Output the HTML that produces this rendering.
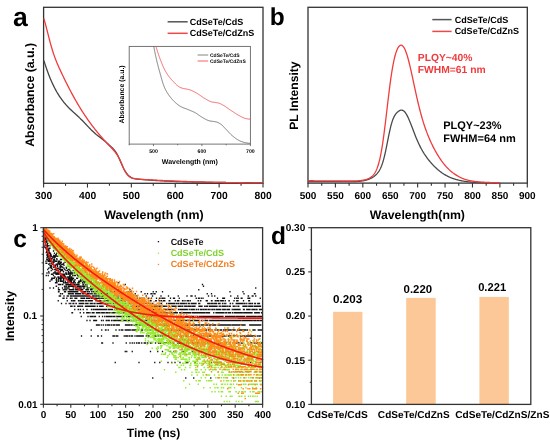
<!DOCTYPE html>
<html><head><meta charset="utf-8"><title>Figure</title>
<style>
html,body{margin:0;padding:0;background:#fff;}
svg{display:block;font-family:"Liberation Sans", sans-serif;text-rendering:geometricPrecision;filter:blur(0.35px);}
</style></head>
<body>
<svg width="550" height="443" viewBox="0 0 550 443">
<rect width="550" height="443" fill="#fff"/>
<rect x="43.6" y="7.3" width="219.4" height="176" stroke="#333" stroke-width="1.3" fill="none"/>
<line x1="43.6" y1="183.3" x2="43.6" y2="187.6" stroke="#333" stroke-width="1.1"/>
<line x1="65.54" y1="183.3" x2="65.54" y2="185.8" stroke="#333" stroke-width="1.1"/>
<line x1="87.48" y1="183.3" x2="87.48" y2="187.6" stroke="#333" stroke-width="1.1"/>
<line x1="109.42" y1="183.3" x2="109.42" y2="185.8" stroke="#333" stroke-width="1.1"/>
<line x1="131.36" y1="183.3" x2="131.36" y2="187.6" stroke="#333" stroke-width="1.1"/>
<line x1="153.3" y1="183.3" x2="153.3" y2="185.8" stroke="#333" stroke-width="1.1"/>
<line x1="175.24" y1="183.3" x2="175.24" y2="187.6" stroke="#333" stroke-width="1.1"/>
<line x1="197.18" y1="183.3" x2="197.18" y2="185.8" stroke="#333" stroke-width="1.1"/>
<line x1="219.12" y1="183.3" x2="219.12" y2="187.6" stroke="#333" stroke-width="1.1"/>
<line x1="241.06" y1="183.3" x2="241.06" y2="185.8" stroke="#333" stroke-width="1.1"/>
<line x1="263" y1="183.3" x2="263" y2="187.6" stroke="#333" stroke-width="1.1"/>
<text x="35.1" y="199.2" font-size="10.3" fill="#000" font-weight="bold">300</text>
<text x="79.02" y="199.2" font-size="10.3" fill="#000" font-weight="bold">400</text>
<text x="122.82" y="199.2" font-size="10.3" fill="#000" font-weight="bold">500</text>
<text x="166.67" y="199.2" font-size="10.3" fill="#000" font-weight="bold">600</text>
<text x="210.52" y="199.2" font-size="10.3" fill="#000" font-weight="bold">700</text>
<text x="254.46" y="199.2" font-size="10.3" fill="#000" font-weight="bold">800</text>
<text x="104.19" y="219" font-size="12.4" fill="#000" font-weight="bold">Wavelength (nm)</text>
<text transform="translate(33.6,146.81) rotate(-90)" x="0" y="0" font-size="12.3" fill="#000" font-weight="bold">Absorbance (a.u.)</text>
<text x="13.12" y="26.3" font-size="26.5" fill="#000" font-weight="bold">a</text>
<path d="M44,60.93 L44.55,62.67 L45.09,64.38 L45.64,66.04 L46.19,67.66 L46.74,69.24 L47.28,70.78 L47.83,72.28 L48.38,73.74 L48.92,75.17 L49.47,76.56 L50.02,77.91 L50.57,79.22 L51.11,80.5 L51.66,81.75 L52.21,82.96 L52.75,84.14 L53.3,85.29 L53.85,86.41 L54.4,87.49 L54.94,88.55 L55.49,89.58 L56.04,90.58 L56.58,91.56 L57.13,92.5 L57.68,93.42 L58.23,94.32 L58.77,95.19 L59.32,96.04 L59.87,96.87 L60.41,97.67 L60.96,98.45 L61.51,99.22 L62.05,99.96 L62.6,100.68 L63.15,101.39 L63.7,102.08 L64.24,102.75 L64.79,103.4 L65.34,104.04 L65.88,104.67 L66.43,105.28 L66.98,105.88 L67.53,106.47 L68.07,107.04 L68.62,107.61 L69.17,108.17 L69.71,108.71 L70.26,109.25 L70.81,109.78 L71.36,110.31 L71.9,110.82 L72.45,111.34 L73,111.84 L73.54,112.35 L74.09,112.85 L74.64,113.35 L75.19,113.85 L75.73,114.34 L76.28,114.84 L76.83,115.34 L77.37,115.84 L77.92,116.34 L78.47,116.84 L79.02,117.35 L79.56,117.86 L80.11,118.38 L80.66,118.91 L81.2,119.44 L81.75,119.98 L82.3,120.52 L82.85,121.08 L83.39,121.64 L83.94,122.21 L84.49,122.78 L85.03,123.35 L85.58,123.93 L86.13,124.52 L86.68,125.1 L87.22,125.68 L87.77,126.26 L88.32,126.84 L88.86,127.42 L89.41,127.99 L89.96,128.56 L90.51,129.12 L91.05,129.68 L91.6,130.22 L92.15,130.76 L92.69,131.29 L93.24,131.81 L93.79,132.32 L94.33,132.81 L94.88,133.29 L95.43,133.76 L95.98,134.22 L96.52,134.67 L97.07,135.1 L97.62,135.53 L98.16,135.96 L98.71,136.38 L99.26,136.79 L99.81,137.21 L100.35,137.62 L100.9,138.04 L101.45,138.46 L101.99,138.88 L102.54,139.3 L103.09,139.74 L103.64,140.18 L104.18,140.63 L104.73,141.09 L105.28,141.56 L105.82,142.04 L106.37,142.53 L106.92,143.02 L107.47,143.52 L108.01,144.02 L108.56,144.51 L109.11,145.01 L109.65,145.49 L110.2,145.97 L110.75,146.46 L111.3,146.95 L111.84,147.45 L112.39,147.97 L112.94,148.52 L113.48,149.09 L114.03,149.71 L114.58,150.37 L115.13,151.08 L115.67,151.85 L116.22,152.68 L116.77,153.57 L117.31,154.55 L117.86,155.6 L118.41,156.72 L118.96,157.9 L119.5,159.12 L120.05,160.38 L120.6,161.65 L121.14,162.92 L121.69,164.18 L122.24,165.42 L122.78,166.62 L123.33,167.77 L123.88,168.85 L124.43,169.86 L124.97,170.8 L125.52,171.67 L126.07,172.48 L126.61,173.22 L127.16,173.91 L127.71,174.54 L128.26,175.11 L128.8,175.63 L129.35,176.1 L129.9,176.53 L130.44,176.91 L130.99,177.25 L131.54,177.55 L132.09,177.82 L132.63,178.05 L133.18,178.26 L133.73,178.43 L134.27,178.59 L134.82,178.71 L135.37,178.82 L135.92,178.92 L136.46,178.99 L137.01,179.06 L137.56,179.12 L138.1,179.17 L138.65,179.22 L139.2,179.27 L139.75,179.31 L140.29,179.36 L140.84,179.41 L141.39,179.45 L141.93,179.5 L142.48,179.54 L143.03,179.59 L143.58,179.63 L144.12,179.67 L144.67,179.72 L145.22,179.76 L145.76,179.8 L146.31,179.84 L146.86,179.88 L147.41,179.92 L147.95,179.96 L148.5,180 L149.05,180.04 L149.59,180.08 L150.14,180.12 L150.69,180.16 L151.24,180.2 L151.78,180.23 L152.33,180.27 L152.88,180.31 L153.42,180.34 L153.97,180.38 L154.52,180.41 L155.06,180.45 L155.61,180.48 L156.16,180.51 L156.71,180.55 L157.25,180.58 L157.8,180.61 L158.35,180.65 L158.89,180.68 L159.44,180.71 L159.99,180.74 L160.54,180.77 L161.08,180.8 L161.63,180.83 L162.18,180.86 L162.72,180.89 L163.27,180.92 L163.82,180.95 L164.37,180.98 L164.91,181 L165.46,181.03 L166.01,181.06 L166.55,181.08 L167.1,181.11 L167.65,181.14 L168.2,181.16 L168.74,181.19 L169.29,181.21 L169.84,181.24 L170.38,181.26 L170.93,181.29 L171.48,181.31 L172.03,181.33 L172.57,181.36 L173.12,181.38 L173.67,181.4 L174.21,181.42 L174.76,181.45 L175.31,181.47 L175.86,181.49 L176.4,181.51 L176.95,181.53 L177.5,181.55 L178.04,181.57 L178.59,181.59 L179.14,181.61 L179.69,181.63 L180.23,181.65 L180.78,181.67 L181.33,181.69 L181.87,181.7 L182.42,181.72 L182.97,181.74 L183.52,181.76 L184.06,181.77 L184.61,181.79 L185.16,181.81 L185.7,181.82 L186.25,181.84 L186.8,181.86 L187.34,181.87 L187.89,181.89 L188.44,181.9 L188.99,181.92 L189.53,181.93 L190.08,181.95 L190.63,181.96 L191.17,181.97 L191.72,181.99 L192.27,182 L192.82,182.02 L193.36,182.03 L193.91,182.04 L194.46,182.05 L195,182.07 L195.55,182.08 L196.1,182.09 L196.65,182.1 L197.19,182.11 L197.74,182.13 L198.29,182.14 L198.83,182.15 L199.38,182.16 L199.93,182.17 L200.48,182.18 L201.02,182.19 L201.57,182.2 L202.12,182.21 L202.66,182.22 L203.21,182.23 L203.76,182.24 L204.31,182.25 L204.85,182.26 L205.4,182.27 L205.95,182.28 L206.49,182.29 L207.04,182.29 L207.59,182.3 L208.14,182.31 L208.68,182.32 L209.23,182.33 L209.78,182.34 L210.32,182.34 L210.87,182.35 L211.42,182.36 L211.97,182.37 L212.51,182.37 L213.06,182.38 L213.61,182.39 L214.15,182.4 L214.7,182.4 L215.25,182.41 L215.79,182.42 L216.34,182.42 L216.89,182.43 L217.44,182.44 L217.98,182.44 L218.53,182.45 L219.08,182.45 L219.62,182.46 L220.17,182.47 L220.72,182.47 L221.27,182.48 L221.81,182.48 L222.36,182.49 L222.91,182.5 L223.45,182.5 L224,182.51 L224.55,182.51 L225.1,182.52 L225.64,182.52 L226.19,182.53 L226.74,182.53 L227.28,182.54 L227.83,182.54 L228.38,182.55 L228.93,182.55 L229.47,182.56 L230.02,182.56 L230.57,182.57 L231.11,182.57 L231.66,182.58 L232.21,182.58 L232.76,182.59 L233.3,182.59 L233.85,182.6 L234.4,182.6 L234.94,182.61 L235.49,182.61 L236.04,182.62 L236.59,182.62 L237.13,182.63 L237.68,182.63 L238.23,182.64 L238.77,182.64 L239.32,182.65 L239.87,182.65 L240.42,182.66 L240.96,182.66 L241.51,182.67 L242.06,182.67 L242.6,182.68 L243.15,182.68 L243.7,182.69 L244.25,182.7 L244.79,182.7 L245.34,182.71 L245.89,182.71 L246.43,182.72 L246.98,182.72 L247.53,182.73 L248.07,182.73 L248.62,182.74 L249.17,182.74 L249.72,182.75 L250.26,182.76 L250.81,182.76 L251.36,182.77 L251.9,182.77 L252.45,182.78 L253,182.79 L253.55,182.79 L254.09,182.8 L254.64,182.81 L255.19,182.81 L255.73,182.82 L256.28,182.83 L256.83,182.83 L257.38,182.84 L257.92,182.85 L258.47,182.86 L259.02,182.86 L259.56,182.87 L260.11,182.88 L260.66,182.89 L261.21,182.89 L261.75,182.9 L262.3,182.9" stroke="#454545" stroke-width="1.3" fill="none" stroke-linejoin="round" stroke-linecap="round"/>
<path d="M44,18.92 L44.55,20.85 L45.09,22.84 L45.64,24.89 L46.19,26.98 L46.74,29.1 L47.28,31.24 L47.83,33.38 L48.38,35.52 L48.92,37.64 L49.47,39.74 L50.02,41.8 L50.57,43.82 L51.11,45.79 L51.66,47.69 L52.21,49.52 L52.75,51.28 L53.3,52.97 L53.85,54.59 L54.4,56.15 L54.94,57.66 L55.49,59.11 L56.04,60.51 L56.58,61.87 L57.13,63.19 L57.68,64.48 L58.23,65.74 L58.77,66.97 L59.32,68.18 L59.87,69.37 L60.41,70.55 L60.96,71.72 L61.51,72.89 L62.05,74.04 L62.6,75.2 L63.15,76.34 L63.7,77.47 L64.24,78.6 L64.79,79.73 L65.34,80.84 L65.88,81.95 L66.43,83.05 L66.98,84.14 L67.53,85.22 L68.07,86.3 L68.62,87.37 L69.17,88.43 L69.71,89.49 L70.26,90.53 L70.81,91.57 L71.36,92.6 L71.9,93.62 L72.45,94.63 L73,95.64 L73.54,96.63 L74.09,97.62 L74.64,98.6 L75.19,99.57 L75.73,100.54 L76.28,101.49 L76.83,102.44 L77.37,103.37 L77.92,104.3 L78.47,105.22 L79.02,106.13 L79.56,107.03 L80.11,107.92 L80.66,108.81 L81.2,109.68 L81.75,110.55 L82.3,111.41 L82.85,112.26 L83.39,113.1 L83.94,113.93 L84.49,114.76 L85.03,115.58 L85.58,116.39 L86.13,117.19 L86.68,117.99 L87.22,118.78 L87.77,119.56 L88.32,120.34 L88.86,121.1 L89.41,121.86 L89.96,122.62 L90.51,123.36 L91.05,124.1 L91.6,124.84 L92.15,125.57 L92.69,126.29 L93.24,127 L93.79,127.71 L94.33,128.41 L94.88,129.11 L95.43,129.8 L95.98,130.48 L96.52,131.16 L97.07,131.84 L97.62,132.5 L98.16,133.17 L98.71,133.82 L99.26,134.48 L99.81,135.12 L100.35,135.77 L100.9,136.4 L101.45,137.04 L101.99,137.67 L102.54,138.29 L103.09,138.91 L103.64,139.52 L104.18,140.13 L104.73,140.74 L105.28,141.34 L105.82,141.94 L106.37,142.53 L106.92,143.13 L107.47,143.71 L108.01,144.3 L108.56,144.88 L109.11,145.45 L109.65,146.03 L110.2,146.6 L110.75,147.16 L111.3,147.73 L111.84,148.3 L112.39,148.88 L112.94,149.48 L113.48,150.09 L114.03,150.71 L114.58,151.37 L115.13,152.05 L115.67,152.76 L116.22,153.51 L116.77,154.3 L117.31,155.13 L117.86,156.02 L118.41,156.95 L118.96,157.94 L119.5,158.99 L120.05,160.1 L120.6,161.28 L121.14,162.53 L121.69,163.82 L122.24,165.13 L122.78,166.44 L123.33,167.72 L123.88,168.95 L124.43,170.11 L124.97,171.18 L125.52,172.15 L126.07,173.03 L126.61,173.82 L127.16,174.54 L127.71,175.18 L128.26,175.74 L128.8,176.25 L129.35,176.68 L129.9,177.07 L130.44,177.39 L130.99,177.68 L131.54,177.91 L132.09,178.12 L132.63,178.28 L133.18,178.42 L133.73,178.54 L134.27,178.63 L134.82,178.71 L135.37,178.78 L135.92,178.85 L136.46,178.91 L137.01,178.97 L137.56,179.03 L138.1,179.08 L138.65,179.13 L139.2,179.18 L139.75,179.22 L140.29,179.26 L140.84,179.3 L141.39,179.34 L141.93,179.38 L142.48,179.42 L143.03,179.45 L143.58,179.49 L144.12,179.52 L144.67,179.55 L145.22,179.58 L145.76,179.62 L146.31,179.65 L146.86,179.68 L147.41,179.71 L147.95,179.74 L148.5,179.77 L149.05,179.8 L149.59,179.84 L150.14,179.87 L150.69,179.9 L151.24,179.93 L151.78,179.96 L152.33,179.99 L152.88,180.02 L153.42,180.05 L153.97,180.08 L154.52,180.1 L155.06,180.13 L155.61,180.16 L156.16,180.19 L156.71,180.22 L157.25,180.25 L157.8,180.28 L158.35,180.3 L158.89,180.33 L159.44,180.36 L159.99,180.39 L160.54,180.41 L161.08,180.44 L161.63,180.47 L162.18,180.49 L162.72,180.52 L163.27,180.55 L163.82,180.57 L164.37,180.6 L164.91,180.62 L165.46,180.65 L166.01,180.67 L166.55,180.7 L167.1,180.72 L167.65,180.75 L168.2,180.77 L168.74,180.8 L169.29,180.82 L169.84,180.85 L170.38,180.87 L170.93,180.89 L171.48,180.92 L172.03,180.94 L172.57,180.97 L173.12,180.99 L173.67,181.01 L174.21,181.03 L174.76,181.06 L175.31,181.08 L175.86,181.1 L176.4,181.12 L176.95,181.15 L177.5,181.17 L178.04,181.19 L178.59,181.21 L179.14,181.23 L179.69,181.25 L180.23,181.27 L180.78,181.3 L181.33,181.32 L181.87,181.34 L182.42,181.36 L182.97,181.38 L183.52,181.4 L184.06,181.42 L184.61,181.44 L185.16,181.46 L185.7,181.48 L186.25,181.5 L186.8,181.52 L187.34,181.53 L187.89,181.55 L188.44,181.57 L188.99,181.59 L189.53,181.61 L190.08,181.63 L190.63,181.65 L191.17,181.66 L191.72,181.68 L192.27,181.7 L192.82,181.72 L193.36,181.73 L193.91,181.75 L194.46,181.77 L195,181.78 L195.55,181.8 L196.1,181.82 L196.65,181.84 L197.19,181.85 L197.74,181.87 L198.29,181.88 L198.83,181.9 L199.38,181.92 L199.93,181.93 L200.48,181.95 L201.02,181.96 L201.57,181.98 L202.12,181.99 L202.66,182.01 L203.21,182.02 L203.76,182.04 L204.31,182.05 L204.85,182.07 L205.4,182.08 L205.95,182.09 L206.49,182.11 L207.04,182.12 L207.59,182.14 L208.14,182.15 L208.68,182.16 L209.23,182.18 L209.78,182.19 L210.32,182.2 L210.87,182.22 L211.42,182.23 L211.97,182.24 L212.51,182.25 L213.06,182.27 L213.61,182.28 L214.15,182.29 L214.7,182.3 L215.25,182.32 L215.79,182.33 L216.34,182.34 L216.89,182.35 L217.44,182.36 L217.98,182.37 L218.53,182.38 L219.08,182.4 L219.62,182.41 L220.17,182.42 L220.72,182.43 L221.27,182.44 L221.81,182.45 L222.36,182.46 L222.91,182.47 L223.45,182.48 L224,182.49 L224.55,182.5 L225.1,182.51 L225.64,182.52 L226.19,182.53 L226.74,182.54 L227.28,182.55 L227.83,182.56 L228.38,182.57 L228.93,182.58 L229.47,182.58 L230.02,182.59 L230.57,182.6 L231.11,182.61 L231.66,182.62 L232.21,182.63 L232.76,182.64 L233.3,182.64 L233.85,182.65 L234.4,182.66 L234.94,182.67 L235.49,182.68 L236.04,182.68 L236.59,182.69 L237.13,182.7 L237.68,182.71 L238.23,182.71 L238.77,182.72 L239.32,182.73 L239.87,182.73 L240.42,182.74 L240.96,182.75 L241.51,182.75 L242.06,182.76 L242.6,182.77 L243.15,182.77 L243.7,182.78 L244.25,182.79 L244.79,182.79 L245.34,182.8 L245.89,182.8 L246.43,182.81 L246.98,182.81 L247.53,182.82 L248.07,182.83 L248.62,182.83 L249.17,182.84 L249.72,182.84 L250.26,182.85 L250.81,182.85 L251.36,182.86 L251.9,182.86 L252.45,182.87 L253,182.87 L253.55,182.88 L254.09,182.88 L254.64,182.88 L255.19,182.89 L255.73,182.89 L256.28,182.9 L256.83,182.9 L257.38,182.9 L257.92,182.9 L258.47,182.9 L259.02,182.9 L259.56,182.9 L260.11,182.9 L260.66,182.9 L261.21,182.9 L261.75,182.9 L262.3,182.9" stroke="#f03c3c" stroke-width="1.3" fill="none" stroke-linejoin="round" stroke-linecap="round"/>
<line x1="167.6" y1="21.8" x2="187.7" y2="21.8" stroke="#555" stroke-width="1.5"/>
<line x1="167.6" y1="33.3" x2="187.7" y2="33.3" stroke="#f04848" stroke-width="1.5"/>
<text x="189.83" y="25" font-size="9" fill="#000" font-weight="bold">CdSeTe/CdS</text>
<text x="189.83" y="36.2" font-size="9" fill="#000" font-weight="bold">CdSeTe/CdZnS</text>
<rect x="129.2" y="46.4" width="121.20" height="97.70" fill="#fff" stroke="#666" stroke-width="0.9"/>
<line x1="129.2" y1="144.1" x2="129.2" y2="145.3" stroke="#555" stroke-width="0.8"/>
<line x1="153.44" y1="144.1" x2="153.44" y2="146.1" stroke="#555" stroke-width="0.8"/>
<line x1="177.68" y1="144.1" x2="177.68" y2="145.3" stroke="#555" stroke-width="0.8"/>
<line x1="201.92" y1="144.1" x2="201.92" y2="146.1" stroke="#555" stroke-width="0.8"/>
<line x1="226.16" y1="144.1" x2="226.16" y2="145.3" stroke="#555" stroke-width="0.8"/>
<line x1="250.4" y1="144.1" x2="250.4" y2="146.1" stroke="#555" stroke-width="0.8"/>
<text x="149.13" y="152.8" font-size="5.2" fill="#000" font-weight="bold">500</text>
<text x="197.59" y="152.8" font-size="5.2" fill="#000" font-weight="bold">600</text>
<text x="246.06" y="152.8" font-size="5.2" fill="#000" font-weight="bold">700</text>
<text x="161.79" y="163.9" font-size="7" fill="#000" font-weight="bold">Wavelength (nm)</text>
<text transform="translate(123.6,123.57) rotate(-90)" x="0" y="0" font-size="6.9" fill="#000" font-weight="bold">Absorbance (a.u.)</text>
<path d="M153.8,46.4 L153.89,46.89 L153.97,47.38 L154.06,47.86 L154.15,48.35 L154.24,48.84 L154.34,49.32 L154.43,49.81 L154.52,50.3 L154.62,50.78 L154.71,51.27 L154.81,51.76 L154.9,52.24 L155,52.73 L155.1,53.21 L155.2,53.7 L155.3,54.18 L155.4,54.67 L155.51,55.15 L155.61,55.64 L155.72,56.12 L155.82,56.6 L155.93,57.09 L156.03,57.57 L156.14,58.05 L156.25,58.54 L156.36,59.02 L156.47,59.5 L156.58,59.98 L156.69,60.46 L156.81,60.95 L156.92,61.43 L157.04,61.91 L157.15,62.39 L157.27,62.87 L157.39,63.35 L157.51,63.83 L157.63,64.31 L157.76,64.79 L157.88,65.27 L158,65.75 L158.13,66.23 L158.26,66.71 L158.38,67.19 L158.51,67.67 L158.64,68.15 L158.77,68.62 L158.9,69.1 L159.03,69.58 L159.16,70.06 L159.29,70.53 L159.43,71.01 L159.56,71.49 L159.69,71.97 L159.83,72.44 L159.96,72.92 L160.1,73.39 L160.23,73.87 L160.37,74.35 L160.5,74.83 L160.63,75.31 L160.77,75.79 L160.9,76.27 L161.03,76.75 L161.16,77.23 L161.3,77.71 L161.43,78.2 L161.57,78.68 L161.7,79.16 L161.84,79.64 L161.98,80.12 L162.12,80.6 L162.26,81.08 L162.4,81.56 L162.55,82.03 L162.7,82.51 L162.85,82.98 L163,83.45 L163.16,83.92 L163.32,84.38 L163.48,84.85 L163.65,85.31 L163.82,85.77 L163.99,86.22 L164.17,86.68 L164.36,87.13 L164.54,87.57 L164.74,88.01 L164.94,88.46 L165.15,88.9 L165.36,89.34 L165.59,89.79 L165.82,90.23 L166.05,90.67 L166.3,91.1 L166.54,91.54 L166.8,91.97 L167.06,92.41 L167.32,92.84 L167.59,93.26 L167.86,93.69 L168.14,94.11 L168.43,94.52 L168.71,94.94 L169,95.35 L169.3,95.75 L169.59,96.15 L169.89,96.55 L170.19,96.94 L170.5,97.32 L170.8,97.7 L171.11,98.07 L171.42,98.44 L171.73,98.81 L172.06,99.18 L172.38,99.54 L172.72,99.91 L173.06,100.27 L173.4,100.64 L173.75,101 L174.11,101.36 L174.47,101.71 L174.84,102.06 L175.21,102.41 L175.58,102.76 L175.96,103.09 L176.34,103.43 L176.73,103.75 L177.12,104.07 L177.51,104.39 L177.91,104.69 L178.31,104.99 L178.71,105.28 L179.12,105.56 L179.53,105.83 L179.94,106.09 L180.35,106.34 L180.76,106.58 L181.18,106.81 L181.61,107.02 L182.05,107.23 L182.5,107.43 L182.95,107.62 L183.41,107.8 L183.88,107.98 L184.35,108.16 L184.82,108.33 L185.29,108.5 L185.76,108.67 L186.24,108.85 L186.71,109.02 L187.17,109.2 L187.63,109.39 L188.09,109.58 L188.55,109.77 L189.01,109.96 L189.47,110.15 L189.93,110.34 L190.39,110.52 L190.85,110.71 L191.31,110.9 L191.77,111.09 L192.23,111.29 L192.68,111.49 L193.13,111.69 L193.58,111.89 L194.02,112.11 L194.47,112.32 L194.9,112.55 L195.33,112.78 L195.76,113.03 L196.18,113.28 L196.59,113.55 L197.01,113.83 L197.41,114.11 L197.82,114.39 L198.23,114.68 L198.63,114.98 L199.03,115.27 L199.44,115.56 L199.84,115.85 L200.25,116.13 L200.66,116.41 L201.08,116.68 L201.5,116.94 L201.92,117.2 L202.35,117.44 L202.78,117.69 L203.21,117.94 L203.64,118.19 L204.08,118.44 L204.52,118.69 L204.96,118.94 L205.4,119.18 L205.84,119.41 L206.29,119.64 L206.74,119.86 L207.19,120.06 L207.65,120.25 L208.1,120.43 L208.56,120.59 L209.03,120.73 L209.49,120.85 L209.97,120.95 L210.45,121.05 L210.94,121.13 L211.43,121.2 L211.93,121.27 L212.43,121.34 L212.93,121.4 L213.43,121.46 L213.92,121.53 L214.42,121.6 L214.91,121.68 L215.39,121.77 L215.87,121.87 L216.34,121.98 L216.8,122.12 L217.26,122.28 L217.72,122.46 L218.18,122.67 L218.64,122.89 L219.08,123.13 L219.52,123.38 L219.96,123.65 L220.38,123.91 L220.79,124.18 L221.18,124.46 L221.57,124.75 L221.94,125.05 L222.3,125.38 L222.66,125.72 L223.01,126.07 L223.35,126.43 L223.69,126.8 L224.03,127.18 L224.36,127.55 L224.7,127.93 L225.04,128.3 L225.38,128.67 L225.73,129.02 L226.07,129.38 L226.42,129.73 L226.77,130.09 L227.11,130.45 L227.45,130.81 L227.79,131.18 L228.13,131.54 L228.47,131.91 L228.81,132.27 L229.15,132.63 L229.5,133 L229.84,133.35 L230.19,133.71 L230.54,134.06 L230.89,134.41 L231.24,134.75 L231.6,135.09 L231.97,135.42 L232.33,135.74 L232.71,136.06 L233.08,136.37 L233.47,136.68 L233.85,136.98 L234.25,137.29 L234.64,137.6 L235.04,137.91 L235.44,138.21 L235.85,138.51 L236.26,138.8 L236.67,139.09 L237.09,139.36 L237.51,139.63 L237.94,139.89 L238.37,140.14 L238.8,140.38 L239.23,140.6 L239.67,140.81 L240.11,141 L240.56,141.19 L241.01,141.37 L241.47,141.54 L241.94,141.7 L242.41,141.86 L242.89,142.02 L243.37,142.16 L243.85,142.3 L244.34,142.43 L244.82,142.55 L245.31,142.66 L245.79,142.76 L246.27,142.85 L246.76,142.94 L247.25,143.02 L247.73,143.1 L248.22,143.18 L248.72,143.24 L249.21,143.3 L249.7,143.36 L250.2,143.4" stroke="#6a6a6a" stroke-width="0.9" fill="none" stroke-linejoin="round" stroke-linecap="round"/>
<path d="M156,46.4 L156.11,46.81 L156.23,47.22 L156.34,47.62 L156.46,48.03 L156.58,48.44 L156.7,48.85 L156.82,49.25 L156.94,49.66 L157.07,50.06 L157.19,50.47 L157.32,50.87 L157.45,51.27 L157.57,51.68 L157.7,52.08 L157.83,52.48 L157.97,52.88 L158.1,53.29 L158.23,53.69 L158.37,54.09 L158.51,54.49 L158.64,54.89 L158.78,55.29 L158.92,55.68 L159.06,56.08 L159.2,56.48 L159.35,56.88 L159.49,57.27 L159.63,57.67 L159.78,58.07 L159.92,58.46 L160.07,58.86 L160.22,59.25 L160.37,59.65 L160.52,60.04 L160.67,60.44 L160.82,60.83 L160.97,61.23 L161.12,61.63 L161.28,62.02 L161.43,62.42 L161.59,62.82 L161.74,63.21 L161.9,63.61 L162.06,64 L162.22,64.4 L162.39,64.79 L162.55,65.18 L162.72,65.58 L162.89,65.97 L163.06,66.36 L163.23,66.74 L163.41,67.13 L163.58,67.52 L163.76,67.9 L163.94,68.28 L164.13,68.66 L164.31,69.04 L164.5,69.41 L164.69,69.78 L164.88,70.15 L165.08,70.52 L165.28,70.89 L165.48,71.25 L165.69,71.61 L165.9,71.97 L166.12,72.33 L166.34,72.69 L166.56,73.05 L166.79,73.41 L167.02,73.76 L167.26,74.12 L167.49,74.47 L167.74,74.82 L167.98,75.17 L168.23,75.52 L168.48,75.87 L168.74,76.21 L168.99,76.56 L169.25,76.9 L169.52,77.23 L169.78,77.57 L170.05,77.9 L170.32,78.23 L170.59,78.56 L170.86,78.88 L171.14,79.2 L171.42,79.52 L171.7,79.83 L171.98,80.14 L172.26,80.45 L172.54,80.75 L172.83,81.06 L173.12,81.37 L173.41,81.68 L173.7,82 L174,82.32 L174.3,82.64 L174.61,82.96 L174.91,83.27 L175.22,83.59 L175.54,83.9 L175.86,84.21 L176.18,84.51 L176.5,84.81 L176.82,85.1 L177.15,85.38 L177.49,85.66 L177.82,85.92 L178.16,86.18 L178.5,86.43 L178.84,86.66 L179.19,86.88 L179.54,87.09 L179.9,87.28 L180.25,87.46 L180.61,87.62 L180.97,87.77 L181.35,87.9 L181.73,88.03 L182.12,88.14 L182.51,88.25 L182.91,88.36 L183.32,88.45 L183.74,88.54 L184.15,88.63 L184.58,88.72 L185,88.8 L185.43,88.88 L185.85,88.96 L186.28,89.04 L186.71,89.12 L187.14,89.2 L187.57,89.29 L187.99,89.38 L188.41,89.47 L188.83,89.57 L189.24,89.68 L189.64,89.79 L190.04,89.92 L190.44,90.05 L190.83,90.19 L191.22,90.34 L191.61,90.5 L191.99,90.67 L192.38,90.84 L192.76,91.02 L193.14,91.21 L193.52,91.41 L193.89,91.6 L194.27,91.81 L194.64,92.01 L195.02,92.22 L195.39,92.43 L195.76,92.65 L196.13,92.86 L196.49,93.07 L196.86,93.29 L197.23,93.5 L197.59,93.71 L197.95,93.93 L198.31,94.15 L198.66,94.38 L199.02,94.61 L199.37,94.85 L199.72,95.09 L200.07,95.33 L200.41,95.57 L200.76,95.82 L201.11,96.06 L201.45,96.31 L201.8,96.55 L202.15,96.79 L202.5,97.03 L202.85,97.27 L203.2,97.5 L203.56,97.73 L203.91,97.95 L204.27,98.17 L204.64,98.38 L205,98.59 L205.37,98.81 L205.74,99.03 L206.1,99.26 L206.47,99.48 L206.84,99.7 L207.21,99.92 L207.59,100.13 L207.96,100.35 L208.34,100.55 L208.72,100.75 L209.1,100.94 L209.48,101.12 L209.86,101.3 L210.25,101.45 L210.64,101.6 L211.03,101.73 L211.42,101.85 L211.82,101.95 L212.22,102.05 L212.63,102.13 L213.04,102.2 L213.46,102.27 L213.88,102.33 L214.31,102.39 L214.73,102.44 L215.16,102.5 L215.59,102.55 L216.01,102.61 L216.44,102.67 L216.86,102.73 L217.28,102.8 L217.69,102.87 L218.1,102.96 L218.51,103.05 L218.9,103.16 L219.3,103.28 L219.69,103.42 L220.08,103.58 L220.47,103.76 L220.85,103.94 L221.23,104.14 L221.61,104.34 L221.99,104.55 L222.36,104.76 L222.73,104.97 L223.1,105.18 L223.47,105.38 L223.84,105.59 L224.2,105.81 L224.56,106.02 L224.91,106.25 L225.27,106.48 L225.62,106.71 L225.97,106.95 L226.31,107.19 L226.66,107.44 L227.01,107.68 L227.35,107.93 L227.7,108.18 L228.04,108.42 L228.39,108.67 L228.73,108.92 L229.08,109.16 L229.42,109.41 L229.77,109.65 L230.12,109.89 L230.48,110.12 L230.83,110.35 L231.18,110.58 L231.54,110.81 L231.89,111.05 L232.24,111.28 L232.6,111.52 L232.95,111.75 L233.3,111.99 L233.66,112.22 L234.01,112.46 L234.37,112.69 L234.72,112.93 L235.08,113.16 L235.43,113.39 L235.79,113.62 L236.15,113.84 L236.51,114.07 L236.87,114.29 L237.23,114.51 L237.59,114.73 L237.95,114.94 L238.32,115.15 L238.69,115.35 L239.06,115.56 L239.43,115.75 L239.8,115.95 L240.17,116.14 L240.55,116.33 L240.93,116.52 L241.31,116.71 L241.69,116.91 L242.07,117.1 L242.46,117.29 L242.84,117.47 L243.23,117.65 L243.63,117.82 L244.02,117.98 L244.41,118.14 L244.81,118.27 L245.21,118.4 L245.61,118.51 L246.01,118.6 L246.42,118.69 L246.83,118.77 L247.24,118.85 L247.66,118.92 L248.08,118.99 L248.5,119.05 L248.92,119.1 L249.34,119.14 L249.77,119.18 L250.2,119.2" stroke="#f05050" stroke-width="0.9" fill="none" stroke-linejoin="round" stroke-linecap="round"/>
<line x1="197.6" y1="55" x2="208.2" y2="55" stroke="#777" stroke-width="0.9"/>
<line x1="197.6" y1="61" x2="208.2" y2="61" stroke="#f05050" stroke-width="0.9"/>
<text x="209.99" y="56.6" font-size="5" fill="#000" font-weight="bold">CdSeTe/CdS</text>
<text x="209.99" y="62.6" font-size="5" fill="#000" font-weight="bold">CdSeTe/CdZnS</text>
<rect x="308" y="7.3" width="219.3" height="175.8" stroke="#333" stroke-width="1.3" fill="none"/>
<line x1="308" y1="183.1" x2="308" y2="187.5" stroke="#333" stroke-width="1.1"/>
<line x1="321.71" y1="183.1" x2="321.71" y2="185.7" stroke="#333" stroke-width="1.1"/>
<line x1="335.41" y1="183.1" x2="335.41" y2="187.5" stroke="#333" stroke-width="1.1"/>
<line x1="349.12" y1="183.1" x2="349.12" y2="185.7" stroke="#333" stroke-width="1.1"/>
<line x1="362.82" y1="183.1" x2="362.82" y2="187.5" stroke="#333" stroke-width="1.1"/>
<line x1="376.53" y1="183.1" x2="376.53" y2="185.7" stroke="#333" stroke-width="1.1"/>
<line x1="390.24" y1="183.1" x2="390.24" y2="187.5" stroke="#333" stroke-width="1.1"/>
<line x1="403.94" y1="183.1" x2="403.94" y2="185.7" stroke="#333" stroke-width="1.1"/>
<line x1="417.65" y1="183.1" x2="417.65" y2="187.5" stroke="#333" stroke-width="1.1"/>
<line x1="431.36" y1="183.1" x2="431.36" y2="185.7" stroke="#333" stroke-width="1.1"/>
<line x1="445.06" y1="183.1" x2="445.06" y2="187.5" stroke="#333" stroke-width="1.1"/>
<line x1="458.77" y1="183.1" x2="458.77" y2="185.7" stroke="#333" stroke-width="1.1"/>
<line x1="472.47" y1="183.1" x2="472.47" y2="187.5" stroke="#333" stroke-width="1.1"/>
<line x1="486.18" y1="183.1" x2="486.18" y2="185.7" stroke="#333" stroke-width="1.1"/>
<line x1="499.89" y1="183.1" x2="499.89" y2="187.5" stroke="#333" stroke-width="1.1"/>
<line x1="513.59" y1="183.1" x2="513.59" y2="185.7" stroke="#333" stroke-width="1.1"/>
<line x1="527.3" y1="183.1" x2="527.3" y2="187.5" stroke="#333" stroke-width="1.1"/>
<text x="299.71" y="199" font-size="10" fill="#000" font-weight="bold">500</text>
<text x="327.12" y="199" font-size="10" fill="#000" font-weight="bold">550</text>
<text x="354.5" y="199" font-size="10" fill="#000" font-weight="bold">600</text>
<text x="381.92" y="199" font-size="10" fill="#000" font-weight="bold">650</text>
<text x="409.3" y="199" font-size="10" fill="#000" font-weight="bold">700</text>
<text x="436.71" y="199" font-size="10" fill="#000" font-weight="bold">750</text>
<text x="464.18" y="199" font-size="10" fill="#000" font-weight="bold">800</text>
<text x="491.59" y="199" font-size="10" fill="#000" font-weight="bold">850</text>
<text x="518.99" y="199" font-size="10" fill="#000" font-weight="bold">900</text>
<text x="369.79" y="219.2" font-size="12.3" fill="#000" font-weight="bold">Wavelength(nm)</text>
<text transform="translate(298,129.81) rotate(-90)" x="0" y="0" font-size="12.1" fill="#000" font-weight="bold">PL Intensity</text>
<text x="269.69" y="24.9" font-size="24.5" fill="#000" font-weight="bold">b</text>
<path d="M308.6,181.52 L308.98,181.52 L309.37,181.52 L309.75,181.53 L310.13,181.53 L310.51,181.53 L310.9,181.53 L311.28,181.53 L311.66,181.54 L312.04,181.54 L312.43,181.54 L312.81,181.54 L313.19,181.54 L313.57,181.55 L313.96,181.55 L314.34,181.55 L314.72,181.55 L315.1,181.55 L315.49,181.56 L315.87,181.56 L316.25,181.56 L316.63,181.56 L317.02,181.57 L317.4,181.57 L317.78,181.57 L318.16,181.57 L318.55,181.57 L318.93,181.58 L319.31,181.58 L319.69,181.58 L320.08,181.58 L320.46,181.58 L320.84,181.59 L321.22,181.59 L321.61,181.59 L321.99,181.59 L322.37,181.59 L322.75,181.6 L323.14,181.6 L323.52,181.6 L323.9,181.6 L324.29,181.6 L324.67,181.61 L325.05,181.61 L325.43,181.61 L325.82,181.61 L326.2,181.61 L326.58,181.62 L326.96,181.62 L327.35,181.62 L327.73,181.62 L328.11,181.62 L328.49,181.63 L328.88,181.63 L329.26,181.63 L329.64,181.63 L330.02,181.63 L330.41,181.64 L330.79,181.64 L331.17,181.64 L331.55,181.64 L331.94,181.64 L332.32,181.65 L332.7,181.65 L333.08,181.65 L333.47,181.65 L333.85,181.66 L334.23,181.66 L334.61,181.66 L335,181.66 L335.38,181.66 L335.76,181.67 L336.14,181.67 L336.53,181.67 L336.91,181.67 L337.29,181.67 L337.67,181.67 L338.06,181.68 L338.44,181.68 L338.82,181.68 L339.21,181.68 L339.59,181.68 L339.97,181.69 L340.35,181.69 L340.74,181.69 L341.12,181.69 L341.5,181.69 L341.88,181.69 L342.27,181.7 L342.65,181.7 L343.03,181.7 L343.41,181.7 L343.8,181.7 L344.18,181.7 L344.56,181.7 L344.94,181.7 L345.33,181.7 L345.71,181.7 L346.09,181.7 L346.47,181.7 L346.86,181.7 L347.24,181.7 L347.62,181.7 L348,181.7 L348.39,181.7 L348.77,181.7 L349.15,181.7 L349.53,181.69 L349.92,181.69 L350.3,181.69 L350.68,181.68 L351.06,181.68 L351.45,181.67 L351.83,181.67 L352.21,181.66 L352.59,181.66 L352.98,181.65 L353.36,181.64 L353.74,181.63 L354.13,181.62 L354.51,181.61 L354.89,181.59 L355.27,181.58 L355.66,181.56 L356.04,181.54 L356.42,181.53 L356.8,181.51 L357.19,181.48 L357.57,181.46 L357.95,181.43 L358.33,181.41 L358.72,181.38 L359.1,181.34 L359.48,181.31 L359.86,181.27 L360.25,181.23 L360.63,181.19 L361.01,181.14 L361.39,181.09 L361.78,181.04 L362.16,180.98 L362.54,180.92 L362.92,180.86 L363.31,180.79 L363.69,180.72 L364.07,180.65 L364.45,180.56 L364.84,180.48 L365.22,180.39 L365.6,180.29 L365.98,180.19 L366.37,180.09 L366.75,179.97 L367.13,179.86 L367.52,179.73 L367.9,179.6 L368.28,179.46 L368.66,179.32 L369.05,179.17 L369.43,179.01 L369.81,178.84 L370.19,178.67 L370.58,178.49 L370.96,178.29 L371.34,178.09 L371.72,177.88 L372.11,177.66 L372.49,177.43 L372.87,177.19 L373.25,176.94 L373.64,176.68 L374.02,176.4 L374.4,176.11 L374.78,175.81 L375.17,175.49 L375.55,175.15 L375.93,174.8 L376.31,174.42 L376.7,174.03 L377.08,173.61 L377.46,173.16 L377.84,172.69 L378.23,172.18 L378.61,171.64 L378.99,171.06 L379.37,170.44 L379.76,169.77 L380.14,169.05 L380.52,168.27 L380.9,167.43 L381.29,166.53 L381.67,165.56 L382.05,164.52 L382.44,163.4 L382.82,162.2 L383.2,160.92 L383.58,159.56 L383.97,158.12 L384.35,156.6 L384.73,155 L385.11,153.33 L385.5,151.6 L385.88,149.8 L386.26,147.96 L386.64,146.07 L387.03,144.16 L387.41,142.23 L387.79,140.29 L388.17,138.37 L388.56,136.46 L388.94,134.6 L389.32,132.77 L389.7,131.01 L390.09,129.31 L390.47,127.69 L390.85,126.15 L391.23,124.7 L391.62,123.34 L392,122.08 L392.38,120.9 L392.76,119.82 L393.15,118.83 L393.53,117.92 L393.91,117.09 L394.29,116.34 L394.68,115.65 L395.06,115.02 L395.44,114.45 L395.82,113.93 L396.21,113.45 L396.59,113.01 L396.97,112.61 L397.36,112.23 L397.74,111.89 L398.12,111.58 L398.5,111.29 L398.89,111.03 L399.27,110.8 L399.65,110.6 L400.03,110.44 L400.42,110.3 L400.8,110.21 L401.18,110.15 L401.56,110.14 L401.95,110.17 L402.33,110.25 L402.71,110.37 L403.09,110.55 L403.48,110.78 L403.86,111.06 L404.24,111.39 L404.62,111.78 L405.01,112.22 L405.39,112.71 L405.77,113.26 L406.15,113.85 L406.54,114.49 L406.92,115.17 L407.3,115.89 L407.68,116.66 L408.07,117.46 L408.45,118.3 L408.83,119.16 L409.21,120.06 L409.6,120.98 L409.98,121.92 L410.36,122.87 L410.74,123.85 L411.13,124.83 L411.51,125.83 L411.89,126.83 L412.28,127.83 L412.66,128.84 L413.04,129.85 L413.42,130.85 L413.81,131.85 L414.19,132.84 L414.57,133.82 L414.95,134.79 L415.34,135.76 L415.72,136.7 L416.1,137.64 L416.48,138.56 L416.87,139.47 L417.25,140.36 L417.63,141.23 L418.01,142.09 L418.4,142.93 L418.78,143.75 L419.16,144.56 L419.54,145.35 L419.93,146.12 L420.31,146.87 L420.69,147.61 L421.07,148.34 L421.46,149.04 L421.84,149.74 L422.22,150.41 L422.6,151.08 L422.99,151.72 L423.37,152.36 L423.75,152.98 L424.13,153.59 L424.52,154.18 L424.9,154.77 L425.28,155.34 L425.66,155.9 L426.05,156.45 L426.43,156.99 L426.81,157.52 L427.2,158.04 L427.58,158.55 L427.96,159.06 L428.34,159.55 L428.73,160.04 L429.11,160.51 L429.49,160.98 L429.87,161.45 L430.26,161.9 L430.64,162.35 L431.02,162.79 L431.4,163.23 L431.79,163.65 L432.17,164.07 L432.55,164.49 L432.93,164.9 L433.32,165.3 L433.7,165.69 L434.08,166.08 L434.46,166.47 L434.85,166.85 L435.23,167.22 L435.61,167.58 L435.99,167.94 L436.38,168.3 L436.76,168.65 L437.14,168.99 L437.52,169.33 L437.91,169.66 L438.29,169.98 L438.67,170.3 L439.05,170.62 L439.44,170.92 L439.82,171.23 L440.2,171.52 L440.58,171.82 L440.97,172.1 L441.35,172.38 L441.73,172.66 L442.12,172.93 L442.5,173.19 L442.88,173.45 L443.26,173.7 L443.65,173.95 L444.03,174.19 L444.41,174.43 L444.79,174.66 L445.18,174.89 L445.56,175.11 L445.94,175.33 L446.32,175.54 L446.71,175.75 L447.09,175.95 L447.47,176.15 L447.85,176.34 L448.24,176.53 L448.62,176.71 L449,176.89 L449.38,177.06 L449.77,177.23 L450.15,177.4 L450.53,177.56 L450.91,177.72 L451.3,177.87 L451.68,178.02 L452.06,178.16 L452.44,178.3 L452.83,178.44 L453.21,178.57 L453.59,178.7 L453.97,178.83 L454.36,178.95 L454.74,179.07 L455.12,179.18 L455.51,179.3 L455.89,179.41 L456.27,179.52 L456.65,179.63 L457.04,179.74 L457.42,179.85 L457.8,179.95 L458.18,180.05 L458.57,180.14 L458.95,180.24 L459.33,180.33 L459.71,180.42 L460.1,180.5 L460.48,180.58 L460.86,180.66 L461.24,180.74 L461.63,180.82 L462.01,180.89 L462.39,180.96 L462.77,181.03 L463.16,181.1 L463.54,181.16 L463.92,181.22 L464.3,181.28 L464.69,181.34 L465.07,181.4 L465.45,181.45 L465.83,181.51 L466.22,181.56 L466.6,181.61 L466.98,181.65 L467.36,181.7 L467.75,181.74 L468.13,181.79 L468.51,181.83 L468.89,181.87 L469.28,181.91 L469.66,181.94 L470.04,181.98 L470.43,182.01 L470.81,182.05 L471.19,182.08 L471.57,182.11 L471.96,182.14 L472.34,182.17 L472.72,182.2 L473.1,182.22 L473.49,182.25 L473.87,182.28 L474.25,182.3 L474.63,182.32 L475.02,182.35 L475.4,182.37 L475.78,182.39 L476.16,182.41 L476.55,182.43 L476.93,182.45 L477.31,182.47 L477.69,182.49 L478.08,182.51 L478.46,182.53 L478.84,182.54 L479.22,182.56 L479.61,182.58 L479.99,182.59 L480.37,182.61 L480.75,182.62 L481.14,182.64 L481.52,182.65 L481.9,182.66 L482.28,182.68 L482.67,182.69 L483.05,182.7 L483.43,182.72 L483.81,182.73 L484.2,182.74 L484.58,182.75 L484.96,182.76 L485.35,182.77 L485.73,182.79 L486.11,182.8 L486.49,182.81 L486.88,182.82 L487.26,182.83 L487.64,182.84 L488.02,182.85 L488.41,182.86 L488.79,182.87 L489.17,182.88 L489.55,182.89 L489.94,182.9 L490.32,182.91 L490.7,182.91 L491.08,182.92 L491.47,182.93 L491.85,182.94 L492.23,182.95 L492.61,182.96 L493,182.97 L493.38,182.97 L493.76,182.98 L494.14,182.99 L494.53,183 L494.91,183.01 L495.29,183.02 L495.67,183.02 L496.06,183.03 L496.44,183.04 L496.82,183.05 L497.2,183.05 L497.59,183.06 L497.97,183.07 L498.35,183.08 L498.73,183.09 L499.12,183.09 L499.5,183.1" stroke="#4a4a4a" stroke-width="1.3" fill="none" stroke-linejoin="round" stroke-linecap="round"/>
<path d="M308.6,180.74 L308.98,180.74 L309.37,180.74 L309.75,180.75 L310.13,180.75 L310.51,180.75 L310.9,180.75 L311.28,180.76 L311.66,180.76 L312.04,180.76 L312.43,180.77 L312.81,180.77 L313.19,180.77 L313.57,180.77 L313.96,180.78 L314.34,180.78 L314.72,180.78 L315.1,180.79 L315.49,180.79 L315.87,180.79 L316.25,180.79 L316.63,180.8 L317.02,180.8 L317.4,180.8 L317.78,180.81 L318.16,180.81 L318.55,180.81 L318.93,180.81 L319.31,180.82 L319.69,180.82 L320.08,180.82 L320.46,180.83 L320.84,180.83 L321.22,180.83 L321.61,180.83 L321.99,180.84 L322.37,180.84 L322.75,180.84 L323.14,180.85 L323.52,180.85 L323.9,180.85 L324.29,180.85 L324.67,180.86 L325.05,180.86 L325.43,180.86 L325.82,180.86 L326.2,180.87 L326.58,180.87 L326.96,180.87 L327.35,180.88 L327.73,180.88 L328.11,180.88 L328.49,180.88 L328.88,180.89 L329.26,180.89 L329.64,180.89 L330.02,180.9 L330.41,180.9 L330.79,180.9 L331.17,180.9 L331.55,180.91 L331.94,180.91 L332.32,180.91 L332.7,180.92 L333.08,180.92 L333.47,180.92 L333.85,180.92 L334.23,180.93 L334.61,180.93 L335,180.93 L335.38,180.94 L335.76,180.94 L336.14,180.94 L336.53,180.94 L336.91,180.95 L337.29,180.95 L337.67,180.95 L338.06,180.95 L338.44,180.96 L338.82,180.96 L339.21,180.96 L339.59,180.97 L339.97,180.97 L340.35,180.97 L340.74,180.97 L341.12,180.98 L341.5,180.98 L341.88,180.98 L342.27,180.98 L342.65,180.98 L343.03,180.99 L343.41,180.99 L343.8,180.99 L344.18,180.99 L344.56,181 L344.94,181 L345.33,181 L345.71,181 L346.09,181 L346.47,181 L346.86,181 L347.24,181 L347.62,181.01 L348,181.01 L348.39,181.01 L348.77,181.01 L349.15,181.01 L349.53,181 L349.92,181 L350.3,181 L350.68,181 L351.06,181 L351.45,180.99 L351.83,180.99 L352.21,180.98 L352.59,180.98 L352.98,180.97 L353.36,180.97 L353.74,180.96 L354.13,180.95 L354.51,180.94 L354.89,180.93 L355.27,180.92 L355.66,180.9 L356.04,180.89 L356.42,180.87 L356.8,180.85 L357.19,180.83 L357.57,180.81 L357.95,180.79 L358.33,180.76 L358.72,180.74 L359.1,180.7 L359.48,180.67 L359.86,180.64 L360.25,180.6 L360.63,180.56 L361.01,180.51 L361.39,180.46 L361.78,180.41 L362.16,180.35 L362.54,180.29 L362.92,180.23 L363.31,180.16 L363.69,180.08 L364.07,180 L364.45,179.92 L364.84,179.83 L365.22,179.73 L365.6,179.63 L365.98,179.51 L366.37,179.4 L366.75,179.27 L367.13,179.13 L367.52,178.99 L367.9,178.83 L368.28,178.67 L368.66,178.49 L369.05,178.31 L369.43,178.1 L369.81,177.89 L370.19,177.66 L370.58,177.41 L370.96,177.15 L371.34,176.86 L371.72,176.55 L372.11,176.22 L372.49,175.87 L372.87,175.48 L373.25,175.07 L373.64,174.62 L374.02,174.13 L374.4,173.6 L374.78,173.03 L375.17,172.4 L375.55,171.72 L375.93,170.99 L376.31,170.19 L376.7,169.32 L377.08,168.38 L377.46,167.36 L377.84,166.26 L378.23,165.06 L378.61,163.78 L378.99,162.39 L379.37,160.9 L379.76,159.3 L380.14,157.59 L380.52,155.76 L380.9,153.81 L381.29,151.75 L381.67,149.57 L382.05,147.27 L382.44,144.86 L382.82,142.33 L383.2,139.7 L383.58,136.95 L383.97,134.12 L384.35,131.19 L384.73,128.18 L385.11,125.1 L385.5,121.96 L385.88,118.77 L386.26,115.54 L386.64,112.28 L387.03,109.02 L387.41,105.75 L387.79,102.5 L388.17,99.28 L388.56,96.09 L388.94,92.96 L389.32,89.88 L389.7,86.88 L390.09,83.96 L390.47,81.13 L390.85,78.4 L391.23,75.77 L391.62,73.25 L392,70.84 L392.38,68.55 L392.76,66.38 L393.15,64.32 L393.53,62.38 L393.91,60.56 L394.29,58.85 L394.68,57.26 L395.06,55.78 L395.44,54.41 L395.82,53.15 L396.21,51.98 L396.59,50.92 L396.97,49.96 L397.36,49.09 L397.74,48.31 L398.12,47.62 L398.5,47.02 L398.89,46.51 L399.27,46.08 L399.65,45.74 L400.03,45.48 L400.42,45.3 L400.8,45.2 L401.18,45.19 L401.56,45.25 L401.95,45.4 L402.33,45.64 L402.71,45.95 L403.09,46.35 L403.48,46.83 L403.86,47.39 L404.24,48.03 L404.62,48.75 L405.01,49.55 L405.39,50.43 L405.77,51.39 L406.15,52.41 L406.54,53.52 L406.92,54.69 L407.3,55.92 L407.68,57.22 L408.07,58.58 L408.45,60 L408.83,61.47 L409.21,62.99 L409.6,64.55 L409.98,66.15 L410.36,67.79 L410.74,69.47 L411.13,71.17 L411.51,72.9 L411.89,74.64 L412.28,76.41 L412.66,78.18 L413.04,79.96 L413.42,81.75 L413.81,83.54 L414.19,85.33 L414.57,87.11 L414.95,88.88 L415.34,90.65 L415.72,92.4 L416.1,94.13 L416.48,95.85 L416.87,97.54 L417.25,99.22 L417.63,100.87 L418.01,102.49 L418.4,104.1 L418.78,105.67 L419.16,107.22 L419.54,108.74 L419.93,110.23 L420.31,111.69 L420.69,113.12 L421.07,114.53 L421.46,115.91 L421.84,117.25 L422.22,118.57 L422.6,119.86 L422.99,121.13 L423.37,122.37 L423.75,123.58 L424.13,124.76 L424.52,125.92 L424.9,127.05 L425.28,128.17 L425.66,129.25 L426.05,130.32 L426.43,131.36 L426.81,132.38 L427.2,133.38 L427.58,134.37 L427.96,135.33 L428.34,136.27 L428.73,137.2 L429.11,138.11 L429.49,139 L429.87,139.88 L430.26,140.74 L430.64,141.59 L431.02,142.42 L431.4,143.24 L431.79,144.04 L432.17,144.83 L432.55,145.61 L432.93,146.38 L433.32,147.13 L433.7,147.87 L434.08,148.6 L434.46,149.32 L434.85,150.03 L435.23,150.73 L435.61,151.42 L435.99,152.09 L436.38,152.76 L436.76,153.42 L437.14,154.06 L437.52,154.7 L437.91,155.33 L438.29,155.94 L438.67,156.55 L439.05,157.15 L439.44,157.74 L439.82,158.32 L440.2,158.89 L440.58,159.45 L440.97,160 L441.35,160.54 L441.73,161.08 L442.12,161.6 L442.5,162.11 L442.88,162.62 L443.26,163.12 L443.65,163.6 L444.03,164.08 L444.41,164.55 L444.79,165.02 L445.18,165.47 L445.56,165.91 L445.94,166.35 L446.32,166.77 L446.71,167.19 L447.09,167.6 L447.47,168 L447.85,168.39 L448.24,168.78 L448.62,169.15 L449,169.52 L449.38,169.88 L449.77,170.23 L450.15,170.58 L450.53,170.91 L450.91,171.24 L451.3,171.56 L451.68,171.88 L452.06,172.18 L452.44,172.48 L452.83,172.77 L453.21,173.06 L453.59,173.33 L453.97,173.6 L454.36,173.87 L454.74,174.12 L455.12,174.37 L455.51,174.63 L455.89,174.88 L456.27,175.12 L456.65,175.36 L457.04,175.6 L457.42,175.83 L457.8,176.05 L458.18,176.27 L458.57,176.49 L458.95,176.7 L459.33,176.9 L459.71,177.1 L460.1,177.29 L460.48,177.48 L460.86,177.66 L461.24,177.83 L461.63,178 L462.01,178.17 L462.39,178.33 L462.77,178.49 L463.16,178.64 L463.54,178.79 L463.92,178.93 L464.3,179.06 L464.69,179.2 L465.07,179.32 L465.45,179.45 L465.83,179.57 L466.22,179.68 L466.6,179.8 L466.98,179.9 L467.36,180.01 L467.75,180.11 L468.13,180.21 L468.51,180.3 L468.89,180.39 L469.28,180.48 L469.66,180.56 L470.04,180.64 L470.43,180.72 L470.81,180.8 L471.19,180.87 L471.57,180.94 L471.96,181.01 L472.34,181.08 L472.72,181.14 L473.1,181.2 L473.49,181.26 L473.87,181.31 L474.25,181.37 L474.63,181.42 L475.02,181.47 L475.4,181.52 L475.78,181.57 L476.16,181.61 L476.55,181.65 L476.93,181.7 L477.31,181.74 L477.69,181.77 L478.08,181.81 L478.46,181.85 L478.84,181.88 L479.22,181.92 L479.61,181.95 L479.99,181.98 L480.37,182.01 L480.75,182.04 L481.14,182.07 L481.52,182.1 L481.9,182.12 L482.28,182.15 L482.67,182.17 L483.05,182.2 L483.43,182.22 L483.81,182.24 L484.2,182.26 L484.58,182.28 L484.96,182.3 L485.35,182.32 L485.73,182.34 L486.11,182.36 L486.49,182.38 L486.88,182.4 L487.26,182.41 L487.64,182.43 L488.02,182.45 L488.41,182.46 L488.79,182.48 L489.17,182.49 L489.55,182.51 L489.94,182.52 L490.32,182.53 L490.7,182.55 L491.08,182.56 L491.47,182.57 L491.85,182.59 L492.23,182.6 L492.61,182.61 L493,182.62 L493.38,182.64 L493.76,182.65 L494.14,182.66 L494.53,182.67 L494.91,182.68 L495.29,182.69 L495.67,182.7 L496.06,182.71 L496.44,182.72 L496.82,182.73 L497.2,182.74 L497.59,182.75 L497.97,182.76 L498.35,182.77 L498.73,182.78 L499.12,182.79 L499.5,182.8" stroke="#f03c3c" stroke-width="1.3" fill="none" stroke-linejoin="round" stroke-linecap="round"/>
<line x1="432.3" y1="19.6" x2="451.6" y2="19.6" stroke="#555" stroke-width="1.5"/>
<line x1="432.3" y1="31.4" x2="451.6" y2="31.4" stroke="#f04848" stroke-width="1.5"/>
<text x="454.63" y="22.6" font-size="9.05" fill="#000" font-weight="bold">CdSeTe/CdS</text>
<text x="454.63" y="33.9" font-size="9" fill="#000" font-weight="bold">CdSeTe/CdZnS</text>
<text x="417.81" y="61.4" font-size="10.3" fill="#f03c3c" font-weight="bold">PLQY~40%</text>
<text x="417.81" y="73.2" font-size="10.3" fill="#f03c3c" font-weight="bold">FWHM=61 nm</text>
<text x="443.26" y="129.3" font-size="11" fill="#000" font-weight="bold">PLQY~23%</text>
<text x="443.26" y="141.9" font-size="11" fill="#000" font-weight="bold">FWHM=64 nm</text>
<text x="13.24" y="246.6" font-size="24.5" fill="#000" font-weight="bold">c</text>
<path transform="scale(0.25)" stroke="#111" stroke-width="5.2" stroke-linecap="square" fill="none" d="M176 932h0m1 27h0m1 29h0m1-36h0m0-35h0m1 37h0m0 27h0m0-53h0m1 31h0m0 12h0m0-36h0m0 8h0m1 16h0m0 8h0m0 11h0m0-53h0m0 66h0m1-41h0m1 95h0m0-95h0m0 6h0m0 97h0m1-86h0m0 43h0m0 92h0m0-106h0m1-13h0m0 10h0m1 14h0m0-42h0m0 73h0m0 15h0m0-65h0m0-19h0m0-10h0m1 63h0m0-29h0m0 26h0m0 12h0m0-48h0m0 109h0m0-109h0m0 18h0m1-20h0m0 20h0m0 6h0m0-31h0m1 40h0m0-33h0m0 16h0m0 29h0m0-42h0m0-51h0m0 103h0m1-13h0m0 0h0m0-51h0m0 36h0m0-80h0m0 71h0m0 77h0m1-36h0m0-20h0m0-72h0m1-7h0m0 102h0m0-82h0m0 53h0m0 86h0m0-101h0m0-18h0m2 45h0m0 45h0m0 14h0m0-91h0m0 61h0m0-56h0m0 34h0m1-28h0m0-14h0m0 8h0m0 91h0m0-47h0m1-3h0m0-32h0m1 35h0m0-32h0m0 9h0m0 20h0m0 0h0m1 3h0m0-7h0m1 23h0m0-8h0m0 8h0m0 0h0m0-30h0m0 121h0m0-27h0m0-90h0m0-52h0m0 10h0m0-41h0m0 17h0m1 73h0m0-4h0m0 31h0m0-113h0m1 57h0m0 22h0m0-16h0m0 16h0m1-4h0m0 4h0m0-61h0m0 91h0m0 4h0m0-44h0m0 20h0m0 16h0m0-36h0m1 13h0m0-19h0m1 50h0m0-8h0m0 58h0m0-37h0m0-9h0m1-48h0m0-60h0m0 132h0m1-32h0m0-12h0m0 60h0m0-40h0m1 46h0m0-84h0m0 14h0m2 8h0m1-26h0m0 47h0m0 19h0m0-48h0m0-21h0m1 25h0m0 4h0m0 56h0m1-68h0m0 0h0m0-3h0m1 7h0m0 53h0m0-111h0m0 161h0m0-60h0m0 10h0m0-121h0m0 23h0m1 18h0m0 6h0m0 41h0m0-31h0m0-13h0m1 24h0m0 0h0m0 43h0m0-23h0m1-47h0m0 91h0m0-48h0m1-69h0m0 29h0m0 6h0m0-6h0m0 13h0m0-25h0m0 12h0m1 53h0m0-36h0m0 66h0m0-115h0m0 85h0m1 30h0m0-47h0m0 26h0m0 5h0m0-27h0m1 0h0m0 13h0m0-33h0m0-17h0m1 41h0m0 23h0m0 39h0m0-70h0m0 4h0m1-4h0m0-36h0m0-6h0m1 78h0m1-78h0m0 100h0m0-27h0m0 53h0m0-67h0m0-21h0m0 25h0m1-37h0m0 80h0m0 20h0m0-32h0m1-100h0m0 22h0m0 96h0m0-118h0m1 118h0m0-39h0m0-54h0m0 35h0m1-48h0m0 48h0m0 9h0m0-25h0m0 40h0m1-32h0m0-4h0m2-8h0m0 39h0m0-67h0m0 67h0m0 16h0m0-109h0m1 50h0m0 4h0m0 72h0m0-6h0m0 84h0m0-130h0m0-28h0m1 37h0m0 31h0m0 54h0m0-85h0m0 56h0m0-30h0m0 51h0m0-7h0m0-60h0m1 5h0m0-5h0m1-35h0m0 40h0m0 0h0m0-52h0m0 122h0m1-114h0m0 131h0m0-168h0m0 0h0m0 62h0m1 60h0m0-25h0m0 46h0m0-114h0m1 33h0m0 0h0m0-21h0m0 21h0m1 60h0m0-73h0m0 4h0m0 4h0m0-4h0m0-20h0m1 70h0m0-11h0m0 0h0m0-21h0m0 38h0m0 0h0m1-12h0m0-75h0m0 15h0m0 85h0m0-77h0m0 114h0m0-50h0m0-60h0m0 119h0m1-106h0m0 4h0m0 93h0m0-73h0m1 11h0m0 12h0m0-6h0m0-50h0m1 44h0m0-64h0m1 53h0m0-5h0m0-32h0m0 149h0m0-176h0m1 44h0m0-25h0m0 51h0m0-30h0m0-13h0m1 43h0m0 17h0m0 0h0m0-68h0m1 81h0m0-81h0m1 95h0m0-74h0m0 4h0m0 93h0m0-37h0m1-41h0m0 28h0m0-56h0m0 69h0m0-56h0m1 31h0m0 80h0m0 0h0m0-91h0m0 6h0m1-51h0m0 45h0m0 23h0m0 34h0m0 0h0m1-28h0m0-12h0m0-22h0m0-10h0m0 0h0m1 21h0m0 11h0m0-66h0m0 49h0m1 91h0m0-96h0m0 11h0m0-35h0m0-12h0m0 123h0m1-71h0m0-75h0m0 70h0m1-11h0m0 70h0m0-22h0m1 0h0m0-43h0m0 57h0m0-7h0m0-74h0m0 74h0m0-44h0m1 23h0m0-82h0m1 103h0m0 7h0m0-34h0m1-76h0m0 118h0m0-125h0m1 66h0m0 23h0m0-39h0m1 122h0m0-132h0m0 49h0m0 7h0m0-25h0m0-21h0m1-23h0m0 23h0m0 21h0m0 18h0m0-34h0m0 48h0m1-76h0m0 83h0m0-55h0m0-24h0m1 86h0m0-21h0m0 55h0m1-96h0m1 87h0m0 19h0m0-65h0m1-56h0m0 70h0m1-44h0m0-55h0m0 78h0m0-12h0m0-94h0m1 100h0m0-12h0m0 12h0m0 6h0m1-6h0m0-47h0m0 89h0m0 17h0m0-92h0m0 60h0m0-14h0m0 7h0m1 30h0m0-62h0m0-26h0m1-22h0m0 27h0m0 0h0m0 27h0m0-22h0m0 11h0m0 30h0m0 29h0m1 8h0m0-23h0m0 23h0m0-97h0m1 67h0m0 69h0m0-76h0m0 29h0m0-29h0m0-30h0m0 51h0m0-40h0m0-6h0m0 12h0m1-47h0m0 89h0m0-22h0m1-7h0m0 7h0m0 14h0m0-57h0m1-20h0m0-29h0m0 55h0m0 30h0m0-46h0m1 5h0m0 78h0m0-8h0m0-42h0m0-23h0m1 91h0m0-80h0m0 32h0m0-53h0m0 27h0m0 65h0m0-92h0m0 75h0m1 58h0m0-11h0m0-83h0m0-18h0m1 46h0m0-34h0m0-38h0m0 38h0m0 20h0m0-14h0m0 36h0m0-8h0m0-21h0m1-25h0m0 112h0m1-106h0m0 65h0m0-76h0m0 23h0m0 14h0m0 58h0m0-65h0m0-13h0m1 6h0m0-23h0m0 51h0m0 16h0m0-44h0m0 36h0m0-75h0m0 21h0m1 112h0m0-128h0m0 96h0m0 58h0m1-106h0m0 30h0m0-8h0m1 84h0m0-92h0m0 8h0m0-22h0m0-53h0m1 21h0m0-11h0m0 17h0m0 19h0m0 37h0m1-8h0m0-85h0m0 93h0m0 39h0m0-11h0m0-19h0m1-53h0m0 44h0m0-23h0m1-7h0m0 39h0m0-71h0m0 18h0m1-6h0m0 78h0m0-65h0m0 46h0m0 30h0m0-55h0m2-34h0m0 100h0m0-80h0m0-43h0m0-10h0m0 53h0m0 39h0m0-39h0m0 22h0m0-42h0m1 42h0m0-42h0m0 0h0m0 42h0m1-80h0m0 151h0m0-100h0m0 65h0m0 22h0m1-106h0m0 12h0m0 36h0m0 26h0m0-74h0m0-50h0m0 69h0m1 14h0m0 0h0m0-21h0m0 21h0m1-7h0m0 39h0m0-39h0m0 30h0m0-8h0m0-65h0m1 65h0m0-8h0m1 34h0m0-9h0m0-32h0m0 62h0m1-39h0m0 39h0m1-76h0m0 21h0m0 0h0m0-21h0m1 55h0m0-80h0m0 62h0m0 0h0m1-8h0m0-70h0m0 87h0m0-71h0m1 62h0m0 9h0m0-25h0m0-14h0m0 39h0m1-46h0m0-25h0m0 46h0m1-57h0m0 123h0m0-50h0m0-23h0m0-14h0m0 29h0m1 58h0m0-94h0m0 28h0m1 25h0m0 54h0m0-54h0m1-9h0m0 63h0m0-100h0m0 65h0m0-95h0m0 37h0m0 14h0m0-21h0m0 0h0m0 0h0m0 7h0m0 39h0m1 19h0m0-78h0m0 50h0m1-37h0m0 37h0m1-23h0m0-21h0m0-6h0m0 20h0m0 30h0m0 50h0m0-80h0m0 39h0m0 30h0m0-39h0m1-44h0m0 21h0m0-50h0m1 43h0m0 39h0m0 0h0m0 30h0m1 0h0m0-55h0m0 55h0m0-30h0m0 0h0m1 19h0m0 48h0m1-76h0m0 39h0m0-89h0m0 113h0m0-119h0m0 56h0m0-30h0m1 39h0m0-32h0m0 73h0m0-22h0m0-28h0m0-50h0m1 0h0m0 100h0m0-100h0m0-17h0m0 85h0m0-41h0m0 62h0m1-47h0m0-15h0m0 7h0m0 107h0m0-82h0m0 30h0m1 0h0m0-11h0m0 141h0m0-151h0m1 0h0m0-9h0m1-25h0m0-14h0m0 69h0m0-101h0m0 6h0m1 65h0m0 0h0m0 0h0m1 19h0m0-36h0m0-22h0m0-14h0m0 28h0m0 66h0m0-11h0m0-11h0m1-44h0m0 16h0m1 0h0m0 18h0m0-26h0m0-36h0m0 7h0m0-65h0m1 65h0m0 100h0m0-54h0m0-32h0m0-27h0m0 0h0m1 59h0m0 9h0m0-55h0m1 113h0m0-37h0m0-11h0m0-58h0m0 39h0m1-9h0m0 0h0m0-23h0m0 32h0m0-71h0m1 80h0m0-26h0m0 17h0m0-32h0m0 32h0m1-59h0m0 68h0m1-62h0m0 53h0m1-97h0m0 58h0m1-20h0m0 42h0m0 0h0m0 17h0m0-17h0m1 58h0m0-87h0m1 29h0m0 47h0m0-106h0m0 0h0m0 117h0m0-22h0m1-44h0m1-34h0m0 59h0m1-53h0m0-29h0m0 23h0m0 68h0m0 10h0m1-44h0m0 92h0m1-126h0m0 13h0m0 76h0m0 24h0m0-93h0m0 39h0m0 98h0m0-157h0m0 100h0m0-73h0m0 62h0m1-39h0m0-16h0m1-34h0m0 50h0m0-8h0m0 47h0m0-62h0m1 15h0m0 26h0m1 21h0m0 52h0m0-141h0m0 126h0m1-120h0m0 28h0m0 66h0m0-41h0m0 19h0m0 48h0m1-67h0m0 0h0m0 67h0m0 0h0m0-67h0m1 9h0m0-18h0m1-23h0m0 51h0m1-36h0m0 58h0m0-41h0m1-17h0m0 26h0m1 32h0m0-41h0m0 9h0m0 10h0m0 0h0m0-10h0m1 89h0m0-31h0m1-99h0m0 0h0m0 23h0m0 39h0m0 11h0m0-22h0m0 63h0m1-114h0m0 7h0m1-14h0m0-14h0m0 94h0m1 41h0m0-135h0m0-6h0m0 27h0m1-21h0m0 189h0m0-106h0m0 130h0m0-141h0m0-72h0m0 21h0m1 0h0m0 86h0m0-79h0m0 34h0m1 10h0m0 22h0m0-58h0m0 8h0m1-37h0m0 21h0m0 0h0m0 107h0m0-99h0m1 36h0m0 11h0m0-39h0m0-30h0m0 106h0m1-26h0m0 26h0m0-67h0m0 9h0m1-48h0m0 39h0m0-46h0m1 128h0m0-114h0m1 73h0m0 13h0m1-54h0m1 0h0m0-32h0m0 15h0m0 26h0m0 0h0m0 89h0m0-98h0m0 67h0m1-76h0m0-23h0m0 86h0m0-24h0m0 37h0m0 0h0m1-37h0m0-30h0m1 82h0m0 16h0m0-107h0m0-23h0m0 73h0m1 57h0m0 0h0m0-144h0m0 0h0m0 37h0m1 50h0m0-32h0m0 21h0m0-62h0m1-50h0m0 65h0m0 8h0m1 107h0m0 0h0m0-44h0m0 28h0m0-73h0m0-18h0m1-23h0m0 32h0m0 0h0m1 9h0m0 10h0m0 0h0m0-28h0m0 0h0m1-23h0m0-44h0m0 67h0m0 28h0m1 97h0m0-49h0m0 31h0m1-44h0m0-86h0m0 86h0m0-71h0m0-36h0m1 62h0m0-9h0m0 30h0m0 86h0m0-107h0m0-26h0m1 58h0m0 26h0m0-58h0m0-48h0m0 106h0m0-99h0m1 86h0m0-100h0m0 55h0m0 32h0m0-66h0m0 55h0m0-30h0m1-17h0m0 26h0m0 10h0m0 0h0m0 141h0m1-177h0m0 71h0m0 0h0m1-24h0m0-21h0m0 107h0m0 44h0m0 0h0m1-185h0m0 16h0m0 76h0m0-13h0m0-63h0m1-16h0m0-21h0m0 113h0m0-67h0m1-82h0m0 112h0m0 0h0m1 86h0m0-34h0m0-15h0m0-37h0m0-21h0m1 45h0m0-35h0m0 35h0m0-63h0m0-16h0m1 8h0m0 36h0m0-10h0m0-41h0m0 51h0m0 0h0m0 35h0m0 0h0m0-13h0m1-50h0m0 76h0m0-48h0m0 22h0m0 13h0m1-93h0m0 69h0m0-47h0m0 17h0m0-32h0m0 73h0m1-11h0m0 0h0m1 24h0m0-24h0m0-11h0m0-51h0m1 32h0m0 0h0m1 0h0m0 116h0m0-75h0m0-32h0m0 45h0m1 106h0m0-169h0m0 39h0m0 68h0m0-115h0m1 8h0m0 50h0m0 95h0m0-69h0m0 121h0m0-205h0m1 71h0m0-24h0m1 24h0m0-54h0m0-25h0m1 107h0m0-15h0m0-99h0m0 220h0m0-234h0m0 65h0m1-10h0m0 58h0m1 0h0m0-37h0m0 24h0m0 13h0m0-26h0m0-50h0m1 107h0m0-98h0m0 67h0m0 0h0m0-48h0m0 97h0m1-97h0m0-19h0m0 9h0m1 21h0m0-47h0m1-29h0m0 65h0m0-19h0m0 67h0m1-48h0m0 35h0m0 13h0m0-48h0m0 11h0m1-21h0m0 0h0m1-9h0m0 82h0m0-141h0m1 113h0m0-24h0m0 0h0m0 0h0m0 24h0m0-45h0m0 10h0m0-28h0m1 9h0m0-25h0m0 55h0m0-21h0m0 21h0m1 86h0m0 20h0m0-20h0m1-62h0m0 62h0m1-86h0m0 37h0m0-58h0m0-80h0m0 207h0m0-161h0m1 123h0m0-79h0m0-28h0m0 76h0m0-58h0m1 0h0m0 10h0m0-51h0m0 114h0m0-15h0m0 15h0m0-52h0m1 24h0m0 13h0m0 0h0m0-67h0m0 98h0m0-79h0m0 63h0m0-107h0m0 66h0m0-22h0m0 63h0m0-73h0m0 73h0m0-41h0m0-50h0m1 107h0m0-79h0m0 22h0m0 57h0m0-79h0m0-10h0m0 73h0m1-82h0m0 19h0m0 22h0m0-58h0m1 133h0m0-49h0m0-120h0m0 169h0m1-34h0m0-73h0m0 32h0m0 41h0m0-91h0m0 91h0m1-52h0m0-55h0m0 25h0m1 30h0m0 106h0m0-145h0m1 107h0m0-57h0m0 57h0m0-44h0m0-35h0m1 22h0m0 57h0m0-57h0m0 75h0m0-34h0m0-73h0m1 58h0m0-67h0m0 9h0m0 73h0m1-28h0m0 44h0m0-89h0m0 73h0m1 0h0m0-63h0m0 11h0m0 37h0m1-13h0m0 28h0m0-52h0m0 86h0m0 0h0m0-49h0m0-48h0m1-10h0m2 10h0m0 48h0m0 0h0m0-37h0m1-21h0m0 45h0m0-45h0m0 10h0m1 63h0m0-15h0m0-106h0m0 22h0m0 47h0m1-11h0m0-51h0m0 41h0m0 21h0m0 24h0m0-45h0m1-9h0m0 0h0m0 54h0m0 44h0m0 18h0m0-116h0m0 116h0m1-107h0m0-9h0m0 82h0m0-41h0m0-32h0m1 45h0m0 44h0m2-89h0m0 21h0m0 24h0m1 13h0m0 0h0m1 121h0m0-158h0m0 130h0m0-119h0m1 75h0m0 44h0m0-119h0m0 41h0m0 0h0m1-15h0m0-26h0m0 119h0m0-130h0m0-21h0m1 107h0m0-75h0m0 57h0m0-68h0m0 0h0m1-11h0m0-19h0m0 0h0m0 30h0m0-30h0m1-25h0m0 8h0m0 47h0m0 37h0m1-48h0m0 22h0m0 41h0m0 34h0m1 0h0m0-18h0m0-44h0m0-13h0m0-41h0m0 160h0m0-106h0m0 0h0m0-86h0m1 86h0m1-63h0m0 63h0m0 212h0m1-199h0m0 0h0m0 31h0m0-57h0m1-11h0m0 24h0m0 13h0m0-37h0m1 24h0m0-13h0m0-50h0m0-23h0m0 168h0m0 0h0m1-117h0m0 63h0m0-73h0m0 32h0m0 57h0m1-115h0m0 0h0m0 17h0m0 116h0m0-75h0m0-11h0m0 11h0m0-41h0m0 160h0m1-78h0m0 0h0m0-52h0m1-11h0m0 63h0m1 0h0m0-28h0m0 28h0m1 34h0m0-107h0m0 10h0m1 79h0m0-16h0m0 78h0m1-130h0m0 52h0m0-82h0m0 30h0m0-21h0m0 58h0m0-13h0m1 28h0m0-73h0m0 21h0m0 0h0m0 11h0m0-11h0m0 24h0m0 62h0m0-18h0m1-123h0m0 141h0m1-34h0m0-107h0m0 34h0m0-62h0m1 135h0m0-52h0m0 24h0m0-13h0m1 57h0m0-31h0m0 49h0m0-34h0m0 54h0m1-117h0m0 48h0m0 15h0m0-41h0m0 13h0m1 13h0m0 31h0m0-16h0m1-28h0m0-63h0m0 76h0m0 31h0m1-98h0m0 30h0m0 37h0m0-37h0m0 68h0m0 0h0m1-16h0m0-28h0m0 13h0m1-37h0m0 11h0m0 0h0m0-80h0m0 80h0m1 26h0m1-13h0m0 82h0m0-82h0m0-35h0m0 22h0m0 26h0m0-58h0m0 89h0m1-79h0m0 11h0m0-21h0m1 89h0m0-57h0m0-11h0m0 52h0m0-52h0m0 68h0m1-68h0m1 0h0m0 52h0m0-28h0m0 0h0m0 82h0m1-145h0m0 50h0m0 0h0m0-11h0m1 106h0m0-127h0m0 73h0m1 16h0m0-16h0m0 0h0m1 16h0m0 0h0m0-57h0m0 13h0m0 13h0m1-13h0m0-63h0m0 9h0m0 54h0m0-24h0m1 11h0m0-41h0m1 67h0m0 0h0m0 15h0m0-73h0m1 0h0m0 73h0m0 78h0m1-119h0m0 26h0m0 31h0m0-79h0m1 0h0m0 35h0m0-45h0m0 89h0m1-57h0m0 57h0m0-31h0m1 31h0m0 0h0m0 0h0m0-57h0m0 95h0m0 86h0m0-268h0m0 113h0m0-37h0m1 24h0m0 44h0m0 18h0m0-97h0m1 48h0m0-37h0m0 24h0m0 13h0m0 93h0m0-141h0m1 22h0m1 75h0m0 72h0m0-52h0m0-106h0m0 68h0m1 62h0m0-44h0m1 0h0m0 106h0m0-106h0m0-34h0m0 16h0m1 0h0m0 62h0m1-62h0m0 0h0m0-98h0m0 41h0m0 0h0m1 57h0m0-107h0m0 145h0m0-95h0m0-50h0m0 63h0m0 0h0m1 0h0m0 82h0m0-82h0m0 106h0m0-62h0m1-16h0m0-73h0m0 45h0m0 13h0m0-26h0m0 13h0m0 62h0m0-34h0m0 34h0m1-34h0m0-63h0m0 79h0m0-115h0m1 17h0m0 67h0m0-58h0m0 107h0m0 20h0m0-38h0m1-16h0m0-15h0m0 0h0m0-13h0m0-35h0m0 117h0m1 0h0m0-153h0m0 133h0m0-18h0m0-16h0m0 34h0m0-62h0m1-24h0m0-11h0m0-19h0m0 9h0m1 151h0m0-141h0m0 0h0m1 35h0m0 44h0m0-16h0m0-73h0m0 58h0m0 0h0m1-67h0m0-25h0m0 0h0m0 141h0m0-18h0m0 90h0m0-197h0m0 63h0m0 44h0m0 0h0m1-89h0m0 0h0m0 58h0m0-58h0m0 45h0m0 82h0m1-54h0m1-73h0m0 58h0m0-37h0m0 37h0m0 31h0m1 0h0m0-57h0m0 13h0m0 0h0m0-71h0m0 84h0m0-13h0m0 0h0m1 0h0m0 13h0m0 93h0m0-78h0m1 34h0m0 0h0m0 0h0m0-18h0m1 18h0m0 44h0m0-169h0m1 91h0m0 34h0m0 20h0m0-69h0m1 69h0m0 52h0m0 34h0m1-192h0m0 37h0m0 93h0m0-93h0m1-37h0m0 11h0m0-11h0m0 0h0m0-11h0m0 35h0m1-13h0m0 13h0m0 0h0m0 82h0m0-54h0m0-41h0m0 0h0m0 41h0m1-41h0m1 57h0m0-44h0m1-45h0m0 0h0m0 21h0m0 106h0m0-95h0m0-32h0m1 107h0m0-18h0m0-68h0m0 0h0m1 158h0m0-179h0m0 58h0m0 15h0m0-15h0m0-13h0m1 0h0m0 0h0m0-35h0m0 35h0m0 44h0m1 38h0m0-106h0m0-21h0m0 21h0m0 52h0m0-52h0m1 68h0m0-44h0m0 13h0m0-37h0m0 52h0m0-28h0m0 106h0m0-130h0m1 86h0m0-125h0m0 76h0m0-13h0m0 44h0m1-16h0m0 34h0m0 0h0m0-34h0m1-63h0m0 117h0m0-69h0m1-26h0m0 95h0m0-95h0m0 13h0m1 0h0m0 28h0m0-41h0m0 13h0m1-54h0m0 188h0m0-90h0m0 0h0m1-31h0m0-26h0m0-11h0m0 130h0m0-44h0m0-75h0m0 119h0m0-62h0m1-89h0m0 21h0m0 52h0m1 34h0m0-116h0m0 9h0m0 10h0m1 35h0m0-35h0m0 141h0m0-78h0m0 78h0m1 0h0m0-119h0m0-22h0m2 169h0m0-28h0m1 0h0m0-141h0m0 48h0m0 15h0m0 54h0m1-95h0m0 41h0m1-15h0m0 0h0m0 199h0m0-212h0m0 13h0m0 49h0m0-97h0m0 79h0m1 0h0m0 0h0m0-44h0m0 13h0m0 0h0m0 49h0m1 72h0m0-147h0m0 75h0m0-86h0m1 130h0m0-106h0m1 28h0m0-63h0m0 48h0m0-58h0m0 21h0m1 0h0m0 68h0m0-16h0m1 16h0m0-68h0m0 130h0m0-130h0m1 24h0m0 0h0m0 44h0m0 62h0m1-119h0m0 75h0m0-49h0m0 31h0m1 0h0m0-44h0m0 62h0m0 44h0m0-177h0m0 177h0m1-93h0m0-26h0m0 75h0m1-62h0m0 62h0m0-34h0m0 54h0m0-54h0m0-41h0m0 0h0m0 41h0m0 78h0m0-130h0m0 158h0m1-52h0m0-54h0m0-73h0m0 58h0m1-13h0m0-13h0m0 57h0m0-31h0m1 69h0m0-69h0m0 69h0m0-38h0m0-31h0m0 0h0m0-13h0m1 0h0m0 28h0m0 16h0m0-79h0m0 63h0m0 78h0m1-62h0m0-44h0m1 106h0m0-106h0m0 44h0m0-57h0m0 13h0m0 106h0m1-44h0m0 0h0m0-97h0m0 79h0m0-68h0m1 52h0m0-28h0m0 0h0m0-13h0m0 57h0m1 0h0m0-89h0m0 73h0m1-15h0m0 121h0m0-134h0m1 13h0m0 121h0m0-134h0m1 44h0m0-16h0m0-15h0m0 0h0m0 0h0m1-13h0m0 28h0m0-15h0m0 15h0m0-91h0m0 50h0m1 95h0m0-20h0m0-75h0m0 147h0m0-72h0m1-34h0m0-28h0m0 28h0m0 0h0m0 54h0m0-95h0m0 147h0m0-121h0m1 0h0m0 15h0m0 0h0m0 0h0m1-41h0m0-11h0m0 68h0m1-16h0m0-28h0m0 82h0m0 24h0m0 0h0m0 0h0m0-160h0m0 98h0m0-16h0m1-52h0m0 130h0m0-119h0m1-11h0m0 37h0m1 49h0m0-86h0m0 37h0m0 69h0m0-95h0m0 41h0m1 54h0m0-20h0m0 20h0m1-82h0m0 82h0m0 52h0m0-121h0m0-76h0m0 39h0m0 106h0m0 0h0m1-82h0m0 28h0m0-15h0m0 121h0m0-147h0m1 13h0m0 13h0m0 93h0m0-93h0m0 31h0m1 0h0m0 18h0m0-49h0m0 0h0m0-26h0m0 0h0m0 75h0m1-97h0m0 63h0m1 16h0m0-89h0m0 107h0m0-62h0m0 28h0m1-52h0m0 11h0m0 119h0m0-62h0m1 0h0m0-44h0m0 28h0m0-41h0m0 57h0m1-44h0m0 82h0m0 0h0m0-69h0m2 15h0m0 16h0m1 18h0m0-18h0m0-44h0m0 62h0m1-62h0m0 0h0m0 134h0m0 34h0m0-203h0m0 35h0m0 44h0m1-68h0m0 24h0m0 82h0m1 0h0m0-117h0m0-28h0m0 125h0m0-49h0m1-26h0m0 41h0m0-15h0m0 31h0m1-89h0m0 179h0m0-106h0m0-41h0m0 41h0m0 34h0m1-49h0m0 31h0m1-107h0m0 125h0m0-75h0m1 0h0m0 95h0m1-136h0m0 82h0m0 0h0m1 16h0m0 230h0m0-298h0m0 52h0m1 54h0m0-54h0m0-28h0m0 28h0m1 0h0m0-41h0m0-58h0m1 133h0m0-62h0m0-13h0m1 75h0m1-62h0m0-63h0m0 107h0m1-44h0m0-63h0m1 169h0m0-93h0m0 15h0m0 34h0m1-75h0m0 75h0m0 150h0m0-225h0m0 57h0m0-31h0m0 49h0m1-125h0m0 169h0m0-119h0m1 95h0m0-82h0m1 134h0m0-28h0m0-93h0m0 0h0m0 31h0m1-79h0m0 48h0m0 49h0m0-75h0m0 57h0m0-31h0m0 15h0m1 16h0m0-16h0m0 34h0m0-75h0m1-22h0m0 117h0m0-54h0m0-99h0m1 99h0m0 34h0m0-107h0m0 58h0m0-13h0m1 44h0m0 62h0m0 0h0m0-44h0m0-75h0m0 26h0m0 69h0m1-38h0m1-57h0m0 13h0m0 28h0m0 16h0m0-31h0m0 15h0m1-15h0m0-13h0m1 62h0m0 106h0m0-106h0m1 0h0m0-18h0m1-16h0m0 78h0m0-24h0m1-82h0m0-13h0m0 41h0m0 0h0m0-41h0m0 147h0m0-147h0m0 57h0m2-31h0m0 0h0m0-26h0m1 0h0m0-22h0m0 79h0m0 18h0m0-62h0m1-24h0m0-21h0m0 58h0m1 69h0m0-95h0m0 41h0m0 184h0m1-130h0m0 52h0m0-179h0m0 73h0m0 34h0m0-18h0m1 62h0m0 0h0m0-44h0m0-34h0m1 34h0m1-18h0m0 90h0m1-158h0m0 11h0m0 13h0m0-54h0m0 82h0m0-15h0m0 15h0m0-63h0m1 117h0m0-95h0m0 95h0m0-54h0m1-28h0m0 62h0m0 0h0m0-97h0m0 117h0m0-106h0m2 37h0m0 0h0m0 49h0m0-107h0m0 151h0m1-24h0m0-54h0m0 16h0m0-16h0m1-15h0m0 15h0m0-15h0m0-84h0m0 239h0m1-34h0m1-106h0m1 78h0m0 0h0m0-151h0m0 32h0m1-22h0m0 169h0m1-134h0m0-13h0m0 95h0m0-95h0m0 13h0m0 0h0m0 28h0m1 54h0m0-38h0m0-31h0m1 15h0m0-15h0m0 49h0m0-34h0m0 16h0m1 90h0m0-134h0m0 13h0m0 0h0m0-26h0m1 57h0m0-16h0m0-73h0m0 127h0m0-95h0m0 41h0m0 0h0m0 54h0m0-117h0m0 79h0m1-16h0m0 106h0m1-28h0m0-44h0m0 20h0m0 0h0m0 0h0m0-20h0m0-49h0m0 93h0m1-44h0m0-75h0m0 75h0m0-62h0m0 82h0m1-95h0m1 75h0m0-49h0m0 121h0m0-106h0m0-15h0m1 49h0m0 20h0m0-38h0m0-16h0m0 34h0m1-34h0m0-28h0m0-13h0m0 41h0m0 16h0m1-68h0m0 130h0m0-106h0m0 44h0m0 18h0m0-49h0m0 31h0m0 90h0m0-147h0m0 26h0m1 49h0m0-49h0m1 15h0m0-28h0m0 28h0m0 106h0m1-121h0m0 0h0m0 0h0m0 31h0m1-31h0m0 49h0m1-49h0m0-13h0m0 13h0m0 121h0m0-134h0m0 212h0m1-199h0m0 49h0m0 20h0m0 0h0m0 24h0m0-93h0m0-13h0m0 82h0m0 52h0m1-90h0m0 18h0m0-49h0m0 93h0m0 28h0m0-52h0m0-54h0m0-82h0m0 82h0m1 34h0m0-75h0m0 41h0m0 78h0m0-130h0m1 106h0m0-54h0m0-28h0m1-13h0m0 95h0m0 0h0m0-117h0m1 63h0m0 16h0m0-68h0m0 24h0m0 44h0m0-44h0m0 62h0m1-62h0m0-35h0m0 79h0m0 18h0m1-86h0m0 37h0m0 0h0m0 31h0m1 124h0m0-106h0m0 106h0m0-155h0m0 49h0m0-86h0m0 37h0m1 15h0m0-52h0m0-21h0m0 21h0m0 86h0m0 72h0m1-90h0m0-68h0m1 68h0m0-44h0m0 28h0m0 0h0m0 54h0m0-54h0m0 16h0m1 38h0m0-20h0m0-18h0m0 0h0m0 0h0m0 18h0m0-49h0m1-37h0m0 0h0m1 236h0m0-225h0m0 13h0m1 13h0m0 93h0m0-119h0m1 0h0m0 13h0m0 82h0m0-69h0m0 93h0m0-93h0m0 93h0m1 28h0m0-121h0m0 15h0m1-41h0m0 13h0m0 62h0m0 0h0m0-86h0m1 24h0m0 44h0m0-68h0m0 130h0m1-119h0m0 13h0m0 82h0m0 52h0m0-106h0m0 54h0m0-69h0m1-58h0m1 127h0m0-54h0m0 34h0m0 72h0m0-28h0m0 0h0m1-62h0m0-68h0m0 106h0m0-69h0m0 31h0m0 124h0m1-192h0m0 24h0m0-13h0m0 95h0m0-95h0m0 75h0m1-107h0m0 73h0m0 34h0m0-86h0m0 37h0m1 93h0m0-44h0m0-75h0m1 225h0m0-184h0m0 78h0m0-119h0m1 26h0m0 93h0m0 0h0m0 0h0m0-141h0m1 97h0m0-18h0m0-16h0m0 78h0m0-24h0m0-38h0m0 124h0m0-86h0m0-69h0m1 15h0m0 34h0m0-18h0m1-31h0m0 15h0m0-41h0m1 57h0m0-68h0m0 106h0m0 0h0m1-20h0m0 106h0m0-86h0m0-54h0m1 16h0m0-31h0m0 31h0m0-68h0m1 52h0m0 0h0m0 78h0m0-62h0m0-16h0m0 0h0m1 0h0m0-15h0m0 31h0m1-79h0m0 63h0m0 54h0m0-20h0m1 72h0m0-106h0m1 106h0m0-90h0m0-16h0m0 54h0m0-117h0m0 117h0m1-136h0m0 30h0m0 11h0m0 75h0m1-62h0m0-24h0m0 68h0m1 0h0m0-16h0m0 16h0m0-79h0m1 117h0m1-95h0m0 75h0m0-107h0m0 107h0m0 0h0m1-18h0m0-16h0m0 106h0m1-106h0m0-41h0m0 57h0m0 0h0m0-31h0m0 49h0m0-34h0m1 78h0m0-106h0m0 212h0m0-150h0m0-34h0m0 16h0m0 38h0m1-106h0m0 158h0m0 0h0m0-106h0m0 0h0m1-41h0m0-11h0m1 37h0m0-13h0m0-24h0m0 37h0m0 49h0m1 0h0m0 20h0m0-38h0m0 62h0m0-78h0m1 54h0m0-20h0m0-34h0m1 54h0m0-69h0m0 31h0m0 18h0m0-86h0m1 68h0m0 18h0m0 44h0m0-78h0m1 34h0m0-86h0m0 24h0m0-13h0m1 41h0m0-28h0m0 168h0m1-181h0m0-11h0m0 86h0m0-86h0m0 158h0m0-147h0m0-22h0m0 48h0m1-48h0m0 0h0m0 97h0m0-49h0m0 49h0m0-97h0m0 22h0m0 57h0m1 0h0m0 90h0m0-121h0m0-48h0m0 11h0m0 37h0m0 49h0m0 20h0m1 0h0m0-82h0m0-24h0m0 86h0m1 44h0m0-78h0m0 16h0m1 38h0m0-69h0m1-13h0m0 13h0m0 69h0m0 86h0m0-155h0m0 121h0m0-52h0m0-106h0m1 24h0m0 168h0m1-155h0m1-37h0m0 11h0m1 75h0m0-97h0m1 22h0m0 26h0m0 49h0m0-49h0m0-13h0m0 28h0m0 16h0m1 18h0m0-49h0m0 31h0m0 124h0m1-62h0m0 168h0m0-192h0m0-82h0m0 28h0m1 34h0m0-34h0m0-15h0m1-37h0m0 11h0m0 225h0m0-106h0m0-106h0m1 13h0m0 31h0m0-57h0m1 225h0m0-184h0m1 78h0m0-78h0m0-41h0m0-41h0m0 136h0m0-54h0m0 34h0m0-18h0m0-31h0m1 69h0m0-69h0m0 31h0m0-44h0m0 0h0m0 62h0m0-97h0m0 117h0m1-20h0m1-49h0m0 49h0m0 150h0m0-150h0m1 20h0m0 0h0m1-38h0m0-68h0m0 37h0m0 15h0m1-41h0m0 147h0m0-121h0m0 31h0m0-79h0m0 48h0m0 49h0m0-75h0m0 75h0m0-34h0m1 16h0m0 38h0m0-69h0m0 69h0m1-20h0m0 72h0m0-121h0m0-26h0m0 75h0m1-49h0m0 69h0m0-106h0m0 106h0m0-82h0m1 28h0m0 54h0m1-20h0m0-49h0m1-26h0m1 57h0m0-79h0m0 117h0m1-54h0m0 34h0m0 0h0m0-49h0m0 15h0m1 78h0m0-119h0m0 75h0m1 20h0m0-95h0m0-41h0m0 41h0m0 0h0m0 75h0m0-34h0m0-28h0m0 28h0m1 34h0m0 20h0m0-106h0m0 68h0m0-44h0m0-24h0m1 86h0m0-86h0m0 86h0m0-86h0m0 52h0m1 16h0m0-16h0m1 54h0m0-136h0m0 82h0m0-52h0m0 192h0m1-168h0m0 62h0m0-49h0m0 49h0m0 72h0m0-90h0m0 0h0m1-31h0m0 49h0m0-34h0m0 16h0m0 18h0m0-75h0m0 75h0m1-75h0m0 41h0m0 34h0m0-49h0m0 15h0m0 34h0m1-75h0m0 75h0m0 106h0m0-62h0m0-130h0m0 158h0m1-106h0m0-28h0m0-24h0m0 86h0m0 0h0m0-18h0m0 62h0m2-93h0m0 121h0m0 140h0m0-246h0m0-15h0m0 155h0m0-181h0m1 119h0m0 0h0m0-78h0m0 54h0m0-82h0m0 13h0m0 0h0m1-26h0m0 0h0m0 26h0m0-13h0m0 28h0m0 54h0m0-54h0m0-15h0m0-37h0m1 68h0m0 38h0m0 24h0m0-62h0m0 18h0m0-86h0m1 86h0m0 44h0m0-44h0m0-86h0m0 68h0m0 18h0m1-49h0m0 0h0m0-26h0m0 95h0m0 130h0m1-236h0m0 106h0m0-136h0m0 188h0m1-121h0m0 93h0m1-93h0m0 93h0m0-62h0m0-16h0m1 0h0m0 0h0m0 140h0m0-192h0m0 0h0m0 86h0m1-62h0m0 28h0m0-73h0m1 107h0m0 44h0m0-44h0m1-62h0m0 28h0m0-15h0m1 69h0m0-54h0m0 16h0m0 18h0m0 20h0m0 0h0m1-38h0m0 0h0m0 0h0m1 0h0m0-31h0m0 0h0m0 0h0m1 15h0m0 106h0m1-90h0m0 62h0m0 62h0m0-62h0m1 28h0m0-121h0m0-48h0m1-10h0m0 58h0m0 155h0m0-106h0m0-62h0m1 44h0m0 38h0m0 24h0m0-185h0m0 92h0m0-37h0m0 192h0m0-106h0m1-75h0m1-32h0m0 32h0m0 147h0m0-72h0m0 0h0m0-49h0m1 31h0m0-68h0m0 68h0m0-16h0m0 16h0m0-68h0m1 52h0m0-52h0m0 11h0m0 95h0m0-20h0m1-75h0m0 41h0m0-15h0m1 93h0m1-141h0m0 141h0m0-93h0m0 69h0m0-82h0m0 82h0m1-117h0m0 117h0m0-82h0m0 0h0m0 106h0m0-78h0m1-15h0m0-13h0m1-13h0m0 26h0m0-13h0m0-45h0m0 73h0m1-15h0m0 31h0m0 18h0m0 44h0m0-93h0m1 49h0m0 72h0m0-52h0m0 24h0m0-106h0m0 0h0m1 134h0m0-147h0m1 75h0m0-34h0m1 0h0m0-128h0m1 234h0m0-106h0m0 16h0m0 38h0m0-69h0m0 15h0m1 34h0m0-107h0m0 89h0m1-44h0m0 13h0m1-13h0m0-93h0m0 199h0m0-106h0m0 13h0m2-13h0m0 28h0m0 34h0m0-49h0m1 49h0m0 0h0m0 72h0m1-121h0m0 49h0m1-75h0m0 41h0m1 16h0m0-16h0m0 34h0m0 20h0m1-38h0m0-16h0m1-28h0m0 62h0m0 20h0m1-54h0m0 34h0m0-34h0m0 16h0m0-44h0m0 0h0m1 13h0m0 49h0m0-62h0m0 44h0m0 38h0m0-38h0m0-44h0m0 62h0m1-34h0m0-63h0m0 22h0m0 57h0m0-44h0m1 168h0m0-106h0m0-49h0m0 0h0m0 69h0m0-38h0m1 0h0m0 0h0m0 90h0m0-90h0m1-16h0m0 34h0m0-75h0m0 75h0m0-18h0m0 0h0m0 62h0m0-119h0m1-50h0m0 107h0m0-31h0m0 31h0m0-79h0m0 203h0m1-181h0m0 119h0m0 62h0m0-140h0m0 34h0m0-49h0m1 121h0m0-158h0m0 68h0m0-31h0m1-13h0m1-24h0m0 158h0m0-134h0m1 13h0m0 69h0m0-54h0m0 0h0m0-82h0m1 67h0m1 15h0m0 54h0m1-69h0m0-37h0m0 24h0m0 62h0m0 72h0m1 0h0m0-121h0m0 155h0m0-86h0m0-95h0m1 41h0m0 16h0m0 18h0m0 44h0m0-119h0m1 75h0m0-18h0m0-68h0m0 52h0m0 0h0m0 54h0m1 0h0m0-38h0m0 0h0m0 18h0m0-34h0m0 54h0m0 24h0m1-78h0m0 140h0m0-140h0m0 78h0m0-44h0m1 212h0m0-246h0m0 78h0m0-62h0m0 18h0m1 0h0m0-75h0m0 75h0m0 72h0m0-134h0m0 0h0m0 44h0m1 0h0m0-16h0m0 34h0m1 150h0m0-275h0m0 28h0m0 11h0m1-11h0m0 0h0m1 79h0m0-98h0m0 41h0m0-22h0m0 117h0m0-106h0m0 130h0m1-78h0m0 34h0m0 0h0m0 44h0m0-62h0m0 18h0m1-86h0m0 0h0m0 130h0m0-106h0m0 44h0m1 0h0m0-57h0m0 181h0m1-106h0m0 0h0m0-62h0m1 134h0m0-72h0m0-34h0m0-41h0m1 0h0m0 41h0m0 140h0m1-124h0m0-16h0m0-15h0m0 31h0m0 0h0m0 18h0m0-75h0m1-11h0m0 130h0m1-62h0m0-16h0m1-28h0m0 106h0m0-44h0m0-86h0m1 68h0m0 18h0m0-18h0m0-16h0m0-28h0m0-54h0m1 136h0m0-95h0m0-11h0m0 68h0m1 0h0m0-68h0m0-11h0m1 79h0m0-57h0m0 75h0m1 44h0m0-44h0m0-34h0m0 54h0m0-38h0m0-79h0m1 63h0m0-41h0m0 181h0m0-34h0m0-121h0m0 31h0m0 90h0m1-90h0m0 0h0m0 0h0m1 0h0m0-31h0m0-37h0m0 24h0m1 28h0m0 16h0m0-44h0m0 44h0m1 168h0m0-184h0m0-41h0m0 0h0m0 0h0m0 13h0m1 13h0m0 31h0m0-79h0m0 35h0m1-35h0m0-10h0m0 73h0m0 54h0m0 0h0m0-38h0m1-31h0m0-48h0m0 79h0m0-16h0m1 34h0m0 0h0m0 72h0m0-121h0m0-13h0m0 13h0m1 15h0m0 34h0m0 20h0m0-38h0m1-16h0m0 54h0m0-106h0m0 68h0m0 62h0m1 0h0m0-93h0m0 121h0m0-106h0m0 78h0m0-130h0m0 86h0m0-97h0m1 35h0m0 106h0m1-44h0m0 44h0m0-62h0m0-57h0m0 225h0m0-184h0m0 16h0m1 0h0m0-44h0m0 44h0m0 18h0m1 72h0m0-134h0m0 44h0m0 0h0m0 18h0m1 44h0m0-93h0m0 155h0m0-192h0m1 106h0m0-54h0m0 34h0m0-18h0m0-31h0m0 93h0m1-24h0m0-82h0m0 44h0m0 38h0m1-117h0m0 117h0m0-20h0m0 150h0m0-168h0m0-44h0m0-13h0m0 41h0m1-15h0m0 199h0m0-247h0m1 169h0m0-28h0m0-141h0m0 79h0m1 18h0m0-18h0m0 0h0m0 38h0m1-69h0m0 15h0m0 140h0m0-62h0m1-62h0m0-16h0m1 0h0m0 0h0m0 78h0m0-62h0m1-68h0m0-11h0m0 22h0m0 57h0m0-16h0m1-73h0m0 213h0m0-155h0m0 49h0m0-75h0m0 75h0m0 44h0m0-119h0m0 181h0m0-168h0m1 106h0m0-93h0m0 15h0m1-63h0m0 22h0m1 75h0m0 0h0m0-49h0m0-58h0m0 45h0m0 0h0m0 13h0m0 69h0m1-82h0m0 62h0m0-18h0m1 0h0m0 18h0m0-49h0m0-58h0m1 151h0m0-44h0m0-86h0m0 24h0m1-45h0m0 32h0m0 57h0m1-44h0m1 62h0m0 0h0m0 20h0m1-38h0m0 0h0m0-79h0m0 35h0m0 0h0m1 44h0m0 0h0m0 38h0m0-95h0m0 41h0m1-15h0m0-37h0m0 130h0m1-24h0m0 86h0m0-106h0m0-18h0m0 90h0m0-28h0m1-78h0m0 34h0m0 106h0m0-140h0m0 34h0m0 72h0m0-106h0m1 54h0m0-38h0m1-31h0m0 155h0m1-106h0m0-75h0m0 13h0m0 0h0m1 62h0m0-34h0m0 54h0m0-95h0m0 41h0m1 16h0m0 18h0m0-18h0m0 18h0m0-18h0m1 124h0m1-124h0m0-44h0m0 44h0m0-16h0m1 16h0m0 62h0m0-78h0m0 16h0m0 18h0m1 106h0m0-155h0m0 31h0m0 38h0m1-38h0m0 38h0m0 86h0m0-106h0m0 0h0m1 20h0m0-95h0m0 41h0m0 78h0m0-141h0m0 35h0m1 44h0m0-16h0m0-63h0m0 141h0m0-78h0m0 16h0m1 38h0m0-20h0m0-62h0m1 13h0m0 15h0m1 34h0m0-75h0m0-58h0m0 205h0m0-106h0m1 0h0m0-41h0m0 75h0m0-86h0m1 106h0m0-69h0m0-37h0m0 68h0m0-16h0m1 78h0m0-160h0m1 116h0m0 106h0m2-124h0m1-16h0m1 0h0m0 16h0m0 38h0m0-38h0m1-44h0m0 44h0m0 38h0m0-54h0m1 34h0m0-49h0m1 121h0m0-90h0m0-16h0m0-52h0m2 52h0m0 34h0m0 0h0m0 20h0m0-95h0m0 147h0m0-52h0m0-95h0m1 0h0m0 225h0m0 62h0m0-212h0m0 20h0m1-54h0m0 78h0m0-106h0m0 62h0m1-97h0m0 22h0m0 119h0m0-62h0m0 62h0m0-78h0m1 0h0m0 54h0m0-95h0m0 26h0m0 0h0m0-13h0m1 13h0m0 0h0m0 0h0m1 31h0m0 18h0m0-107h0m1 179h0m0-106h0m0 0h0m0 54h0m1 52h0m0-121h0m1 31h0m0 18h0m0 44h0m0-62h0m0-44h0m1 0h0m0 13h0m1 0h0m0 121h0m0-147h0m1 147h0m0-90h0m0 18h0m0-18h0m0-68h0m0 68h0m1-16h0m0-28h0m0-24h0m0 86h0m0 0h0m0-34h0m1-73h0m0 89h0m0-79h0m1 48h0m0 15h0m0 16h0m1-79h0m0 11h0m0 24h0m0 44h0m0 0h0m1 0h0m0 38h0m0 0h0m0-20h0m0 44h0m0-78h0m1 16h0m0 38h0m0-69h0m0 93h0m0-44h0m0-34h0m0-82h0m0 82h0m1 106h0m0-147h0m0 41h0m0 16h0m0-31h0m0-48h0m1 97h0m0 106h0m0-168h0m0-24h0m0-21h0m1 127h0m0-69h0m0 31h0m0 38h0m1-95h0m0 41h0m1 16h0m0 90h0m1-90h0m0 18h0m1 20h0m0-82h0m0-24h0m1 106h0m0-54h0m0-15h0m0-37h0m0 24h0m0-24h0m0 37h0m0 69h0m0 130h0m1-212h0m0 0h0m0 168h0m1-106h0m0-86h0m0 68h0m0 18h0m1-49h0m0 69h0m0 24h0m1-24h0m0-38h0m0 38h0m0-69h0m1 15h0m0 78h0m0 0h0m0 62h0m0-86h0m1-54h0m0 34h0m0 72h0m0-72h0m0-107h0m1 21h0m0 37h0m1 69h0m0 24h0m1-24h0m0 52h0m0-179h0m0 127h0m1 130h0m0-106h0m0-93h0m0 69h0m0-20h0m0-18h0m1-16h0m0 16h0m0 0h0m0 0h0m0-16h0m1 16h0m0 38h0m0 24h0m0-62h0m0 90h0m0-158h0m0 106h0m1-106h0m0 11h0m0 75h0m0-34h0m0-99h0m1 153h0m0-54h0m0 0h0m0-41h0m1 13h0m0 28h0m0 34h0m0-97h0m0 97h0m1-62h0m0 44h0m0-16h0m0-15h0m1-76h0m0 50h0m0 225h0m0-168h0m0 38h0m0-69h0m0 15h0m0-28h0m0 13h0m1 93h0m0-106h0m0 82h0m0 24h0m0 0h0m0-24h0m1-106h0m0 130h0m0 0h0m0-62h0m0 18h0m0-34h0m1 34h0m0-75h0m0 95h0m0 0h0m0-54h0m1 34h0m0-49h0m0-37h0m0 130h0m0-24h0m1-95h0m0 57h0m1 38h0m0-95h0m1 57h0m0 62h0m0-119h0m0 57h0m0-31h0m1 0h0m0 69h0m0-95h0m2 57h0m0 62h0m0 0h0m1-78h0m0-41h0m0-11h0m0 24h0m1 13h0m0 31h0m0-57h0m0 41h0m1 78h0m0 0h0m0-62h0m1 38h0m0-69h0m0 155h0m0-124h0m0 62h0m1 0h0m1-151h0m0 45h0m0 44h0m0-31h0m1-67h0m0 54h0m0 0h0m0 28h0m0 0h0m0 78h0m1-93h0m0 31h0m0-89h0m0-9h0m0 160h0m1-106h0m0 28h0m0-63h0m0 141h0m0-119h0m1 57h0m0 0h0m0 0h0m0-16h0m0-52h0m1 52h0m0 16h0m0-16h0m1-41h0m0-22h0m0 141h0m0-141h0m1-10h0m0 73h0m0-52h0m0 0h0m0 192h0m0-155h0m0 49h0m1 44h0m0 0h0m0-106h0m0 13h0m1 93h0m0-78h0m0 16h0m0-57h0m1 41h0m0 34h0m0 44h0m0-130h0m1 86h0m0 72h0m0-106h0m0 16h0m0 168h0m1-168h0m0 62h0m0-62h0m0 18h0m1-49h0m0 93h0m1-44h0m0 44h0m0-119h0m0 0h0m1 147h0m0-106h0m1 16h0m0-31h0m0-13h0m0 62h0m0 0h0m0-86h0m0 24h0m1-54h0m0 98h0m0-44h0m0 62h0m1-34h0m0-52h0m0 11h0m1 75h0m0 44h0m0-78h0m0-41h0m1-41h0m0 136h0m1-20h0m0 44h0m0-24h0m0-54h0m1-28h0m1 44h0m0-16h0m0 34h0m0-62h0m1 0h0m0 106h0m1 28h0m0-52h0m0-82h0m1 28h0m0 78h0m0-119h0m0-50h0m0 169h0m0-106h0m0 0h0m1-24h0m0 68h0m0-16h0m0-52h0m0 86h0m0-49h0m1 69h0m0-20h0m0-18h0m0 38h0m0-38h0m0-44h0m0-63h0m1 107h0m0-16h0m1 16h0m0-68h0m0 130h0m0-93h0m0 31h0m0-57h0m0 57h0m0-31h0m1 31h0m0 18h0m0-49h0m0-67h0m0 116h0m0 44h0m0-192h0m0 148h0m1 72h0m0-72h0m0 0h0m1-34h0m0 0h0m0-15h0m0-26h0m1 75h0m0-62h0m0 134h0m0-72h0m1 72h0m0-134h0m0 13h0m1 0h0m0-26h0m0 13h0m1 62h0m0-18h0m0-31h0m1 0h0m1 49h0m0 44h0m0-119h0m0-11h0m0 52h0m0 16h0m0 0h0m0-31h0m1 49h0m0-34h0m0 106h0m0-28h0m1-93h0m0-37h0m0 52h0m0-15h0m0 69h0m0 0h0m0-69h0m0 0h0m1 31h0m0 90h0m0-52h0m1-69h0m0 49h0m0-75h0m1 147h0m1-121h0m1-37h0m0 158h0m0-106h0m0 78h0m0-44h0m0 0h0m0 212h0m0-274h0m1 82h0m0 0h0m0-95h0m0 41h0m1 16h0m0-16h0m0 34h0m0-62h0m0 28h0m0 54h0m1-54h0m0 78h0m0-151h0m0 89h0m1 0h0m0-44h0m0 28h0m0 54h0m0-95h0m0 147h0m0 78h0m1-150h0m0 20h0m1-82h0m2 13h0m0 121h0m0-52h0m0-38h0m1-31h0m0-13h0m0 0h0m0 0h0m0 28h0"/>
<path transform="scale(0.25)" stroke="#96ea30" stroke-width="5.6" stroke-linecap="square" fill="none" d="M176 922h0m0-3h0m0 4h0m0 0h0m0 7h0m0-7h0m0 10h0m0-1h0m0-2h0m1 1h0m0 3h0m0-9h0m0-1h0m0-6h0m0 5h0m0 4h0m1 0h0m0 3h0m0 7h0m1-1h0m0 2h0m0-19h0m0 8h0m0 9h0m0-10h0m1 7h0m0-3h0m0 0h0m0 6h0m1-2h0m0 4h0m0-5h0m0-2h0m0-5h0m0 9h0m1-14h0m0 1h0m0 13h0m0 2h0m0-12h0m0 17h0m0-11h0m0 5h0m0-14h0m0 14h0m0 1h0m1-5h0m0 4h0m0-1h0m0-4h0m0 9h0m1 0h0m0 7h0m0-16h0m0 6h0m0 5h0m1-8h0m0 4h0m0-7h0m0 8h0m0 7h0m0-2h0m1-12h0m0 10h0m1-11h0m0 0h0m0-2h0m0 13h0m1-1h0m0-1h0m0 7h0m0 0h0m0-4h0m1-1h0m0 4h0m0-2h0m0 15h0m1-8h0m0-7h0m0 3h0m0 0h0m0-11h0m1 9h0m0 8h0m0-11h0m0 3h0m1 5h0m1 9h0m1-12h0m0-5h0m0-7h0m1 12h0m0 10h0m0-9h0m1 16h0m0-11h0m1 16h0m0-19h0m0 11h0m1-6h0m0 0h0m0 8h0m0-14h0m0 7h0m0 1h0m0 1h0m0-4h0m0-9h0m0 3h0m1 19h0m0-10h0m0-6h0m0-3h0m0 7h0m1 1h0m0 9h0m0-12h0m1 3h0m0 8h0m0-11h0m0-5h0m0 28h0m0-22h0m1 9h0m0 8h0m0-8h0m0-9h0m0 15h0m0-17h0m1 11h0m0 8h0m0-9h0m0-8h0m1 4h0m0 5h0m0-13h0m0 12h0m0 3h0m0-10h0m0 26h0m0-12h0m0 11h0m0-4h0m1 4h0m0-11h0m0-5h0m0 3h0m0-4h0m1 9h0m0-11h0m0 5h0m0 0h0m0-2h0m0 6h0m1 3h0m0-13h0m0 1h0m1 2h0m0 0h0m0-2h0m0 19h0m1 1h0m0-21h0m0 10h0m0 0h0m0-18h0m1 10h0m0 8h0m0 7h0m0-4h0m0 14h0m1-17h0m0 7h0m0-5h0m0 10h0m1-18h0m0 11h0m0-5h0m0 3h0m0 4h0m0-6h0m0 9h0m1-7h0m0-3h0m0 15h0m0-8h0m0 2h0m0-7h0m0 7h0m1-7h0m0 7h0m1 4h0m0-6h0m1 17h0m0-6h0m0-3h0m0-12h0m1 2h0m0 7h0m0-9h0m0 8h0m1 5h0m0 0h0m0-1h0m0 5h0m0-2h0m0-4h0m1 4h0m0 0h0m0-5h0m0 16h0m1-5h0m0-9h0m0 5h0m1 0h0m0 4h0m0-14h0m0 4h0m0 8h0m0 0h0m0 9h0m1-18h0m1-3h0m0-2h0m0 14h0m0 3h0m0-10h0m1-8h0m0 7h0m0 12h0m0-18h0m0 8h0m0 7h0m0-3h0m1 6h0m0-10h0m0-1h0m1-6h0m0 1h0m0 1h0m0-7h0m0 8h0m0 8h0m0 3h0m1 6h0m1-11h0m0 5h0m0-11h0m0 6h0m0 11h0m1 9h0m0-7h0m1-15h0m0 1h0m0 1h0m0 13h0m0 0h0m1-13h0m0 3h0m0-3h0m0-3h0m0 7h0m0 4h0m1 8h0m0-1h0m0-3h0m0 11h0m0-3h0m1 2h0m0-18h0m0 9h0m0 11h0m0-15h0m0-3h0m0 0h0m0 15h0m0-11h0m1 25h0m0-15h0m0 4h0m0-9h0m0 11h0m0-12h0m0 4h0m0-4h0m1 1h0m0 21h0m0-19h0m0 5h0m0-7h0m0-1h0m1-4h0m0 14h0m0-20h0m1 22h0m0-15h0m0 2h0m0-1h0m0 10h0m0-7h0m0 16h0m1-20h0m0-1h0m0 1h0m0 4h0m0 2h0m0-7h0m1 7h0m0 10h0m0-14h0m0 11h0m0-5h0m0-19h0m1 11h0m1 1h0m1 26h0m0-17h0m0 10h0m0-1h0m1-25h0m0 29h0m0-4h0m1-12h0m0 14h0m1-19h0m0 15h0m0-4h0m0 12h0m1-3h0m0-10h0m0 4h0m0 5h0m1-7h0m0 8h0m0-1h0m0 13h0m0-28h0m0 12h0m1-1h0m0 4h0m0-2h0m0 2h0m1-1h0m0-3h0m0-4h0m0 12h0m0-11h0m0 12h0m1-6h0m0-6h0m0 0h0m1 17h0m0 2h0m0-7h0m0-3h0m1 6h0m0-21h0m0 18h0m0 6h0m0 7h0m1-25h0m0 2h0m0 5h0m0-6h0m0 4h0m0 8h0m0 7h0m0 2h0m1-11h0m0-4h0m0-10h0m0 12h0m0 6h0m0-26h0m0 23h0m1 11h0m0-16h0m0 2h0m0 6h0m0-8h0m1 4h0m0-4h0m1 8h0m0 6h0m0 5h0m0-8h0m1-3h0m0-2h0m0-8h0m0 10h0m0 11h0m0-13h0m0-14h0m1 5h0m0-3h0m1 12h0m0 11h0m0-16h0m0 25h0m0-12h0m1 7h0m0 0h0m0-19h0m0 14h0m0 11h0m1-21h0m0 11h0m1 3h0m0-3h0m0-7h0m1 12h0m0-12h0m0 15h0m0-12h0m1-17h0m1 20h0m0-6h0m0 5h0m0-8h0m0 9h0m0 1h0m2 7h0m0 21h0m0-35h0m1 14h0m0 4h0m0 6h0m0-16h0m0-11h0m1 17h0m0 10h0m0-12h0m0-3h0m0 17h0m0-7h0m0-14h0m0 25h0m1-24h0m0 8h0m0 8h0m0-14h0m0 3h0m0-7h0m1 3h0m0-17h0m0 38h0m0-19h0m0 3h0m0 17h0m1-14h0m0-7h0m0 26h0m0-37h0m0 9h0m0 2h0m0 9h0m1-10h0m0 27h0m1-27h0m0 2h0m0 15h0m0-15h0m0 3h0m1 20h0m0-8h0m0-1h0m0-6h0m0 1h0m0-3h0m1 3h0m0-2h0m0-10h0m0 19h0m0 7h0m0-19h0m0 13h0m1 13h0m0-17h0m0-11h0m0 33h0m0-21h0m0-10h0m1-5h0m0-2h0m0 33h0m0-26h0m0 5h0m1-10h0m0 3h0m0-2h0m1 32h0m0-9h0m0 7h0m0-31h0m0 10h0m0 12h0m1-13h0m0 19h0m0-36h0m0 33h0m0-13h0m1 12h0m0-19h0m0 11h0m1 6h0m0 8h0m0-4h0m0-16h0m0-1h0m0 10h0m1-9h0m0 16h0m0-37h0m0 15h0m0 8h0m0 22h0m1-12h0m0-25h0m0 18h0m1 13h0m0-6h0m0-9h0m0 6h0m0-2h0m0 4h0m1 8h0m0 2h0m0-9h0m0 24h0m0-23h0m1-10h0m0 8h0m0-7h0m0-11h0m1 15h0m0 14h0m0-20h0m0 7h0m1 2h0m0-27h0m0 16h0m0 3h0m1 19h0m0-12h0m0 3h0m0 5h0m0-9h0m1 12h0m0-13h0m0-7h0m1 8h0m0 41h0m1-31h0m0-8h0m0-5h0m0 3h0m0 3h0m1 6h0m0 0h0m0 6h0m0 4h0m1-8h0m0-3h0m1 11h0m0-26h0m0 37h0m1-31h0m0 17h0m0 9h0m0 3h0m0-35h0m0 33h0m0-14h0m0-7h0m0 12h0m1 9h0m0-8h0m0-6h0m0-12h0m0 18h0m1-18h0m0 39h0m0-22h0m1-3h0m0 7h0m0 0h0m0-9h0m0 9h0m0-9h0m0 0h0m1 2h0m0-3h0m0 17h0m0 4h0m0-13h0m1-4h0m1 2h0m0 3h0m0-26h0m0 41h0m0-22h0m1 11h0m0-22h0m0 27h0m0 0h0m1 6h0m0-13h0m0 8h0m0 8h0m0-13h0m0-5h0m0 2h0m1-5h0m0 7h0m0-15h0m0 15h0m0-7h0m1-15h0m0 6h0m0 7h0m0 11h0m0 9h0m1-34h0m0 26h0m1 3h0m0-7h0m1 10h0m0-13h0m0-5h0m0 2h0m0 12h0m0 3h0m0-18h0m1 4h0m0 6h0m0-12h0m0 40h0m0-32h0m1-1h0m1-3h0m0-4h0m0 11h0m0 13h0m0-4h0m0-3h0m1 6h0m1-23h0m0 0h0m0-1h0m0 1h0m0 21h0m0-4h0m0-12h0m0 10h0m0-13h0m1 13h0m0 18h0m0-25h0m0 15h0m0-17h0m0 17h0m0 12h0m0-19h0m0 12h0m1-13h0m0-1h0m1-7h0m0 32h0m0-13h0m0-6h0m1 4h0m0 40h0m1-38h0m0 17h0m0-18h0m0-11h0m0 9h0m0-6h0m0 4h0m0-7h0m0 14h0m1 0h0m0-4h0m0-15h0m0 1h0m0 13h0m0-16h0m1 33h0m0-16h0m0 1h0m0 20h0m0-55h0m1 3h0m0 13h0m1 19h0m0 4h0m0 1h0m0-8h0m0 8h0m0-16h0m0 33h0m1-4h0m0-14h0m0 1h0m0 0h0m1-2h0m0-23h0m0 14h0m0 20h0m0-31h0m0 9h0m1 20h0m0-27h0m0 22h0m0-4h0m1-7h0m0 24h0m0-6h0m0-13h0m0 14h0m1-7h0m1-16h0m0 15h0m0-4h0m1 3h0m0 6h0m1-7h0m0-4h0m0 12h0m1 7h0m0 3h0m0-25h0m0 13h0m0 10h0m1-3h0m0 7h0m1-15h0m0-18h0m0 8h0m0 17h0m0 11h0m0-27h0m1 10h0m0 4h0m0-10h0m2 23h0m0-19h0m0 14h0m1 6h0m0-6h0m0 6h0m0-31h0m1 15h0m0-4h0m0 2h0m0-1h0m0-1h0m0-1h0m1 17h0m0 15h0m0-25h0m0 0h0m1 5h0m0 36h0m0-49h0m0 22h0m0-23h0m0 23h0m0-35h0m1 47h0m0-19h0m0-8h0m0-4h0m0 25h0m0-39h0m0 11h0m0 16h0m0-4h0m1-20h0m0 22h0m0-9h0m1 3h0m0-6h0m0-8h0m0 2h0m0 38h0m0-18h0m0 0h0m0-9h0m0 24h0m0-20h0m1 1h0m0 4h0m0-8h0m0 15h0m0-2h0m0-25h0m1 10h0m0 2h0m0 0h0m0 2h0m0 4h0m0 2h0m0 14h0m1-29h0m0 25h0m0-13h0m1 7h0m0-2h0m0-28h0m0 13h0m0 5h0m1 13h0m0 6h0m0 1h0m0 6h0m0-5h0m1 1h0m0-22h0m0 10h0m0-2h0m0 5h0m0 5h0m0-17h0m1-12h0m0 11h0m0 15h0m0-12h0m1 20h0m0-1h0m0-15h0m0-4h0m0-8h0m0 25h0m1-10h0m0 11h0m0-21h0m0 21h0m0-32h0m1 20h0m0 8h0m0 7h0m1-12h0m0 15h0m0-8h0m0-8h0m0 6h0m0-17h0m0 14h0m0-5h0m0 35h0m1-36h0m0-26h0m0 30h0m0 3h0m0 4h0m0-16h0m0-6h0m1 7h0m0 5h0m1-16h0m0 21h0m0 7h0m0-3h0m0-20h0m1 7h0m0 15h0m0-5h0m0 0h0m0-10h0m0 18h0m0-16h0m0 17h0m1-16h0m0 18h0m0 15h0m0-33h0m1 13h0m0 6h0m0-32h0m0 13h0m1 3h0m0 22h0m0-6h0m0-19h0m0-7h0m0 32h0m1-4h0m0-5h0m0 3h0m1-1h0m0 11h0m0-7h0m2 1h0m0 9h0m0-18h0m0 10h0m1-5h0m1-6h0m0-10h0m0 17h0m0-17h0m0-7h0m0 5h0m1 16h0m0 3h0m0-19h0m0 14h0m0 1h0m0-12h0m0-3h0m0 1h0m0 20h0m1 0h0m0-23h0m0 4h0m0 23h0m0-22h0m1 10h0m0-13h0m0 5h0m0 51h0m1-35h0m0 21h0m0-39h0m0-11h0m0 13h0m0 4h0m0 20h0m0-14h0m1-16h0m0 12h0m0 7h0m0-2h0m0-5h0m0 24h0m0-16h0m1 9h0m0-25h0m0 15h0m0 18h0m1-16h0m1-5h0m0 12h0m0-17h0m0 6h0m0 8h0m0 15h0m0 1h0m0-26h0m0-6h0m1 36h0m0-37h0m0 8h0m0 6h0m0-16h0m0 42h0m0-38h0m1 19h0m0 6h0m0-16h0m1 5h0m0 9h0m0-27h0m0 23h0m0-12h0m0 5h0m1 2h0m0-7h0m0 0h0m0 8h0m0 7h0m0-15h0m0 4h0m1-2h0m0-15h0m0 16h0m0 9h0m0 25h0m0-21h0m0-23h0m0 13h0m0 20h0m1 2h0m0-19h0m0-22h0m0-2h0m0 22h0m1 6h0m0 8h0m0 16h0m0-26h0m0 4h0m0-12h0m1-8h0m0 17h0m1-12h0m0 8h0m1-5h0m0 10h0m0-14h0m0 18h0m1 6h0m0-20h0m0 41h0m0-52h0m0 63h0m0-46h0m1-4h0m0 18h0m0-24h0m0 13h0m1-13h0m0 38h0m0-4h0m0-21h0m1 6h0m1-5h0m0-18h0m0 37h0m0-28h0m1 19h0m0 3h0m0-6h0m1 4h0m0 9h0m0-35h0m0 21h0m0 0h0m0 9h0m0-15h0m0 12h0m1 1h0m0 15h0m0-21h0m0 21h0m0-42h0m0 40h0m1-33h0m1 36h0m0-18h0m0 40h0m1-22h0m0-30h0m0 13h0m0 16h0m0-18h0m1 5h0m0-4h0m0 3h0m0-17h0m0 21h0m0 13h0m0-12h0m0-35h0m0 15h0m0 28h0m0-32h0m1 39h0m0-28h0m1 14h0m0 21h0m0-36h0m1 12h0m0-9h0m0 5h0m1-6h0m0 10h0m0 5h0m0-22h0m1 18h0m0-20h0m0 13h0m1 21h0m0 3h0m0-18h0m0-11h0m0 29h0m1-22h0m0-1h0m1 17h0m0-40h0m0 13h0m0 6h0m1-13h0m0 27h0m0 34h0m1-33h0m0-12h0m0 15h0m1 6h0m0-20h0m0-16h0m0 11h0m0 11h0m0 44h0m1-42h0m0-33h0m0-3h0m0 70h0m1-52h0m0 41h0m0-36h0m0 10h0m0 15h0m1-13h0m0-8h0m0 6h0m0-9h0m0 3h0m1-1h0m0-22h0m0 51h0m1-17h0m0-22h0m0 41h0m1-19h0m0-7h0m0 13h0m0-10h0m1-4h0m0-2h0m0 37h0m0-58h0m1 63h0m0-18h0m0-19h0m0-14h0m0 26h0m0-1h0m0-9h0m0 26h0m0-19h0m1-24h0m0 0h0m0 26h0m0 11h0m1-35h0m0 31h0m0-4h0m0-5h0m0 15h0m0-22h0m1-23h0m0 21h0m0 10h0m1 15h0m0-14h0m0 0h0m0 32h0m0-28h0m0-21h0m1-4h0m0 29h0m0-14h0m0 10h0m0-12h0m0 49h0m1-56h0m1 46h0m0-37h0m0 14h0m0-16h0m1-27h0m0 55h0m1-6h0m1 4h0m0-28h0m0 4h0m1 59h0m0-30h0m0-46h0m0 5h0m0 32h0m0-6h0m0 5h0m2-19h0m0-16h0m0 18h0m0 15h0m0-13h0m0 3h0m0 36h0m0 13h0m0-49h0m1 20h0m0 0h0m0-10h0m1 13h0m0-20h0m0-8h0m0 14h0m0-6h0m0-10h0m0 17h0m1-29h0m0 41h0m0-3h0m0-14h0m0-7h0m1 14h0m0 1h0m0 0h0m0-20h0m1 34h0m0-25h0m0 21h0m0 8h0m0-12h0m0 8h0m1-39h0m0 48h0m0-39h0m1 22h0m0-37h0m0 3h0m0 50h0m0-5h0m0-3h0m0-18h0m1-2h0m0-4h0m0 49h0m1-17h0m0-23h0m0 8h0m0-23h0m0 80h0m0-52h0m0 3h0m1-23h0m1 20h0m0 6h0m0-19h0m1 8h0m0-15h0m0 28h0m1-34h0m0 11h0m1 26h0m0-31h0m0 5h0m0-10h0m0 12h0m0-2h0m1 33h0m0-21h0m0-16h0m0 7h0m0 25h0m1-19h0m0 9h0m1 10h0m0-31h0m0 2h0m0 40h0m0-33h0m0-16h0m0 30h0m0-8h0m0-12h0m0 20h0m0-20h0m1 0h0m1 41h0m0-49h0m0 8h0m0-4h0m0 19h0m1 27h0m0-33h0m0-17h0m2 28h0m0-7h0m0 0h0m1 5h0m0-11h0m0 8h0m0 41h0m1-49h0m0-5h0m0 21h0m0-36h0m0 28h0m1 15h0m0-5h0m0-10h0m0-13h0m0 0h0m0 15h0m1 37h0m0-55h0m0 11h0m0-36h0m1 36h0m0-3h0m0-4h0m0-1h0m0 31h0m0-15h0m1-1h0m1-13h0m0 42h0m0 2h0m0-7h0m0 3h0m0 23h0m0-17h0m0-27h0m1 14h0m0-37h0m1 26h0m0-9h0m0-13h0m0 21h0m0-2h0m1 10h0m0-44h0m0-4h0m0 71h0m0-46h0m0 15h0m0-13h0m0 8h0m1-16h0m0-4h0m0 26h0m0 13h0m0-30h0m0 67h0m0-43h0m1-13h0m0-21h0m0-7h0m0 26h0m0 30h0m0-16h0m1-14h0m0-28h0m0 47h0m1-24h0m0 75h0m0-78h0m0 48h0m0-23h0m0-3h0m1-6h0m0 6h0m0 5h0m0-5h0m0-6h0m1-1h0m0-10h0m0 5h0m0 22h0m1 22h0m0-10h0m0-8h0m1 12h0m0-21h0m0 11h0m1-2h0m0-4h0m0-27h0m0 37h0m0-11h0m0-4h0m0-27h0m1 48h0m0-23h0m0-9h0m0 0h0m0 2h0m0 41h0m0-54h0m1 54h0m0-36h0m0 4h0m0-7h0m0 5h0m1-10h0m0 25h0m0-33h0m1 45h0m0-30h0m0 1h0m0 17h0m0-22h0m0-31h0m0 33h0m1 39h0m0-15h0m0-12h0m0-29h0m0 39h0m0 2h0m0-22h0m0-9h0m1-13h0m0 29h0m0 7h0m0-9h0m1-5h0m0-28h0m0 28h0m0 12h0m0-34h0m1 27h0m0 21h0m0-17h0m0 3h0m0-16h0m0 28h0m0 8h0m1-25h0m0 5h0m0 18h0m2-39h0m0-21h0m0 10h0m0 13h0m1 5h0m0 28h0m0 40h0m0-78h0m0 19h0m0 15h0m0-15h0m0 9h0m0 16h0m0-27h0m1 21h0m0-37h0m0 5h0m0 26h0m0-19h0m0 11h0m0-18h0m1 6h0m0 56h0m1-44h0m0 25h0m0-46h0m0 70h0m0-73h0m0 0h0m0 22h0m0 38h0m1-36h0m0 12h0m0-36h0m1 75h0m0-47h0m0-18h0m1 16h0m0-4h0m1-29h0m0 47h0m0-6h0m0 31h0m0-53h0m0-2h0m0 14h0m0-37h0m1 14h0m0 5h0m0-8h0m1 40h0m0-30h0m1 48h0m0-37h0m1 17h0m0 6h0m0 28h0m1-28h0m0 18h0m0-36h0m0-35h0m0 39h0m0-48h0m0 39h0m0 30h0m0-36h0m2 8h0m0-8h0m1 27h0m0-35h0m0 10h0m0-20h0m1 63h0m0-22h0m0 15h0m0-38h0m1 31h0m0-18h0m0-9h0m1-5h0m1 5h0m0-9h0m0 62h0m0-62h0m0 11h0m1 21h0m0-10h0m0-20h0m0 32h0m1-4h0m0-4h0m0-15h0m0 7h0m0 25h0m1-4h0m0 0h0m0 6h0m0-29h0m1 2h0m0-18h0m0 52h0m0-38h0m0 41h0m0 12h0m0-28h0m0-23h0m0 54h0m1-34h0m0-6h0m0-17h0m0 9h0m1-27h0m0 46h0m0-9h0m0-19h0m0-39h0m0 74h0m0-18h0m0 9h0m1-17h0m0 6h0m0-15h0m0 1h0m0 10h0m0-10h0m1-5h0m0 27h0m0-20h0m0 12h0m0-4h0m0-27h0m1 46h0m0 30h0m0-49h0m0-22h0m0 30h0m0 11h0m0-41h0m1 39h0m0-5h0m1-6h0m0-19h0m0 23h0m0-41h0m0 46h0m0-32h0m0 27h0m0 28h0m1-32h0m0-62h0m0 89h0m1 3h0m0-32h0m0-6h0m0 21h0m1-13h0m0-10h0m0-6h0m0 25h0m0-9h0m1-16h0m0 22h0m1 7h0m0 7h0m0-30h0m0 21h0m0-7h0m0 0h0m1 2h0m0-6h0m0-4h0m0 41h0m1-37h0m0 11h0m1-21h0m0 25h0m0-41h0m1 5h0m0 36h0m1 10h0m0-23h0m0 0h0m0-10h0m0 30h0m1 18h0m0-18h0m1-24h0m0 20h0m0-16h0m0 11h0m0-2h0m0 7h0m1-24h0m0 36h0m0-15h0m0-4h0m0-19h0m1 28h0m1-14h0m0 7h0m0 30h0m0-49h0m0-26h0m0 41h0m0-9h0m0 13h0m1-21h0m0 28h0m0-24h0m0-13h0m0 47h0m1-26h0m0-8h0m0 8h0m1 31h0m0-72h0m1 69h0m0 22h0m0-24h0m0-28h0m1 23h0m0-27h0m0 8h0m0 31h0m0-24h0m0 0h0m1 41h0m0-73h0m0 15h0m1 24h0m0-22h0m0 0h0m0 56h0m0-22h0m0-7h0m0 15h0m0-22h0m1-7h0m0-39h0m0 41h0m0-41h0m0 30h0m0 35h0m1-12h0m0-60h0m0 48h0m0-23h0m0 8h0m0 34h0m0-42h0m1 21h0m0 21h0m1-38h0m0 28h0m0 15h0m0-33h0m0-10h0m0 4h0m1 0h0m0 32h0m0 30h0m0-58h0m0-2h0m1 43h0m0-49h0m0 6h0m0 48h0m0-42h0m0 31h0m0-26h0m0 69h0m1-53h0m0-5h0m1-34h0m0 30h0m0 30h0m1-13h0m0 45h0m0-45h0m0-8h0m0 21h0m1-30h0m0 65h0m0-37h0m1 27h0m0-10h0m0-45h0m1-12h0m0 67h0m0-27h0m0 14h0m0-28h0m0 14h0m0 0h0m0-37h0m1 21h0m0 46h0m0-58h0m0 49h0m0-32h0m1 11h0m0 2h0m0-23h0m0 35h0m0-38h0m0 24h0m1-44h0m0 74h0m0-41h0m0-20h0m0 42h0m0-32h0m1 7h0m0-30h0m0 23h0m0 26h0m1-29h0m0 29h0m0 9h0m0-6h0m0-34h0m1-14h0m0 21h0m0-29h0m1 50h0m0 19h0m0-30h0m0 0h0m0-2h0m1-13h0m0 48h0m0-48h0m0 3h0m0 26h0m1-21h0m0-12h0m0 7h0m0 18h0m1 0h0m0-11h0m0-7h0m1 5h0m0-17h0m0 2h0m0 61h0m0-25h0m0-31h0m1-7h0m0 74h0m0-110h0m1 63h0m0-20h0m0-28h0m0 91h0m0-37h0m0 5h0m1-42h0m0-3h0m0 3h0m0 42h0m1 6h0m0-11h0m0-26h0m0-11h0m0-9h0m0 43h0m0 14h0m1-63h0m0 26h0m0 5h0m0 29h0m0 0h0m0-62h0m1 54h0m0-14h0m0 3h0m0 35h0m0-22h0m1 35h0m0-51h0m1-19h0m0-4h0m0-3h0m0 14h0m1 31h0m0-45h0m0-4h0m0 9h0m0 21h0m0-7h0m0 21h0m0 17h0m0 24h0m0-47h0m0 30h0m1-3h0m0-7h0m0-12h0m0 0h0m0-21h0m0 0h0m1-5h0m0 41h0m0 7h0m0-22h0m0-30h0m0 14h0m1 16h0m0-42h0m0 14h0m0-11h0m0 51h0m1 3h0m0-9h0m0-41h0m1 27h0m0-3h0m0-12h0m0 23h0m1-30h0m0 69h0m1-27h0m0-51h0m1 67h0m0-61h0m0 5h0m0 31h0m1-5h0m0-58h0m0 58h0m0 11h0m1-42h0m0 25h0m0 3h0m0 17h0m0 3h0m0-57h0m1 40h0m0-21h0m1-3h0m0 97h0m0-39h0m0 31h0m0-60h0m1-21h0m0-19h0m0 9h0m0 28h0m0-33h0m0 36h0m0 19h0m1-59h0m0 49h0m0-28h0m0-7h0m0 51h0m1-78h0m0 32h0m0 27h0m0 6h0m1-36h0m0 3h0m0 46h0m0-30h0m0 45h0m0-40h0m1 19h0m0-19h0m0 22h0m0-6h0m1-40h0m0 21h0m0 32h0m0 11h0m1-76h0m0 87h0m0 32h0m0-102h0m0 35h0m0 27h0m1-62h0m0 19h0m1-8h0m0-25h0m0 36h0m0-41h0m0 74h0m0-20h0m1-37h0m0 5h0m0 5h0m0 36h0m0-33h0m1 76h0m0-89h0m0 33h0m0 13h0m0-56h0m0 2h0m0 84h0m0-58h0m0 58h0m0-19h0m1-39h0m0 12h0m0-66h0m0 63h0m1 16h0m0-25h0m0 43h0m0-61h0m0 33h0m0-6h0m0-3h0m1 26h0m0-43h0m0 87h0m0-70h0m0 3h0m1-9h0m0 19h0m0 24h0m1-45h0m0 11h0m0 19h0m1-54h0m0 54h0m0-22h0m0 6h0m1 16h0m0-41h0m0 25h0m0 27h0m1-44h0m0 3h0m0 60h0m1-81h0m0 15h0m0 23h0m0-36h0m1 36h0m0-9h0m0 40h0m0-3h0m1-59h0m0 74h0m0-71h0m1 89h0m0-87h0m0 50h0m0-60h0m0 43h0m0 0h0m0 17h0m0 15h0m1-26h0m0-25h0m0-14h0m0 23h0m1-35h0m0 32h0m0 10h0m0-4h0m0 24h0m0-41h0m1 21h0m0-13h0m0-8h0m0 30h0m0 4h0m0-4h0m1 15h0m0-51h0m0 109h0m0-73h0m0 53h0m0-56h0m0-25h0m0 12h0m0 10h0m1-10h0m0 0h0m0 23h0m0-26h0m0 41h0m1-80h0m0 88h0m1-26h0m0-60h0m0 104h0m0-22h0m0-19h0m0 4h0m0-27h0m1-9h0m0 36h0m0-41h0m1 8h0m0-6h0m0 28h0m0 4h0m0-20h0m1-40h0m0 78h0m0-68h0m0 30h0m0 13h0m0 14h0m1 24h0m0-17h0m0 21h0m0-24h0m0 11h0m1-8h0m0-43h0m0 64h0m0-9h0m1-95h0m0 95h0m0-49h0m0-37h0m1 91h0m1 4h0m0-24h0m0-15h0m0-30h0m0 45h0m1-28h0m0 24h0m0 24h0m0-17h0m0-18h0m1-25h0m0 25h0m0-25h0m1 60h0m0-24h0m1-44h0m0 27h0m0 13h0m0-10h0m0-16h0m1 10h0m0 52h0m0-89h0m0 33h0m1 7h0m0 79h0m0-79h0m1 10h0m0 18h0m1-58h0m1 84h0m0-70h0m0 40h0m0-57h0m0 6h0m0 112h0m0-79h0m0 26h0m1-22h0m0-40h0m0 20h0m0 0h0m0 23h0m0-29h0m1-8h0m0 41h0m0 28h0m1 29h0m0-57h0m0 28h0m0-39h0m0 11h0m0-14h0m1 38h0m0 38h0m0-73h0m0-13h0m0 10h0m0 42h0m0 9h0m0-61h0m1 20h0m0-13h0m0 24h0m0-21h0m0 10h0m0-26h0m0-11h0m0 0h0m1 73h0m1-46h0m0 10h0m0-10h0m0 0h0m0-27h0m1 73h0m0 0h0m0-17h0m0 22h0m1-73h0m0 43h0m1 21h0m0-4h0m0-31h0m1-23h0m0 19h0m0 0h0m0 48h0m0-5h0m1-62h0m1-32h0m0 32h0m0-6h0m0 19h0m1 10h0m0 69h0m0-10h0m0-66h0m0 0h0m1-13h0m0 27h0m1 114h0m0-99h0m0 13h0m0-48h0m0 27h0m0 0h0m0 30h0m0 20h0m1-98h0m0 65h0m0-79h0m0 51h0m0 90h0m0-93h0m1 11h0m0 3h0m0 0h0m0 25h0m1 10h0m0-81h0m0 25h0m0 10h0m0 46h0m0 10h0m0-79h0m0-3h0m1 23h0m0-13h0m0-10h0m0 0h0m0 34h0m1-34h0m0 23h0m0 35h0m0-64h0m1 36h0m0 42h0m0-86h0m0 81h0m1-81h0m0 68h0m0-51h0m0-12h0m0 6h0m0 52h0m0 0h0m0-52h0m1 48h0m0-4h0m0 26h0m0-73h0m0 3h0m0 119h0m1-116h0m0 26h0m0 32h0m0-24h0m1-28h0m0 39h0m0-15h0m0-27h0m0 51h0m1 4h0m0 19h0m0-71h0m0 0h0m0 110h0m0-71h0m0-22h0m0-7h0m0 33h0m0-26h0m0-58h0m0 13h0m1 56h0m1 0h0m0 38h0m0 106h0m0-172h0m0 28h0m0-54h0m1 9h0m0 27h0m0 25h0m0 4h0m1 32h0m0-28h0m1-19h0m0-11h0m0 4h0m0 11h0m0 82h0m0-18h0m0-82h0m0-10h0m0 39h0m1 65h0m0-104h0m1 17h0m0 75h0m0-26h0m0-83h0m0 14h0m0-17h0m1 68h0m0-9h0m0-35h0m1 31h0m0-4h0m0 4h0m0 57h0m0-26h0m0-23h0m0-4h0m0-19h0m1-23h0m0 7h0m0 3h0m0 59h0m0-31h0m0 57h0m0-85h0m1 41h0m0-35h0m0 43h0m0-49h0m1 85h0m0-72h0m0 56h0m0-20h0m0-28h0m1 38h0m0-27h0m0 84h0m1-113h0m0-6h0m0-19h0m0 19h0m1-13h0m0 101h0m0-31h0m0-81h0m0 68h0m0-20h0m1 11h0m0 13h0m0 0h0m0-24h0m0 88h0m1-64h0m0 46h0m0-32h0m1 26h0m0-40h0m0-39h0m0 43h0m0 15h0m0-61h0m0 7h0m0 0h0m1 7h0m0-7h0m1-7h0m0 71h0m0-96h0m1 19h0m0 9h0m0 7h0m1 11h0m0-14h0m0-13h0m0 57h0m0-18h0m0-19h0m0 19h0m0 5h0m0 62h0m1-71h0m0 47h0m0-5h0m0-25h0m0-17h0m0-32h0m0 59h0m1-18h0m0 38h0m0 0h0m1-51h0m0 21h0m0 25h0m0-64h0m0 11h0m1-34h0m0 49h0m0 23h0m0-56h0m0 61h0m1-51h0m0 28h0m0 33h0m1-33h0m0 50h0m1-55h0m0-8h0m1-11h0m0 7h0m0-3h0m0-21h0m1 49h0m0 90h0m0-42h0m1-38h0m0-5h0m0-9h0m1-17h0m0-28h0m0 24h0m0 73h0m0 6h0m0-44h0m0-31h0m0 41h0m1-15h0m0-22h0m0 0h0m1 32h0m0-5h0m0-23h0m0-12h0m1 55h0m0-25h0m0-9h0m0-28h0m0 7h0m0 79h0m1-86h0m0 62h0m0-76h0m0 61h0m1-36h0m0-15h0m0 96h0m0-81h0m0 46h0m1-77h0m0 72h0m0-59h0m0 22h0m0-22h0m0 54h0m0-54h0m0-23h0m1 26h0m0-10h0m0 113h0m0-62h0m0-18h0m0-39h0m1 9h0m0 68h0m0-46h0m0-18h0m0 26h0m1 28h0m0 27h0m0 25h0m0-19h0m0 0h0m0-28h0m0 40h0m1-64h0m0-4h0m0 23h0m0 0h0m0 10h0m0 5h0m0-10h0m0-20h0m1-28h0m0-8h0m0 32h0m0-28h0m1 106h0m0-87h0m0-49h0m0 87h0m1 42h0m1 59h0m0-130h0m0-13h0m0-22h0m0 99h0m0-81h0m0 0h0m0 21h0m0-99h0m1 114h0m0-43h0m0 43h0m0-15h0m1 15h0m0-80h0m0 113h0m0-33h0m0-47h0m0 106h0m0-59h0m1 27h0m0-74h0m0 57h0m0-33h0m0 75h0m0 0h0m1-67h0m0-46h0m0 51h0m0 0h0m1-18h0m0-19h0m0 52h0m0-88h0m1 98h0m0-79h0m0 147h0m0-98h0m2 20h0m1-15h0m0-76h0m0 46h0m0 107h0m1-67h0m0 52h0m0-110h0m0 18h0m1 50h0m0 29h0m0-90h0m0 56h0m1-24h0m0-24h0m0-28h0m0 0h0m1 48h0m0 115h0m1-87h0m0-15h0m1-61h0m0 31h0m0 79h0m0-79h0m0 61h0m1-31h0m0-5h0m0-21h0m0 17h0m0 40h0m0 0h0m1 18h0m0-6h0m0-43h0m0 102h0m0-82h0m0-29h0m0-21h0m1 61h0m1-16h0m0-37h0m0 9h0m0 44h0m1 31h0m0-7h0m0-6h0m0 0h0m1-39h0m0-58h0m0 43h0m0 25h0m0 0h0m1 49h0m0-54h0m0-20h0m0 98h0m1-98h0m0 48h0m0 68h0m0-42h0m0-49h0m1-20h0m0 20h0m0 5h0m0-15h0m0-19h0m0 78h0m0-82h0m0 33h0m0-10h0m0 5h0m1-10h0m0-5h0m0-26h0m0 8h0m0 55h0m0-27h0m1-36h0m0-11h0m1 106h0m0-44h0m1-62h0m0 86h0m0 36h0m0-107h0m1 37h0m0-59h0m0 106h0m0-42h0m1-68h0m0 110h0m0-71h0m0 94h0m1 8h0m0-111h0m0 87h0m0-54h0m0-15h0m0-37h0m1 32h0m0-8h0m0 56h0m0-23h0m0-46h0m0 181h0m1-124h0m0-26h0m0 5h0m0-10h0m1 49h0m0-79h0m1 141h0m0-120h0m0 78h0m0-82h0m0-17h0m1 0h0m0-21h0m0 88h0m0-6h0m0-6h0m0-51h0m0 51h0m1 60h0m0-36h0m0-34h0m0-28h0m0 56h0m0-56h0m0 68h0m0-55h0m0-22h0m0 17h0m1 82h0m0-107h0m0-11h0m0 32h0m0-21h0m1 67h0m0 65h0m0-53h0m0-86h0m0 68h0m1 152h0m0-188h0m0-8h0m0-35h0m0 15h0m0 102h0m0-38h0m0-11h0m0-10h0m1-40h0m0 45h0m0 62h0m0-67h0m0-5h0m0 20h0m1-10h0m0 22h0m0-12h0m0-73h0m0 58h0m0 0h0m0 5h0m1-56h0m1 4h0m0 42h0m0-5h0m0 55h0m0-68h0m0-28h0m0 110h0m0-38h0m0 18h0m1-82h0m0 24h0m0-9h0m0 0h0m0 55h0m0-55h0m0 13h0m0 90h0m1-129h0m0 44h0m0 25h0m0-25h0m0 15h0m0-52h0m1 114h0m0-118h0m0 8h0m0 53h0m0-15h0m1-5h0m0-9h0m1-17h0m0 57h0m0-53h0m0 42h0m0-50h0m0 61h0m1 0h0m0-16h0m0 10h0m0 24h0m0-34h0m0 0h0m1-5h0m0-15h0m0 0h0m1-28h0m0 33h0m0 15h0m1 28h0m0 6h0m0 13h0m0-95h0m0 20h0m1 75h0m0 15h0m0-8h0m1 0h0m0-38h0m0 0h0m0-6h0m0-20h0m0 164h0m1-174h0m0 10h0m0 44h0m0-24h0m0-62h0m1 139h0m0-71h0m0-6h0m0-5h0m0 11h0m0 62h0m0-78h0m1 34h0m0-34h0m0-48h0m0 76h0m1 50h0m1-8h0m0-85h0m0 93h0m0-68h0m1-20h0m0 80h0m1-65h0m0 5h0m0-69h0m0 64h0m0-50h0m1 92h0m0-95h0m1 70h0m0 0h0m0-6h0m0 101h0m1-158h0m0 21h0m0 126h0m0-66h0m0-45h0m0 15h0m1-43h0m1 38h0m0 11h0m1 0h0m0 12h0m0 0h0m0-33h0m1 21h0m0-44h0m0 44h0m0-21h0m0 67h0m0-125h0m1 58h0m0 39h0m0 0h0m1-136h0m1 97h0m0 27h0m1-22h0m0-20h0m0 30h0m0 18h0m1-73h0m0 107h0m0-15h0m0-80h0m1 33h0m0 70h0m0-30h0m0-55h0m0-9h0m0 71h0m1-75h0m0 62h0m0 0h0m0-75h0m1 51h0m0 52h0m0 16h0m0-56h0m1 25h0m0 31h0m0-73h0m1 0h0m0 91h0m0-74h0m1 25h0m0-13h0m0-39h0m0 75h0m0-42h0m0-38h0m0 80h0m0-8h0m0 25h0m0-17h0m1-60h0m0-10h0m0-24h0m0 14h0m0 15h0m0-33h0m0 106h0m0 28h0m0-66h0m0 56h0m1 44h0m0-155h0m0 111h0m0-106h0m0 10h0m0-5h0m0 59h0m0-95h0m0 63h0m1 40h0m0-40h0m1-46h0m0 46h0m0-37h0m0 49h0m0 0h0m0-93h0m0 59h0m0-20h0m0 126h0m1-154h0m0 58h0m0-10h0m0-5h0m0 21h0m0-44h0m1 145h0m0-150h0m0 129h0m0-124h0m0 106h0m0 18h0m0 0h0m0-26h0m1-70h0m0 54h0m1-7h0m0 15h0m1 16h0m0-78h0m1 22h0m0-22h0m0 54h0m0-106h0m0 206h0m0-126h0m0 6h0m1 0h0m1 0h0m0-29h0m0 0h0m0 49h0m0-44h0m0 130h0m1-112h0m0 78h0m0-66h0m0-55h0m0 31h0m0-57h0m1 31h0m0-27h0m0 71h0m0-12h0m1 25h0m0-25h0m0-70h0m0 118h0m1-23h0m0-37h0m0 0h0m0-34h0m0 40h0m1 124h0m0-145h0m0 27h0m0-6h0m1-31h0m0 69h0m0 86h0m1-124h0m0-16h0m0-15h0m0 37h0m0-22h0m1-48h0m0 53h0m0 17h0m1-37h0m0 25h0m0-20h0m0 26h0m0 6h0m0 18h0m0-24h0m1 80h0m0-26h0m0 58h0m0-165h0m1 59h0m0 56h0m0-62h0m1 62h0m0-38h0m0-45h0m0 15h0m1-25h0m0 85h0m0-23h0m0-84h0m0 27h0m1 38h0m0-18h0m0 60h0m0 8h0m0-102h0m0 64h0m1 22h0m0-82h0m0 98h0m0-56h0m0-22h0m1-37h0m0 27h0m0 116h0m0-59h0m0 0h0m0-84h0m1 4h0m0 95h0m0-15h0m0 59h0m0-111h0m0-15h0m1 137h0m0-95h0m1 18h0m0-18h0m1-12h0m0 60h0m0 98h0m0-146h0m0-6h0m0 6h0m1 25h0m0-57h0m0 20h0m0 6h0m1 54h0m0-36h0m0-44h0m0 10h0m0 62h0m0-95h0m0 103h0m0 17h0m1 19h0m0-143h0m0 47h0m0-34h0m0 52h0m0-6h0m0-32h0m0 26h0m0 0h0m0 31h0m1-7h0m1 22h0m0-34h0m0-12h0m1 0h0m0 31h0m1-84h0m0 165h0m0-32h0m1-74h0m0-27h0m0 21h0m0 12h0m0-38h0m1 57h0m0 0h0m0-62h0m1 25h0m0 37h0m0-7h0m0 30h0m1-8h0m0-77h0m0 31h0m0 101h0m0-89h0m0-18h0m0 107h0m1-83h0m0 106h0m1-118h0m0-12h0m1 24h0m0 0h0m0-44h0m0 15h0m1 73h0m1-78h0m0 87h0m0-53h0m0-12h0m1 95h0m0-77h0m0-18h0m0 48h0m0-70h0m0 62h0m1-107h0m0 79h0m0 0h0m1-54h0m0 82h0m0-28h0m1 106h0m0-145h0m0 92h0m1-9h0m0-44h0m0 0h0m0 6h0m1-50h0m0 15h0m0 29h0m0 62h0m0-80h0m0 54h0m1-98h0m0 145h0m0-55h0m0-90h0m0 124h0m0-49h0m1-47h0m0 28h0m0-48h0m1 60h0m0-50h0m1 57h0m0 121h0m0-196h0m0 18h0m0 150h0m0-140h0m1 28h0m0 50h0m0-68h0m0 30h0m1-35h0m0 29h0m0-24h0m0 18h0m0 50h0m1-8h0m0 8h0m0-50h0m0-23h0m1-25h0m0 30h0m0 37h0m0 0h0m0 15h0m1-8h0m0 24h0m0-8h0m0-80h0m0 10h0m1 62h0m0 25h0m0-17h0m0 70h0m0-53h0m1-9h0m0 106h0m0-130h0m1-59h0m0 83h0m0-68h0m0 86h0m2-18h0m0 18h0m0-86h0m0 77h0m1 0h0m0-87h0m0 40h0m1-35h0m0-5h0m0 96h0m0-91h0m1-38h0m0 55h0m1-22h0m1 62h0m0 92h0m0-154h0m0 34h0m1-24h0m0 12h0m0 12h0m0-44h0m1 80h0m0-8h0m0-52h0m0 107h0m0-141h0m1 111h0m0-25h0m0-77h0m0 31h0m0 18h0m1 150h0m0 0h0m0-106h0m0 90h0m0-114h0m0 16h0m0 26h0m0-62h0m1-54h0m0 67h0m0-42h0m0-46h0m0 95h0m1-38h0m0 71h0m0-9h0m0-38h0m0-6h0m1 94h0m0-106h0m0 65h0m0-128h0m0 31h0m0 97h0m1-82h0m0 82h0m0-33h0m0 33h0m0-47h0m0-35h0m1 91h0m0-86h0m1 0h0m0-5h0m0 57h0m0 0h0m0 92h0m1-132h0m0 6h0m1 12h0m0 14h0m0-26h0m0-18h0m1-10h0m0 168h0m0-134h0m0 44h0m1-16h0m0-15h0m0 23h0m0-42h0m1-6h0m0-12h0m0-62h0m0 122h0m1 36h0m0-44h0m0 106h0m0-168h0m0 54h0m0-20h0m0 20h0m1-14h0m0-18h0m0 0h0m0 6h0m0 59h0m0 41h0m0-41h0m0-40h0m0 40h0m1-40h0m0-84h0m0 124h0m0-40h0m0-25h0m0 56h0m1-8h0m0-8h0m0 122h0m1-67h0m0-89h0m0 12h0m0-55h0m0 10h0m1 59h0m0-49h0m0-25h0m1 60h0m0 38h0m0-62h0m1 38h0m0-69h0m0-5h0m0 36h0m0 18h0m0-34h0m0 22h0m1 6h0m0 0h0m1 42h0m0 8h0m0-50h0m0 42h0m0-98h0m1 38h0m0 60h0m0-30h0m1-12h0m0-48h0m0 42h0m0-6h0m0 71h0m1-111h0m0 46h0m0-17h0m0 65h0m0-60h0m0-5h0m0-5h0m0 47h0m1-37h0m0 118h0m0 56h0m0-130h0m1 114h0m0-14h0m0 48h0m0-148h0m0-26h0m0 59h0m0-87h0m0 47h0m0 59h0m1 0h0m0 0h0m0-28h0m0-8h0m0-16h0m1 130h0m0-156h0m0-28h0m0 87h0m1 9h0m0-56h0m0 77h0m0-107h0m0 12h0m0-22h0m0 5h0m1 42h0m0 107h0m0 30h0m1-156h0m0 42h0m0 0h0m0 36h0m0-52h0m0-38h0m0 12h0m1 78h0m0-52h0m0 42h0m0-106h0m0 44h0m1 20h0m0-38h0m0-11h0m1 42h0m0 0h0m0 121h0m0-146h0m0 106h0m1-58h0m0-115h0m0 185h0m1-145h0m0 75h0m0-48h0m0 6h0m0 100h0m0-94h0m1 53h0m0-102h0m0 43h0m0 50h0m0-50h0m0 195h0m0-238h0m1-5h0m1 67h0m0 7h0m0 42h0m0-42h0m0 42h0m0-86h0m1 52h0m0-86h0m0 141h0m0-21h0m0-111h0m0 169h0m1-76h0m1-38h0m0 7h0m0 15h0m1-72h0m0 138h0m0-106h0m0 12h0m0 28h0m0-46h0m1 80h0m0 21h0m1-89h0m0 50h0m0 0h0m0-62h0m0 186h0m1-115h0m0-71h0m0 31h0m0 93h0m1 0h0m0-93h0m0 0h0m1-13h0m0 189h0m0-136h0m1 9h0m0-18h0m0-83h0m0 52h0m1 49h0m0-56h0m0-6h0m0 62h0m0 32h0m0-197h0m0 54h0m0 111h0m0-56h0m0 114h0m0-107h0m1 7h0m0 42h0m0-62h0m1 83h0m0-112h0m0 42h0m1 31h0m0-73h0m0 23h0m0 112h0m1 28h0m0-28h0m1-70h0m0 26h0m0-56h0m0 77h0m0-30h0m0-71h0m0 31h0m1-19h0m0 50h0m0-16h0m0 122h0m0-189h0m0 122h0m0-39h0m1-16h0m0 44h0m0 62h0m1 55h0m0-256h0m0 87h0m0 42h0m0-49h0m1 70h0m0-77h0m0 144h0m0-97h0m0-111h0m0 58h0m0-39h0m1 39h0m0 53h0m1-53h0m0 72h0m0 78h0m0-30h0m0-126h0m0 174h0m1-85h0m0-63h0m0 63h0m1-39h0m0-50h0m0 140h0m1-134h0m1 6h0m0 77h0m0-11h0m0 34h0m0 14h0m0-48h0m0-106h0m0 22h0m1 25h0m0 31h0m1-44h0m0 53h0m0-47h0m0-45h0m0 59h0m1 148h0m0-155h0m0-84h0m0 84h0m0 15h0m1 66h0m0-94h0m0 6h0m1 30h0m0-16h0m0-20h0m1-24h0m0 44h0m1 74h0m0-88h0m0 14h0m0-20h0m0-44h0m0 57h0m0 15h0m1-8h0m0-38h0m0 54h0m1 58h0m0 26h0m0-149h0m0 73h0m0-31h0m0 23h0m0-30h0m0-45h0m1 122h0m0-70h0m1 70h0m0-127h0m0 32h0m0 12h0m0 20h0m1-7h0m0 59h0m0 0h0m0-96h0m1 158h0m0-62h0m1 0h0m0 0h0m0-28h0m0-8h0m1 70h0m0-62h0m0 0h0m0-16h0m1-62h0m0 5h0m1 0h0m0 91h0m0 44h0m0-100h0m0-77h0m0 107h0m1-36h0m0-6h0m0-18h0m1 77h0m0 97h0m0-56h0m0 0h0m1-32h0m0 127h0m0-145h0m0 39h0m0-55h0m0 16h0m0 106h0m1-114h0m0 0h0m1 17h0m0 0h0m0 67h0m1-120h0m0 20h0m0 52h0m1-66h0m0-24h0m0 62h0m1-16h0m1 8h0m0-42h0m1 59h0m0 30h0m1-30h0m0-9h0m0-50h0m0 68h0m0-9h0m0-9h0m1-68h0m0 68h0m0 50h0m0-112h0m0 54h0m1 70h0m0-93h0m0 0h0m0 176h0m0-145h0m0 18h0m0-18h0m1 124h0m0-140h0m1-57h0m0 179h0m0-144h0m0 7h0m1 40h0m0-92h0m0 59h0m0 33h0m0 53h0m1-118h0m0 180h0m0-243h0m0 158h0m0-11h0m0-72h0m1-18h0m0 90h0m0-59h0m0-37h0m0 24h0m1 0h0m0 44h0m1-102h0m0 164h0m0-112h0m0 78h0m1-72h0m0 94h0m1-32h0m0-34h0m0-86h0m0 34h0m0 18h0m1 68h0m1-62h0m0 134h0m0-14h0m0-58h0m0-49h0m0 70h0m1-89h0m0 156h0m0-88h0m0-9h0m0 115h0m0-148h0m0 0h0m1-26h0m0 195h0m0-161h0m1 25h0m0-47h0m0 7h0m0-37h0m0 0h0m1 96h0m0 11h0m0-55h0m0-28h0m1 28h0m1 78h0m0-34h0m0 0h0m0 78h0m0-184h0m1 34h0m0-18h0m0 31h0m0 40h0m0-53h0m0-6h0m0-12h0m0 24h0m1 47h0m0-17h0m0 84h0m0-149h0m0 123h0m1-58h0m0-75h0m0 111h0m0-72h0m0-24h0m1 60h0m0-30h0m0 100h0m0-44h0m1-86h0m0-30h0m0 25h0m0-15h0m0 138h0m1-58h0m0-60h0m0 86h0m0-62h0m1 20h0m0 86h0m0-44h0m1-42h0m0 130h0m0 18h0m0-140h0m0-8h0m1 130h0m0-179h0m0 149h0m0 30h0m1-144h0m0 77h0m0-122h0m1 122h0m0 37h0m1 14h0m0-106h0m0 0h0m0 34h0m0 0h0m0-9h0m0 41h0m0-94h0m0 28h0m1 25h0m0 0h0m1-17h0m0 0h0m0-48h0m1-17h0m0 82h0m0-33h0m0 63h0m1-63h0m0 33h0m0 19h0m0-72h0m0-12h0m1 25h0m0-7h0m0-55h0m0 37h0m0 74h0m1-34h0m0 78h0m1 0h0m0-53h0m0-9h0m0-44h0m1 72h0m0-52h0m0 86h0m0-106h0m1 20h0m0-14h0m0 22h0m0 34h0m0-49h0m0 23h0m0 8h0m1 50h0m0-88h0m0 38h0m0 0h0m0 124h0m0-168h0m0 20h0m0-14h0m1 22h0m0-22h0m0 66h0m0-36h0m0 84h0m0-107h0m0-52h0m0 52h0m1 107h0m1-37h0m0-95h0m0 18h0m1-6h0m0-6h0m0-18h0m0 86h0m1-62h0m1-44h0m0 72h0m0 16h0m0-44h0m0 20h0m1 130h0m0-137h0m0-31h0m1 112h0m0-41h0m0-33h0m0 148h0m0-48h0m0-114h0m0-45h0m1 83h0m0 18h0m1-18h0m0-16h0m0-15h0m0 81h0m0-81h0m1 93h0m0 14h0m0-149h0m0 123h0m0-32h0m0-56h0m0 88h0m1-184h0m0 103h0m0 93h0m0-44h0m1-62h0m0 53h0m0 53h0m0-100h0m0 38h0m0 62h0m1-62h0m0 76h0m0-100h0m0 33h0m1-33h0m0 74h0m0 12h0m1-53h0m0-33h0m0 16h0m1-30h0m0 128h0m0 34h0m0-18h0m0-156h0m0 12h0m0-60h0m0 54h0m0 44h0m1 124h0m0-124h0m0-31h0m0 0h0m0 137h0m1-106h0m0 76h0m0-92h0m0 66h0m1-41h0m0-17h0m0-8h0m0-52h0m0-10h0m0 78h0m0 9h0m0-82h0m1 65h0m0-8h0m1 122h0m0-137h0m0 107h0m1-154h0m0 106h0m1-90h0m0-11h0m0 29h0m0 53h0m0-53h0m0 53h0m1-82h0m0 57h0m0-34h0m0-12h0m0 90h0m1 96h0m0-62h0m0 14h0m0-114h0m0 100h0m0-100h0m0-12h0m0 78h0m0 0h0m0-19h0m1 9h0m0-9h0m0 67h0m1-26h0m0-74h0m0 86h0m0-62h0m0 9h0m0 19h0m0 117h0m1-95h0m0-100h0m0 126h0m0-92h0m0 161h0m1-153h0m0 98h0m0-106h0m0 0h0m1 92h0m0-120h0m0-12h0m0 118h0m0-34h0m1-28h0m0 50h0m0-11h0m0 51h0m0-62h0m0-66h0m1 56h0m0 32h0m1-74h0m0 169h0m0-176h0m0 7h0m1-49h0m0 149h0m0-107h0m0 155h0m1-106h0m0-68h0m0-33h0m1 45h0m0 0h0m1-35h0m0 49h0m1-49h0m0 112h0m0-112h0m0 123h0m0 95h0m0-39h0m1-67h0m0-77h0m0-24h0m0-16h0m0 128h0m0-50h0m1-44h0m0 94h0m0 0h0m0-58h0m1-30h0m0-30h0m1 118h0m1-88h0m0 56h0m0-101h0m0 101h0m0 44h0m0-70h0m0 58h0m0-41h0m1-9h0m0 28h0m0 11h0m0 11h0m0-58h0m0 70h0m0-118h0m0 162h0m1-184h0m0 106h0m0-84h0m0-32h0m0-18h0m0 38h0m1 77h0m0 67h0m0-76h0m0 9h0m1-102h0m0 132h0m0-39h0m0-38h0m1 38h0m0 9h0m0 9h0m1 58h0m0-37h0m0-30h0m1 30h0m0-11h0m0 22h0m0-88h0m1 100h0m0 44h0m0-67h0m0 11h0m0-106h0m1 40h0m0 0h0m0-57h0m1 17h0"/>
<path transform="scale(0.25)" stroke="#ff8c1a" stroke-width="5.6" stroke-linecap="square" fill="none" d="M176 915h0m0 5h0m0-3h0m0 8h0m1-8h0m0 8h0m1-11h0m0 7h0m0 0h0m0 2h0m0-1h0m1 10h0m0-4h0m1-2h0m0 5h0m0-14h0m1 5h0m0 2h0m0 5h0m0-10h0m0 2h0m0 4h0m0 5h0m1-12h0m0 14h0m1-2h0m0-7h0m1 0h0m0 7h0m0-2h0m0-6h0m0 3h0m0-5h0m1 5h0m0 1h0m1-8h0m0-4h0m0 14h0m1-5h0m0 8h0m0-7h0m1 4h0m0 0h0m0-5h0m0 12h0m0-4h0m0 13h0m1-19h0m0 4h0m0 2h0m0 2h0m0 2h0m1 11h0m0-11h0m0 3h0m0-2h0m0-12h0m1-4h0m0 7h0m0 3h0m0-1h0m0-6h0m0 14h0m1-8h0m0 5h0m0 5h0m0-5h0m1 0h0m0-9h0m0 4h0m0-4h0m0 7h0m1 1h0m0 6h0m0-7h0m1-10h0m0 8h0m0 6h0m0-3h0m1 1h0m0 9h0m0-5h0m0-6h0m0-8h0m0 23h0m0-12h0m1 17h0m0-10h0m1 2h0m0-14h0m0 11h0m0-1h0m0 10h0m0-19h0m0 18h0m0-8h0m1-6h0m0-10h0m0 17h0m1-8h0m0 1h0m0 10h0m0-2h0m0 0h0m0 3h0m0-11h0m0 3h0m0 3h0m0 1h0m0-6h0m1 1h0m0 5h0m0-3h0m0 0h0m0 6h0m0 2h0m0-9h0m0 9h0m0-1h0m1 2h0m0-5h0m0 2h0m0 7h0m0-14h0m1 2h0m0 4h0m0-2h0m0 6h0m0-7h0m0 8h0m0 0h0m0-16h0m0 19h0m1-1h0m0-8h0m0 3h0m0-1h0m0 11h0m1-12h0m0 5h0m0 8h0m0 4h0m0-26h0m1 18h0m0-14h0m0 17h0m0-5h0m0 10h0m0-4h0m0-19h0m0 16h0m0 8h0m1-17h0m0-1h0m0 7h0m0 4h0m0 1h0m0-1h0m0-11h0m1 4h0m0-5h0m0 11h0m0 11h0m1-23h0m0 17h0m0-23h0m1 14h0m0-12h0m0 11h0m1-2h0m0 0h0m0 9h0m1-7h0m0 1h0m0 7h0m0-12h0m0 11h0m0-11h0m0 7h0m0 1h0m1-2h0m0 5h0m0-6h0m0 10h0m1-8h0m0 23h0m0-7h0m0-18h0m1 11h0m0 2h0m0-8h0m0 7h0m0-27h0m1 30h0m0 8h0m1-26h0m0 9h0m0-8h0m0 14h0m0-9h0m1 4h0m0 10h0m0-8h0m1 1h0m0 1h0m0-10h0m0 3h0m0-1h0m0 6h0m1 9h0m1 0h0m0-5h0m0-1h0m0 15h0m1-15h0m0-8h0m1 10h0m0-6h0m0-3h0m0 5h0m0 14h0m0-4h0m0-10h0m0 0h0m0 11h0m0-7h0m0 6h0m0-7h0m1 11h0m0-19h0m0 17h0m0-6h0m0 0h0m0 0h0m1 8h0m0-8h0m0-12h0m0 21h0m1-4h0m0-7h0m0 21h0m0-25h0m0 2h0m1 4h0m0 0h0m0 4h0m1 4h0m0-9h0m0 11h0m0-9h0m0 5h0m1-4h0m0-6h0m0-3h0m0 9h0m0 10h0m0-14h0m0-5h0m1 27h0m0-20h0m0-9h0m0 7h0m1 11h0m0-2h0m0 0h0m0-1h0m0 8h0m0-9h0m1-18h0m0 12h0m0 0h0m0-6h0m0 27h0m0-20h0m0 9h0m1-19h0m0 24h0m0 5h0m0-29h0m0 19h0m0-9h0m0-1h0m0 17h0m1-11h0m0 19h0m0-8h0m1-6h0m0-14h0m0 14h0m0-3h0m0 2h0m1 10h0m0-24h0m0 7h0m0 2h0m0 17h0m1-2h0m0 5h0m0-22h0m0 11h0m0 6h0m0-10h0m1 3h0m0 2h0m0 2h0m0-6h0m0 0h0m0 11h0m1-4h0m0-4h0m0 0h0m0-18h0m0 38h0m1-5h0m0-17h0m0-11h0m0 12h0m0-7h0m0 7h0m0 0h0m1 6h0m0-16h0m0 19h0m0-2h0m0 5h0m1-1h0m0-4h0m0-10h0m0 4h0m0-8h0m0 5h0m1 13h0m0-13h0m0 5h0m0 6h0m0 4h0m1-11h0m0-4h0m0 2h0m0 19h0m1-7h0m0-19h0m0 17h0m0 5h0m0-8h0m0-7h0m0 10h0m1-16h0m0 14h0m0-9h0m0 14h0m0-9h0m0 0h0m1 17h0m0-28h0m0 2h0m0 18h0m0-21h0m0 38h0m0-8h0m1-11h0m1-2h0m0 14h0m0 5h0m0-22h0m0-19h0m0 22h0m0 3h0m1-4h0m0 3h0m0 13h0m0-14h0m0 5h0m1 2h0m0-5h0m0-3h0m0 6h0m0-18h0m1 17h0m0 0h0m0 2h0m0-12h0m0 15h0m1-5h0m0-5h0m0 23h0m0-6h0m1-15h0m0-2h0m1 4h0m0 6h0m0 5h0m0-26h0m1 10h0m0 10h0m0-2h0m0-4h0m0 0h0m0 2h0m1 5h0m0 6h0m0-13h0m0 32h0m0-22h0m0-16h0m1 15h0m0 14h0m0-20h0m1-5h0m0 6h0m0 23h0m1-23h0m0 9h0m0 15h0m1-11h0m0-22h0m0 13h0m0-1h0m0-10h0m0 3h0m1 3h0m0-7h0m1-2h0m0 11h0m0 1h0m0 5h0m1-7h0m0 6h0m0-6h0m0 7h0m0 12h0m0-13h0m1 16h0m0-26h0m1 3h0m0 10h0m0 25h0m0-16h0m0-4h0m1-6h0m0 3h0m0 10h0m0-12h0m0 5h0m0 0h0m0 0h0m0 14h0m0-8h0m0-8h0m0 1h0m1-2h0m0-8h0m0 2h0m0 12h0m1-24h0m0 45h0m0-28h0m0 13h0m0-17h0m0 18h0m0-23h0m0 15h0m1 7h0m0-10h0m0 17h0m0-4h0m1-23h0m0 8h0m0 5h0m0-6h0m1 23h0m0-6h0m0-25h0m1 22h0m0-10h0m0-9h0m0 20h0m0 13h0m0-14h0m0 0h0m0-1h0m1 0h0m0-5h0m0 4h0m1-11h0m0 9h0m0-5h0m2-10h0m0 3h0m0 6h0m0 0h0m1 5h0m0 22h0m0-25h0m0-2h0m0 17h0m0 4h0m0-19h0m0 24h0m0-30h0m0 7h0m1 10h0m0-19h0m0-8h0m0 13h0m0 11h0m0 1h0m0-5h0m1 4h0m0 4h0m0-10h0m0 6h0m1 16h0m0-27h0m0-4h0m0 13h0m0 0h0m1 17h0m0-24h0m0 0h0m0-3h0m0 5h0m0 1h0m1-2h0m0 3h0m0 5h0m0 4h0m0 11h0m0-23h0m0 8h0m0-4h0m1 4h0m0 10h0m0-14h0m0-4h0m0 30h0m0-18h0m1-24h0m0 15h0m0-2h0m0-6h0m0 30h0m0-16h0m1-6h0m0 17h0m1-12h0m0 2h0m0-6h0m0-6h0m0 1h0m1 25h0m0 2h0m0-26h0m0-1h0m1-1h0m0 12h0m0-2h0m0 10h0m0 6h0m1-12h0m0-5h0m0 27h0m0-21h0m0 15h0m0-15h0m0 8h0m1-12h0m0 5h0m0 5h0m0 0h0m0-18h0m0-9h0m0 30h0m0-11h0m0 7h0m1-4h0m0 16h0m0-13h0m0-3h0m0-11h0m0 24h0m1-3h0m0-10h0m0-21h0m0 33h0m1 0h0m1-12h0m0-1h0m0-5h0m0-5h0m0 13h0m1 15h0m0-15h0m0-2h0m0 14h0m1-5h0m0-14h0m0 23h0m0-18h0m0 13h0m1-12h0m0 14h0m1 25h0m0-28h0m0 3h0m0-20h0m1 11h0m0 3h0m0 4h0m0-8h0m1 31h0m0-12h0m0-22h0m0 5h0m0 5h0m1 10h0m0 4h0m1-12h0m0-7h0m0-1h0m0 0h0m1 8h0m0-13h0m0 24h0m1-4h0m0 18h0m0-26h0m0-3h0m1 12h0m0 14h0m0-11h0m0-15h0m1 15h0m0-23h0m0 16h0m1-21h0m0 16h0m0 16h0m0 9h0m0-13h0m1 1h0m0-12h0m0 9h0m0-14h0m1 1h0m0 3h0m1 25h0m0-19h0m0-9h0m0 12h0m0-5h0m1 10h0m0-8h0m1 5h0m0-12h0m1 25h0m0-8h0m1-16h0m0 0h0m0 21h0m0-3h0m1 6h0m0-21h0m0 8h0m0 6h0m1-3h0m0 7h0m0-13h0m0-1h0m0 0h0m1-6h0m0 19h0m0-25h0m0 36h0m0-27h0m0-1h0m1 13h0m0-4h0m0 2h0m0 0h0m0 3h0m0-8h0m0-9h0m1-9h0m0 27h0m0-23h0m0 1h0m0 24h0m0 1h0m0 5h0m1-15h0m1 35h0m0-22h0m1 2h0m0-15h0m0-14h0m0 6h0m0 15h0m0 10h0m0-3h0m1-3h0m0 0h0m0-4h0m0-2h0m1 8h0m0-12h0m0 9h0m0-10h0m0 0h0m0-19h0m1 14h0m0 50h0m0-44h0m0-1h0m0-4h0m1 19h0m0-4h0m1 0h0m0-2h0m1-13h0m0 2h0m0 7h0m0 10h0m0 5h0m1-1h0m0-8h0m0 10h0m0-13h0m0-6h0m0 20h0m1-32h0m0-1h0m0 24h0m0-7h0m1 20h0m0-19h0m0 2h0m0 0h0m0-2h0m0 27h0m1-25h0m1-7h0m0 20h0m0-12h0m0-3h0m0-10h0m0 3h0m0 16h0m0-5h0m1-10h0m1 28h0m0-29h0m0 29h0m1-35h0m1 23h0m0 0h0m0 0h0m1 15h0m0 3h0m0-8h0m1-7h0m0 10h0m0-5h0m0-10h0m0 13h0m1-27h0m0 28h0m0-24h0m0 7h0m0-10h0m0 12h0m0 3h0m1-12h0m0 11h0m0 25h0m1-24h0m0 4h0m0 10h0m0-8h0m1 2h0m0-19h0m0 15h0m1-16h0m0 30h0m0-12h0m1-14h0m0 13h0m0-22h0m0 19h0m0-9h0m1 1h0m0 17h0m0-8h0m0-5h0m0 3h0m0 24h0m1-33h0m0 19h0m0-5h0m1 27h0m0-39h0m1 17h0m0 7h0m0-13h0m0 3h0m1-9h0m0 9h0m0 6h0m0 4h0m0 14h0m1-19h0m0-10h0m0-18h0m1 29h0m0-4h0m0 0h0m1-11h0m0 14h0m0-13h0m1 10h0m0 11h0m1-4h0m0 2h0m0-9h0m0 2h0m1-12h0m0 18h0m0-9h0m0 2h0m1 21h0m0-22h0m0-3h0m0-7h0m1-6h0m0 35h0m1-6h0m1-18h0m0 34h0m0-16h0m0-9h0m0-5h0m0 7h0m1 18h0m0-23h0m1-5h0m1 33h0m0-31h0m1 3h0m0 26h0m1 2h0m0-39h0m0 15h0m0 34h0m1-16h0m0-33h0m0 17h0m0-16h0m0-10h0m0 49h0m0-18h0m0 9h0m1-31h0m0 17h0m0-3h0m1 3h0m0 8h0m0-10h0m1 16h0m0 13h0m0-23h0m0 5h0m0-7h0m0 10h0m0-4h0m1 8h0m0 7h0m0-16h0m0 11h0m1 2h0m0-4h0m1-12h0m0 4h0m0-9h0m0 21h0m0-9h0m0 9h0m1 0h0m0-11h0m0-22h0m1 21h0m0 3h0m0-5h0m0 7h0m1 16h0m0-20h0m0 14h0m1-7h0m0-21h0m0 26h0m0-13h0m0 1h0m1 21h0m0 3h0m0-42h0m1 17h0m0 11h0m0-5h0m0-10h0m0 9h0m1-7h0m0 12h0m0-11h0m0-9h0m1 16h0m0 13h0m0-17h0m0 14h0m0-18h0m0 11h0m0-9h0m0-2h0m0 11h0m1-16h0m0 14h0m0-7h0m0 20h0m0 4h0m1-2h0m0-9h0m0-8h0m0 7h0m1-9h0m0 36h0m0-6h0m1-15h0m0-11h0m0 6h0m0-19h0m0 35h0m0-43h0m0 20h0m0 25h0m0-10h0m1-17h0m0 6h0m0 14h0m0-27h0m0 17h0m1-2h0m0-9h0m0-3h0m0 4h0m1 17h0m0-3h0m0-35h0m0 26h0m0 2h0m1 1h0m0 9h0m0 23h0m0-32h0m0-13h0m0 7h0m1 20h0m0-26h0m0 7h0m1 12h0m0-16h0m0 17h0m0-10h0m1 10h0m0-8h0m0 9h0m0-10h0m0-6h0m1 20h0m0-6h0m0-7h0m0-15h0m1 5h0m0 18h0m0-20h0m0 9h0m0 6h0m0 24h0m2-22h0m1 2h0m0 0h0m1-25h0m0 53h0m0-42h0m0 5h0m1 20h0m0-10h0m1-7h0m0 12h0m1-5h0m0 5h0m0-17h0m1 13h0m0 48h0m0-55h0m0 1h0m0-9h0m1 16h0m0 3h0m0 17h0m0-25h0m0 10h0m0-1h0m1 2h0m0-7h0m0-5h0m0 8h0m1 7h0m0 0h0m0-11h0m0 5h0m1 12h0m0-15h0m0 41h0m0-48h0m0 15h0m1-1h0m0 1h0m0 8h0m0-17h0m0-7h0m1 27h0m0-20h0m0 17h0m0-2h0m0-11h0m0-6h0m0-6h0m1-8h0m0 26h0m0-7h0m0-6h0m0-8h0m0 22h0m0-19h0m1 25h0m0-29h0m0 31h0m0-10h0m0 7h0m0-10h0m0 26h0m1-24h0m0-9h0m0-22h0m0 34h0m0-16h0m0-16h0m1 36h0m1 0h0m0-14h0m0-9h0m0 24h0m0-5h0m0 22h0m1 3h0m0-13h0m1-14h0m0-4h0m0 14h0m1 7h0m0-10h0m0-22h0m0 30h0m0-24h0m0 6h0m1 3h0m0 3h0m1-25h0m0 33h0m0 0h0m0-16h0m0 4h0m1 3h0m0 7h0m0 2h0m0 10h0m0-26h0m0 6h0m1 14h0m0-13h0m0 2h0m0-22h0m1-10h0m0 45h0m0 0h0m1-1h0m0 0h0m0-6h0m0 1h0m0-20h0m1 16h0m0 5h0m0-5h0m1-6h0m0-7h0m0-5h0m0 47h0m1-37h0m0 26h0m0 6h0m0-11h0m1-23h0m0 20h0m1-1h0m0 7h0m0-17h0m0-3h0m0 28h0m0-17h0m1-6h0m0-12h0m0-21h0m0 55h0m1 8h0m0-53h0m0 35h0m0-11h0m0-9h0m1 4h0m0 13h0m0 14h0m0-28h0m0-27h0m0 39h0m0-5h0m1 3h0m0 8h0m0-7h0m0 3h0m0-21h0m0 29h0m1-30h0m1 28h0m0-14h0m0 11h0m1-13h0m1-1h0m0-11h0m0 29h0m0-6h0m1-3h0m0-3h0m0 5h0m0 10h0m0-5h0m1 7h0m0 4h0m1-6h0m0-11h0m0-7h0m0 0h0m0 25h0m0-13h0m0 8h0m0-4h0m1-30h0m0 9h0m0 12h0m0-16h0m0 40h0m1-31h0m0-5h0m0 11h0m0 19h0m1 2h0m0-41h0m0 47h0m1-14h0m0-15h0m0 10h0m0-6h0m1 6h0m0-1h0m0-22h0m1 30h0m0-1h0m0 4h0m0-16h0m0 1h0m0-5h0m0-1h0m1 19h0m0 8h0m0-4h0m0 8h0m0-20h0m1-20h0m0 7h0m0 21h0m1-10h0m0-1h0m0-3h0m0 23h0m0-4h0m0-9h0m1 17h0m0-9h0m0 12h0m0-27h0m1-22h0m0 36h0m0 17h0m0-42h0m0 18h0m1 9h0m0-32h0m0 43h0m1-17h0m0 16h0m0-34h0m0 10h0m0 7h0m1-1h0m0-3h0m0 21h0m1-11h0m0 3h0m0-21h0m0 4h0m1-10h0m0 11h0m1 14h0m0 15h0m0-16h0m0-6h0m0-11h0m0 9h0m1 36h0m0-25h0m0-24h0m0 36h0m1-20h0m0 3h0m0 5h0m0-25h0m0 21h0m0-19h0m0 12h0m1-4h0m0-21h0m0 23h0m0-25h0m0 30h0m0 4h0m0-7h0m1-3h0m0 36h0m0-52h0m0 19h0m0 27h0m0-3h0m1-23h0m0-11h0m0 1h0m0 37h0m1-35h0m0 14h0m0-21h0m0 30h0m0 8h0m0-39h0m0 40h0m0-34h0m1 66h0m0-36h0m1-4h0m0-19h0m0 49h0m0-32h0m0 4h0m2-15h0m0 2h0m0 3h0m0 0h0m0 0h0m0 21h0m1-7h0m0 7h0m0-24h0m1 34h0m0-36h0m0 8h0m0-9h0m0-22h0m0 38h0m1 15h0m0-23h0m1-17h0m0 31h0m0-13h0m0-14h0m1 6h0m0-9h0m0-12h0m0 33h0m1 5h0m0-24h0m0 4h0m0 3h0m1-15h0m0 34h0m0 10h0m0-13h0m0 10h0m0-13h0m0 10h0m1-6h0m0 6h0m0-24h0m0 17h0m0 10h0m0-6h0m1-9h0m1-9h0m1 52h0m0-56h0m0 14h0m0-9h0m1-7h0m0 23h0m0-12h0m1 0h0m0-3h0m0-29h0m0 38h0m1-9h0m1 0h0m0 17h0m0-2h0m0-15h0m0 29h0m1 0h0m0-25h0m0-18h0m0 23h0m0 0h0m0 2h0m0 17h0m0-23h0m0 21h0m0-21h0m1 3h0m0-9h0m0 10h0m0-10h0m0 13h0m0 8h0m0-28h0m0 11h0m0 10h0m1 7h0m0-1h0m0-14h0m0 30h0m0-28h0m0 19h0m0-4h0m1-14h0m0-18h0m1 18h0m0 27h0m0-37h0m0 34h0m0-23h0m1-10h0m0 27h0m1-10h0m0-15h0m0 4h0m0-5h0m0-2h0m0 11h0m1 11h0m0 8h0m0-30h0m0 30h0m0-13h0m1 28h0m0-11h0m1 2h0m0-3h0m0-6h0m0 4h0m0 3h0m0-16h0m0 10h0m0-3h0m0 48h0m1-22h0m0-14h0m0-22h0m0 9h0m1-28h0m0 41h0m0 0h0m1-52h0m0 45h0m0 1h0m1 2h0m0 14h0m0-20h0m1-8h0m0-10h0m0-8h0m0 41h0m1-29h0m0 8h0m1 4h0m0-23h0m0 17h0m0 14h0m0-44h0m0 52h0m1-38h0m1 42h0m1-40h0m0 39h0m0-20h0m0 15h0m0-3h0m0-2h0m0 17h0m0-4h0m1-11h0m0-18h0m0 3h0m1 4h0m1 9h0m0-10h0m0 18h0m0 31h0m1-56h0m0-2h0m1 30h0m0-28h0m0 19h0m0-33h0m0 11h0m0 30h0m0-27h0m0 25h0m1-47h0m0 33h0m0 6h0m0 45h0m0-32h0m2 0h0m1-13h0m0-21h0m0 29h0m0-15h0m1 10h0m0-6h0m0-3h0m0-14h0m0-17h0m0 50h0m1-46h0m0 18h0m0 2h0m0 7h0m0 5h0m0 14h0m0-8h0m1 12h0m0-15h0m0 31h0m0-45h0m0 2h0m2-9h0m0 22h0m0 8h0m0-9h0m1 1h0m0-4h0m0 12h0m0-14h0m0 10h0m1-23h0m0 6h0m0-2h0m0 36h0m0-22h0m0 11h0m0 0h0m0-19h0m1 2h0m0-2h0m0-3h0m0 31h0m0-15h0m1 3h0m0-23h0m0 73h0m0-80h0m0 25h0m0-38h0m0 10h0m1 72h0m0-34h0m0-24h0m0 33h0m1-36h0m0 8h0m0 15h0m0-14h0m0 8h0m1 22h0m0-31h0m0 15h0m0 6h0m1-21h0m0-6h0m0 7h0m0 8h0m1-3h0m0 11h0m1-20h0m0 10h0m0 26h0m0-2h0m1-5h0m0 3h0m0-1h0m0-2h0m0-26h0m0 9h0m0-6h0m1 12h0m0-20h0m0 22h0m0 2h0m0-31h0m1-1h0m0-8h0m0 45h0m0 27h0m0-32h0m1-13h0m0 11h0m0-6h0m0-20h0m0 6h0m0 20h0m0-17h0m1 45h0m0-34h0m1 18h0m0-8h0m0-51h0m1 37h0m0 2h0m1 22h0m0-20h0m1 28h0m0-20h0m0 0h0m0 14h0m0 18h0m0-48h0m1 44h0m0-63h0m0 19h0m0-8h0m0 12h0m0-6h0m0 2h0m1 3h0m0 6h0m0 43h0m0-49h0m0 39h0m1-17h0m0-21h0m1 7h0m0 0h0m0 8h0m1 13h0m1-37h0m0 41h0m0-20h0m1 3h0m0 0h0m0 2h0m0-10h0m1 14h0m0 29h0m0-54h0m0-2h0m0 56h0m0-12h0m0-34h0m0 38h0m1-16h0m0-2h0m0-14h0m0 2h0m1-4h0m1 18h0m0-19h0m0 8h0m0-1h0m0 28h0m1-35h0m0 0h0m0 8h0m0 9h0m1-17h0m0 0h0m0-31h0m0 39h0m1 0h0m0-10h0m0-9h0m0 30h0m0-2h0m0 22h0m0-29h0m0 13h0m1-13h0m0 9h0m1 24h0m0-56h0m0 30h0m0-3h0m0 32h0m1 0h0m0-34h0m0-4h0m0-22h0m0 29h0m0 20h0m0-4h0m1-6h0m0 12h0m0-30h0m1-23h0m0 53h0m1-37h0m0 3h0m0 43h0m0-38h0m1 27h0m0-21h0m2-11h0m0 7h0m0 45h0m0-24h0m0 0h0m1-24h0m0 14h0m0-7h0m0-21h0m0 15h0m0 4h0m0 34h0m0 2h0m0-55h0m1 12h0m0-2h0m0 0h0m0 12h0m0 2h0m1-14h0m0-2h0m1 16h0m0 14h0m0 8h0m1 18h0m1-52h0m0 34h0m0-6h0m1 13h0m0-31h0m0 33h0m0-9h0m0-18h0m0-9h0m0-5h0m0 10h0m1-5h0m0 0h0m0 25h0m0-12h0m0 4h0m0-12h0m0 22h0m1-6h0m0-38h0m0 24h0m0 22h0m0-8h0m0-8h0m1 10h0m0-28h0m0-4h0m0 14h0m0 4h0m0 31h0m0-15h0m1-23h0m0-13h0m0 9h0m1 76h0m0-76h0m0 9h0m0 22h0m1 5h0m0 4h0m0-53h0m0 32h0m0 6h0m1 20h0m0 15h0m0-41h0m1-21h0m0 6h0m0 27h0m0-2h0m0-55h0m0 66h0m0-23h0m1 2h0m0-28h0m1-6h0m0 38h0m0-12h0m0 12h0m0-8h0m0 12h0m0 20h0m0-24h0m0 31h0m0-39h0m0 21h0m0-41h0m1 38h0m0-14h0m0-19h0m0 17h0m0-2h0m0 18h0m0-38h0m1 34h0m0 16h0m0 15h0m0-20h0m0-7h0m1-31h0m0 0h0m0 7h0m0 16h0m0 8h0m1-42h0m0-1h0m0 14h0m0 11h0m0-6h0m0 53h0m0-60h0m1-2h0m0 17h0m0-2h0m1-13h0m0 43h0m0-48h0m0 30h0m1 9h0m0 6h0m0-55h0m1 36h0m0 15h0m0-5h0m0-14h0m1-22h0m0 36h0m0 0h0m1 7h0m0-17h0m0 45h0m1-41h0m0-12h0m0-22h0m1 7h0m0 38h0m1-5h0m0-4h0m0 4h0m0 9h0m0 5h0m0 10h0m0-30h0m0 0h0m0-22h0m1 14h0m0 21h0m0-58h0m0 35h0m1 45h0m0-47h0m0 47h0m1-17h0m0-14h0m0 14h0m0 17h0m1-10h0m0-41h0m0 4h0m0-27h0m0 19h0m0 10h0m0 2h0m0-2h0m0 53h0m0-18h0m0-10h0m1 8h0m0-14h0m0-19h0m1-13h0m0 43h0m0 0h0m0-24h0m1 10h0m0-36h0m1 34h0m0 60h0m0-49h0m0-49h0m0 26h0m1-21h0m0 29h0m0-4h0m0 2h0m0 27h0m0-50h0m0-4h0m0 29h0m1-10h0m0 40h0m0-59h0m0 6h0m0 46h0m1-23h0m0 43h0m0-20h0m0-27h0m0 15h0m0-5h0m1 24h0m0 11h0m0 0h0m0-26h0m0-25h0m1-8h0m0 53h0m0-53h0m0 6h0m0 37h0m0 8h0m1-33h0m0 35h0m0-41h0m0 12h0m1 24h0m0-36h0m0 29h0m0-23h0m1 20h0m0-30h0m0 45h0m0-20h0m1-29h0m0-25h0m0 25h0m0 4h0m1 30h0m0-16h0m1-24h0m0 94h0m0-78h0m0 6h0m0-8h0m1 80h0m0-70h0m0-24h0m0 20h0m0 52h0m0-50h0m1 25h0m0-4h0m0-10h0m0 5h0m0 28h0m1-42h0m0-10h0m0 47h0m0-45h0m1 4h0m0 25h0m0-25h0m0-14h0m1 44h0m0-19h0m0-9h0m1-14h0m0 30h0m0-30h0m0-2h0m0 25h0m1-13h0m0 60h0m0-47h0m0 0h0m0-11h0m0 27h0m0 0h0m0-18h0m1 9h0m0-5h0m1-25h0m0 21h0m0-23h0m0 34h0m0 29h0m1-55h0m0 55h0m0-31h0m0-24h0m0 41h0m1 8h0m0-70h0m0 40h0m1 33h0m0-21h0m0-12h0m0 22h0m1-26h0m0 46h0m0-28h0m0-16h0m0 32h0m0-59h0m0 29h0m1-7h0m0 40h0m0-62h0m0 12h0m1 0h0m0 17h0m0 12h0m0-21h0m0 31h0m1-2h0m1-22h0m0 41h0m0-22h0m0-26h0m0-8h0m0 27h0m0 15h0m0-32h0m0 17h0m1-3h0m0-7h0m0-15h0m1 60h0m0-6h0m0-17h0m0 14h0m0-26h0m0-29h0m0 39h0m1-31h0m0 56h0m0 16h0m0-90h0m0 29h0m1-7h0m0-4h0m0 7h0m1 55h0m0-37h0m0 3h0m0-5h0m0-5h0m0 15h0m0-22h0m1 22h0m0-22h0m0-4h0m0 4h0m1 17h0m0-50h0m0 50h0m0-19h0m0 60h0m1-75h0m1 34h0m0 22h0m0 9h0m0-43h0m0 23h0m0-37h0m1 16h0m0 26h0m0-54h0m0 38h0m0-24h0m0 19h0m1-47h0m0 45h0m0-23h0m0 2h0m0 0h0m0 0h0m0 7h0m0 4h0m1-27h0m0 16h0m0 18h0m0 65h0m0-42h0m0-5h0m1 17h0m0-46h0m0 69h0m0-114h0m0 91h0m0-42h0m1-4h0m0 29h0m0 26h0m0-29h0m0 43h0m0-40h0m0-29h0m1 40h0m0-34h0m0 8h0m0 4h0m0 11h0m0-20h0m1 20h0m0 8h0m0-19h0m0-29h0m1 43h0m0 11h0m0-72h0m1 22h0m0-6h0m0 45h0m0 5h0m0 21h0m0-44h0m1 2h0m0 2h0m0-16h0m0 7h0m0 17h0m0-5h0m1-26h0m0 57h0m0-18h0m0-32h0m0 53h0m0-39h0m1 13h0m1 14h0m0-17h0m0-15h0m0 15h0m1-12h0m0-31h0m0 51h0m0-13h0m0-36h0m0 52h0m0-26h0m0 7h0m0 11h0m1-34h0m0 0h0m0 31h0m0-24h0m1 44h0m0-14h0m0-30h0m0 27h0m1-11h0m0-9h0m0-3h0m0 8h0m0 44h0m0-52h0m0 37h0m1-79h0m0 76h0m0-55h0m0 58h0m0-66h0m0 44h0m0 66h0m1-29h0m0-52h0m1-6h0m0 4h0m0 30h0m1 45h0m0-65h0m0-17h0m0 5h0m1 60h0m0-33h0m0-5h0m1 28h0m1-20h0m0-39h0m0 41h0m0 21h0m0-29h0m0 26h0m1-48h0m1 20h0m0 28h0m0-31h0m0 13h0m0-23h0m0 88h0m0-67h0m1 23h0m0-37h0m0 25h0m0-39h0m1-11h0m0 59h0m0-34h0m0 25h0m0-9h0m1 38h0m0 4h0m0 23h0m0-83h0m0 53h0m0-55h0m0 29h0m0-39h0m1 22h0m0 43h0m0 0h0m1-14h0m1-39h0m0 27h0m1-9h0m0-34h0m0 9h0m0 7h0m0 36h0m0-12h0m0-8h0m1 23h0m0 0h0m0-34h0m0 16h0m0-58h0m0 47h0m1 0h0m0-10h0m1 2h0m0 44h0m0 3h0m0-16h0m0-3h0m2-30h0m0 30h0m0-3h0m0-46h0m1 21h0m0 3h0m0 19h0m0 36h0m1-4h0m0-29h0m0 33h0m1-33h0m0 6h0m0-9h0m0-34h0m1 23h0m0-38h0m0 18h0m0 53h0m0 10h0m0-20h0m0-26h0m0 8h0m0-8h0m1 26h0m0-20h0m0 20h0m0-73h0m0 116h0m1-37h0m0-49h0m0 67h0m0-55h0m0 0h0m0 5h0m0 11h0m0-52h0m0 106h0m1-12h0m0-53h0m0 32h0m0 0h0m1-15h0m0 22h0m0 22h0m0-53h0m0 57h0m0-33h0m0-34h0m0 10h0m1 21h0m0 7h0m0-28h0m0 9h0m0-43h0m0 62h0m1-41h0m0 78h0m0 23h0m0-76h0m1-25h0m0 16h0m1-21h0m0-10h0m0 31h0m0-16h0m0-15h0m0 49h0m0-39h0m1 56h0m0-43h0m0 17h0m0 6h0m1-38h0m0 15h0m0-44h0m1 102h0m0-61h0m0-24h0m0 81h0m0-37h0m0-22h0m0 0h0m1 16h0m0 9h0m0-15h0m0-53h0m1 65h0m0-6h0m0 9h0m0 9h0m0 46h0m0-72h0m1 14h0m0 19h0m0-7h0m0-65h0m0 69h0m1 3h0m0-47h0m0 34h0m0 17h0m1-51h0m0 28h0m0-30h0m0 27h0m0 3h0m0-25h0m0 58h0m0-73h0m0 49h0m0 17h0m1 0h0m0 23h0m0-58h0m0-21h0m0 53h0m1 3h0m0 4h0m0-62h0m0 2h0m0-10h0m0 34h0m1-3h0m0 35h0m0-58h0m0 62h0m0 51h0m1-69h0m0-6h0m0 3h0m1 10h0m0 18h0m0 16h0m0 14h0m0-79h0m0 28h0m0 37h0m0-27h0m0 27h0m1-70h0m0 8h0m0-13h0m0 41h0m1-13h0m0 20h0m0-20h0m0-55h0m0 27h0m0-8h0m1 8h0m0 22h0m0 6h0m0-18h0m1 45h0m0 25h0m0-5h0m1-53h0m1 6h0m0-57h0m0 88h0m0 21h0m0-9h0m1-19h0m0-18h0m0 64h0m0-43h0m1-14h0m0 97h0m1-24h0m0-73h0m0-19h0m0-59h0m0 59h0m0-44h0m1 63h0m0-3h0m0-25h0m0 18h0m0 7h0m0-38h0m0 22h0m1 26h0m0-26h0m0 67h0m0-30h0m0-92h0m0 52h0m0-19h0m1-6h0m0 28h0m0 53h0m0-16h0m0-37h0m1-14h0m0 67h0m0-30h0m0-7h0m0 14h0m1 15h0m0-39h0m0 13h0m0-39h0m0 87h0m0 0h0m1-51h0m0 42h0m0-80h0m0 41h0m0-19h0m0-9h0m0 21h0m0-32h0m1 29h0m0 7h0m0-13h0m0 42h0m0-39h0m1-12h0m0-11h0m0 8h0m1 62h0m0-44h0m1 28h0m0 12h0m0-49h0m0 3h0m0 46h0m0-46h0m1 27h0m0-4h0m0-14h0m0-3h0m1-9h0m0-28h0m0 131h0m0-77h0m1-51h0m0 8h0m0 88h0m0-74h0m0 44h0m1-61h0m0 6h0m1 40h0m0-32h0m0 29h0m0 26h0m0-71h0m0 98h0m0-27h0m1-43h0m0 6h0m0-15h0m1 139h0m0-145h0m0 58h0m0-49h0m0 71h0m0-55h0m1 42h0m0-35h0m0 39h0m0-32h0m0-11h0m0 57h0m0-39h0m0-21h0m0-10h0m0 6h0m1-24h0m0-16h0m0 11h0m0 66h0m1 38h0m0-87h0m0 45h0m0-39h0m0 35h0m0-53h0m0 28h0m0 14h0m1-27h0m0 23h0m0-56h0m0 139h0m0-47h0m0-25h0m0-40h0m1 56h0m0-34h0m0-36h0m0 14h0m1 0h0m0 84h0m0-69h0m1 14h0m0-10h0m0-7h0m1 53h0m0-39h0m0-63h0m0 93h0m1 56h0m0-93h0m0 21h0m0-4h0m0 4h0m0-34h0m1 38h0m0 0h0m0 26h0m0-26h0m0-35h0m1-15h0m0 15h0m0 13h0m0-19h0m0-14h0m0 85h0m0-93h0m0 48h0m0-20h0m1-6h0m0 9h0m1 17h0m0 15h0m0-29h0m0 41h0m1-27h0m0 11h0m0-18h0m0-31h0m0-13h0m0 122h0m1-100h0m1-17h0m0 39h0m0 7h0m0 19h0m0-62h0m0-15h0m1 48h0m0 3h0m0 4h0m0 3h0m1 23h0m0 0h0m0-58h0m0 28h0m0 0h0m0-16h0m0 3h0m1 6h0m0 59h0m0-80h0m0 80h0m0-48h0m0-20h0m0 27h0m1-27h0m0 16h0m0-10h0m0 17h0m0-17h0m0 36h0m0-19h0m1-3h0m0-4h0m0 52h0m0-30h0m0-18h0m1 18h0m0-11h0m0 11h0m0-4h0m0-34h0m1 55h0m0 39h0m1-48h0m0-30h0m1 0h0m0 68h0m0 42h0m0-103h0m1 7h0m0-24h0m0 72h0m0 0h0m0-78h0m0 89h0m0-76h0m1-46h0m0 56h0m0 55h0m1-75h0m0 35h0m0-8h0m0 20h0m1-8h0m0-12h0m1-10h0m0 18h0m0 8h0m0 4h0m0 23h0m1 5h0m0-62h0m0 0h0m0-28h0m0 62h0m0-47h0m0 47h0m0 5h0m1-21h0m0 25h0m0 30h0m0 17h0m0-33h0m0-35h0m1 12h0m0-12h0m0 4h0m0-8h0m0-14h0m0 48h0m2-13h0m0-39h0m0 14h0m0-21h0m1 7h0m0-44h0m0 28h0m0 84h0m0-20h0m0 20h0m1-75h0m0 14h0m0-10h0m0-25h0m1 25h0m0 3h0m0-10h0m0-9h0m0 58h0m1-55h0m0 16h0m0-7h0m0 11h0m0-43h0m1 43h0m0-11h0m0 59h0m1-74h0m0 61h0m0-75h0m0 40h0m1 18h0m0-11h0m0-4h0m0 7h0m0-27h0m1 47h0m0 28h0m0-40h0m0 62h0m1-66h0m0 30h0m0-9h0m1 13h0m0-62h0m0 14h0m0 58h0m0-5h0m0-14h0m0 0h0m1-32h0m0-55h0m0 51h0m0 19h0m0 13h0m0 4h0m0 14h0m1-46h0m0 0h0m1 15h0m0-19h0m0 27h0m1 9h0m0 41h0m0-80h0m0 64h0m1-104h0m0 88h0m0 32h0m0-41h0m0 14h0m1-35h0m0-15h0m0-40h0m0 90h0m1-14h0m0 19h0m0-36h0m0 26h0m0-13h0m1-49h0m0-6h0m0 55h0m1 23h0m0-78h0m0 13h0m0 76h0m0-59h0m1 12h0m0 4h0m0-12h0m1-11h0m0 41h0m0-9h0m0 9h0m0 49h0m0-75h0m1 46h0m0-81h0m0 65h0m0-22h0m1-4h0m0 17h0m0-17h0m0 0h0m0-4h0m0 62h0m0-45h0m1 23h0m0-36h0m0-22h0m0-45h0m0 10h0m0 53h0m0 8h0m1-16h0m0 89h0m0-35h0m0-29h0m1-21h0m0 25h0m0 19h0m1 6h0m0-50h0m1 44h0m0-28h0m0-16h0m0 72h0m1-42h0m0-9h0m0 4h0m1-25h0m0-18h0m1 57h0m0 5h0m0-55h0m0-48h0m0 89h0m0 30h0m1-60h0m0 34h0m0-52h0m1 7h0m0 83h0m0 0h0m0-47h0m0-25h0m1 50h0m0-57h0m0 28h0m0 9h0m0-5h0m0 89h0m1-59h0m0 86h0m0-129h0m1 0h0m0 0h0m0-66h0m1 114h0m0 0h0m0-64h0m0 25h0m0-9h0m0 0h0m0 9h0m1 18h0m0-27h0m0 80h0m0-53h0m0-50h0m1 61h0m0-87h0m0 71h0m0 16h0m1-11h0m0-43h0m0 0h0m1 111h0m0-22h0m0-64h0m1-35h0m0 18h0m0 30h0m0 51h0m0-41h0m1-62h0m0 52h0m0-68h0m0 113h0m0-67h0m0 54h0m0-73h0m1-11h0m0-25h0m0 87h0m1-19h0m0-25h0m0 16h0m0-20h0m0 29h0m0 30h0m0 30h0m0-55h0m1-37h0m0 41h0m1-13h0m0-9h0m0-33h0m0 71h0m1 0h0m0 10h0m0-44h0m0 34h0m0 29h0m0-54h0m0-17h0m0 42h0m1-38h0m0-16h0m1 0h0m0 4h0m0 12h0m0 0h0m0 18h0m1 9h0m0-43h0m0 96h0m0 0h0m0-32h0m1-67h0m0 32h0m0 19h0m0-10h0m0 26h0m0 12h0m0-51h0m0-9h0m1 67h0m0-24h0m0-34h0m0 64h0m0-46h0m1-53h0m0 44h0m0-30h0m0 8h0m0 26h0m0 0h0m1-41h0m0 57h0m0-93h0m0 93h0m2-54h0m0-7h0m0 19h0m1 31h0m0 92h0m0-152h0m0 93h0m1-38h0m0-26h0m1 36h0m0 11h0m0-21h0m0 10h0m1-32h0m0 48h0m0-10h0m0-38h0m0 13h0m0-25h0m0 92h0m0-84h0m0 8h0m1 5h0m0 51h0m0 42h0m1-59h0m0-43h0m0-19h0m0-7h0m1 30h0m0 44h0m0-48h0m0-37h0m1 85h0m0-52h0m0-15h0m0 28h0m0-5h0m0 23h0m1-73h0m0 78h0m0-14h0m0-61h0m0 70h0m0 84h0m0-174h0m1 85h0m0 65h0m0-49h0m0-34h0m1 14h0m0 62h0m0-71h0m0-9h0m0-23h0m0 15h0m0-35h0m1 61h0m1 42h0m0-33h0m0-39h0m0 173h0m0-139h0m1-26h0m1-42h0m0 73h0m0-35h0m1 12h0m0 18h0m0-22h0m1 27h0m0-5h0m0 0h0m0 38h0m1-47h0m0 25h0m0 64h0m0-42h0m0-38h0m1 16h0m0-25h0m1-39h0m0 22h0m0 84h0m0-20h0m0-51h0m0 9h0m1 69h0m0-91h0m1 13h0m0 9h0m0-14h0m0 63h0m0 6h0m0-69h0m0-4h0m0 32h0m1 22h0m0-97h0m0 70h0m0-53h0m0 44h0m0 55h0m0 22h0m1-57h0m0 10h0m0 0h0m0 0h0m0-52h0m1 64h0m0-72h0m0 79h0m1 44h0m0 8h0m0-81h0m0-54h0m0 38h0m0 5h0m0 102h0m0-69h0m0-12h0m0 47h0m1-68h0m0-27h0m1 22h0m0-45h0m0 50h0m0 53h0m0-110h0m0 97h0m0-35h0m1-44h0m0 66h0m0-77h0m0 125h0m0-54h0m1-5h0m0 24h0m0-71h0m0 36h0m0 6h0m0 22h0m1-17h0m0 96h0m0-121h0m0 42h0m0-12h0m1-48h0m0 73h0m0-19h0m0-70h0m1 54h0m0-16h0m0-22h0m0-16h0m0 16h0m0 18h0m0-9h0m0 120h0m0-125h0m1 23h0m0 5h0m0 41h0m0-69h0m0 39h0m0 106h0m0-186h0m1 97h0m0 42h0m0-54h0m1-16h0m0 22h0m0-66h0m0 21h0m1 4h0m0 60h0m1 29h0m0-98h0m0-23h0m0 32h0m0-9h0m0 63h0m1-29h0m0-81h0m0 52h0m1 39h0m0-5h0m0-11h0m0 11h0m0 37h0m1-62h0m0 55h0m0-85h0m0 55h0m0-39h0m0-12h0m0 51h0m0-39h0m1 9h0m0 67h0m0-32h0m0-35h0m0 60h0m0-60h0m1 25h0m0 42h0m0 7h0m0 24h0m1-44h0m0 28h0m0-15h0m0-71h0m0-5h0m1-4h0m0 73h0m0 14h0m0-39h0m0-26h0m0-26h0m0 71h0m0-7h0m1-6h0m0-27h0m0 21h0m1 12h0m0-51h0m0 34h0m1 24h0m0-29h0m0-20h0m0 121h0m0-79h0m0-76h0m0 25h0m0 102h0m0-44h0m0-35h0m1 28h0m0-60h0m1 13h0m0-17h0m0 52h0m1 25h0m0 38h0m0-134h0m0-3h0m0 99h0m1 46h0m1-92h0m0 53h0m0 31h0m0-93h0m0-41h0m0 96h0m1-19h0m0-32h0m0 45h0m0-49h0m0-9h0m0-5h0m0 115h0m0-106h0m1 19h0m0 70h0m0-84h0m0-18h0m0 32h0m1 16h0m0-44h0m1 115h0m0-87h0m0-19h0m0 35h0m0-21h0m1 11h0m0 5h0m0-43h0m0 54h0m0-94h0m0 62h0m0-26h0m1 99h0m0 24h0m1-87h0m0 28h0m0-51h0m0 164h0m1-185h0m0 72h0m0 89h0m0-136h0m0 47h0m1-33h0m0 5h0m0 11h0m0-21h0m0 58h0m0-26h0m0-22h0m1-28h0m0 28h0m0 16h0m0-35h0m1-56h0m0 52h0m0 18h0m0 46h0m0-89h0m0 89h0m1-69h0m0 83h0m0-60h0m0-46h0m0 192h0m0-141h0m1 79h0m0-115h0m0 58h0m1 0h0m0-27h0m0 33h0m0 20h0m0 15h0m0-68h0m0 16h0m1 52h0m0 44h0m0-101h0m0 5h0m1-34h0m0 0h0m0 4h0m0 9h0m0 0h0m0 65h0m1-69h0m0 36h0m0 13h0m0 44h0m0-98h0m0-9h0m0 9h0m1 0h0m0 35h0m0 0h0m0 19h0m0-45h0m0 45h0m0-24h0m1 68h0m0-63h0m0-39h0m0 177h0m0-173h0m0-17h0m1 99h0m0-8h0m0-55h0m0-40h0m0 127h0m0-87h0m0 87h0m1-87h0m0-10h0m1 32h0m0 19h0m0-25h0m0 81h0m0-91h0m0 42h0m0-76h0m1 28h0m0-10h0m0 21h0m1 30h0m0-73h0m0 4h0m0 91h0m0-8h0m0-27h0m1 59h0m0-87h0m0 35h0m0 6h0m0-13h0m0 13h0m1 46h0m0-106h0m0-13h0m0 43h0m0 24h0m0 6h0m0-35h0m1 16h0m0-58h0m0 77h0m0-30h0m0-55h0m0 16h0m1 63h0m0 35h0m0-64h0m0 22h0m0 7h0m0 6h0m1-6h0m0-49h0m0 69h0m1-49h0m0-20h0m0-18h0m0 27h0m1 60h0m0 52h0m0-20h0m0-24h0m1-47h0m0-16h0m0 11h0m0-5h0m0 5h0m1 76h0m0-101h0m1 9h0m0-53h0m0 74h0m0 25h0m0-35h0m0 5h0m1 0h0m0 96h0m1-44h0m0-107h0m0 55h0m0 30h0m0 7h0m1-92h0m0 114h0m0-70h0m0 28h0m1-38h0m0 21h0m0 11h0m0-27h0m0 102h0m0-62h0m0-63h0m0 83h0m0-49h0m0 57h0m1-52h0m0-5h0m0 42h0m0-76h0m0 0h0m0 56h0m0 13h0m0-13h0m1-12h0m0 6h0m0 41h0m1-47h0m1 0h0m0 47h0m0 16h0m0-44h0m0 13h0m1 15h0m0-111h0m0 189h0m0-173h0m1 48h0m0 12h0m1-86h0m0 14h0m0 79h0m0 28h0m1 122h0m0-169h0m0 19h0m1-35h0m0 22h0m0 0h0m0 65h0m1-59h0m0 51h0m0-93h0m0 4h0m0 107h0m1-75h0m0 19h0m0-35h0m0-64h0m1 53h0m0 40h0m0-7h0m0 35h0m0 7h0m1-7h0m0-15h0m1 69h0m0-153h0m0 64h0m0-6h0m0 48h0m0-29h0m0-25h0m1-10h0m0-38h0m0-4h0m0 42h0m1 73h0m0-24h0m1 0h0m0-14h0m0 7h0m0 49h0m0-81h0m1 32h0m0 0h0m0-7h0m0-64h0m0 64h0m0 46h0m0-81h0m0-29h0m0 102h0m0-68h0m1-11h0m0 79h0m0-63h0m0 32h0m1 0h0m0-53h0m1-14h0m0 54h0m0 20h0m0-33h0m0 6h0m0 0h0m1 42h0m0-84h0m0 49h0m1-54h0m0-17h0m0 115h0m0-9h0m0-59h0m0 59h0m0 27h0m1-81h0m0 39h0m0-7h0m0-13h0m0-49h0m0 25h0m1 24h0m0 0h0m0 82h0m0-145h0m1 56h0m0-38h0m0 51h0m1 7h0m0-96h0m0 127h0m0 8h0m0-65h0m0 65h0m0-87h0m0 35h0m0-19h0m1 39h0m0-14h0m0-6h0m1-13h0m0 57h0m1-16h0m0 44h0m1-79h0m0 101h0m0 12h0m0-100h0m0 29h0m0-22h0m0-13h0m0 62h0m1-120h0m0 86h0m0-73h0m0-48h0m0 212h0m0-99h0m0-55h0m0 11h0m0-16h0m0 122h0m1-149h0m0 60h0m0-17h0m1-21h0m0 26h0m0 63h0m0-73h0m0-6h0m0 87h0m0-81h0m0 81h0m1-92h0m1 75h0m0-70h0m0 55h0m1-20h0m0-7h0m0 69h0m0-34h0m0-73h0m0 80h0m1-15h0m0-49h0m0 64h0m1 9h0m0-57h0m0 6h0m0 20h0m1 69h0m0-117h0m0 107h0m0-72h0m1 28h0m1 44h0m0-135h0m0 44h0m1-21h0m0 33h0m0-28h0m0 35h0m0-40h0m0 46h0m1-73h0m0 48h0m0-60h0m1 34h0m1 45h0m0 82h0m1-54h0m0-15h0m0-7h0m0 14h0m0-83h0m0 98h0m1-75h0m0 68h0m0-68h0m0 21h0m1 91h0m0-59h0m0-42h0m0-29h0m1-28h0m0 180h0m0-88h0m0 7h0m0 7h0m0 148h0m0-106h0m1-152h0m0 134h0m0-31h0m0 0h0m0 31h0m0-57h0m0 13h0m0 134h0m1-52h0m0 37h0m0-143h0m0-66h0m0 90h0m1 62h0m0-27h0m0-64h0m0 22h0m1 20h0m0-7h0m0 14h0m1-113h0m0 227h0m1-90h0m0-73h0m0 5h0m0 0h0m1 59h0m0-42h0m0-17h0m0 106h0m0-157h0m0 62h0m1-36h0m0 69h0m0-7h0m0 0h0m0-20h0m0 0h0m1 13h0m0 76h0m0-127h0m0 80h0m0-106h0m0 17h0m0 116h0m0-62h0m0-40h0m1 102h0m0 57h0m0-132h0m0-32h0m0-59h0m0 80h0m1 118h0m0 40h0m1-82h0m0 20h0m0-44h0m0-77h0m0 4h0m1 32h0m0 33h0m0 42h0m0-49h0m0-13h0m0-13h0m1 181h0m0-74h0m0-139h0m0-18h0m0 63h0m0 82h0m0-69h0m1-7h0m0-19h0m0 33h0m0-27h0m0 79h0m0-117h0m1 89h0m0 38h0m0-117h0m1 97h0m0-62h0m1-45h0m0 139h0m1-139h0m0-38h0m0 43h0m0 92h0m0-131h0m1 30h0m0 199h0m0-174h0m0 192h0m0-226h0m0 45h0m0 13h0m1 44h0m0 50h0m0-81h0m0 22h0m0-15h0m1-20h0m0 119h0m0-198h0m0 34h0m0 58h0m0-58h0m1 58h0m0 49h0m0-10h0m1-52h0m0 106h0m1-155h0m0 93h0m0-63h0m0 54h0m0 0h0m0-7h0m0 44h0m0 34h0m0-113h0m1 20h0m0 39h0m0-52h0m0 6h0m1 29h0m0-54h0m0 47h0m0-82h0m1 243h0m0-127h0m1 20h0m0-106h0m0-39h0m0 76h0m0-32h0m0 25h0m0 29h0m0 37h0m1-126h0m1 148h0m0-42h0m1 30h0m0 12h0m1 25h0m0-159h0m0 75h0m0-29h0m0-19h0m1 85h0m0-28h0m0-57h0m1 26h0m0-62h0m0 77h0m0-73h0m0 51h0m1 7h0m0 22h0m0-75h0m1 68h0m0 54h0m0-10h0m0-101h0m0 22h0m0 51h0m0-93h0m1 42h0m0 13h0m0 22h0m0 54h0m0-54h0m0 0h0m1 16h0m0 38h0m0-117h0m0 63h0m0-57h0m0 148h0m0-186h0m0 111h0m0 106h0m0-130h0m1 0h0m0 0h0m0 8h0m0 16h0m0-9h0m1 59h0m0-66h0m0 34h0m0-10h0m0-39h0m0-88h0m0 40h0m0 48h0m0 7h0m0-44h0m0 158h0m1-183h0m0-18h0m0 161h0m0-66h0m1 16h0m0-51h0m0 27h0m0 0h0m0-7h0m1 15h0m0 34h0m0-27h0m1 17h0m0 30h0m0-54h0m1-22h0m0-92h0m0 236h0m0-68h0m0 37h0m0-126h0m1 59h0m0-52h0m0 6h0m0-89h0m0 70h0m1-27h0m0 11h0m0 42h0m0-42h0m1 5h0m0-5h0m0 5h0m0 96h0m0-66h0m0 76h0m0-10h0m1 22h0m0-161h0m0 54h0m1-6h0m0 71h0m0 42h0m0-12h0m1-54h0m0-15h0m0 22h0m0 0h0m1 0h0m0 84h0m0-57h0m0-10h0m0-39h0m0-20h0m1 0h0m0-6h0m0-16h0m0 73h0m0-44h0m1 62h0m0-18h0m0 28h0m0-28h0m0 28h0m0-59h0m1 15h0m0-28h0m0 72h0m1-79h0m0 7h0m0 72h0m0-91h0m0-5h0m0 96h0m1 78h0m0-44h0m0-86h0m1 15h0m1 71h0m0-71h0m1-29h0m0 0h0m1-41h0m0 107h0m0-130h0m0 51h0m1-33h0m0-5h0m0 117h0m0-59h0m0 81h0m0-139h0m1 195h0m1-88h0m0-56h0m0-55h0m1 168h0m0-67h0m0-52h0m0-7h0m1-12h0m0 101h0m1-145h0m0 145h0m0-106h0m0 158h0m1-153h0m0 101h0m0-20h0m1-18h0m0 0h0m0-57h0m0 181h0m0-86h0m0-117h0m0 185h0m1-68h0m0 86h0m1-116h0m0 98h0m1-56h0m0-113h0m0 6h0m0 95h0m0-127h0m0 164h0m0 31h0m1-157h0m0 51h0m0 50h0m0-134h0m0 40h0m0 35h0m0-70h0m0 70h0m1 47h0m0-10h0m0 34h0m0-78h0m0 78h0m0-78h0m1 0h0m0 66h0m0 74h0m1-124h0m0 0h0m0 50h0m0-81h0m0 0h0m1-26h0m0 13h0m0 20h0m0 42h0m0-34h0m1-57h0m0 64h0m0 17h0m1-17h0m0-80h0m0 97h0m0-8h0m0 0h0m0 0h0m1 124h0m0-162h0m1-30h0m0 30h0m0-41h0m0 55h0m1-20h0m0 28h0m0-35h0m0-12h0m0-5h0m0 30h0m0 46h0m0-71h0m1 81h0m0-56h0m0 56h0m0 20h0m0-111h0m0 42h0m0-62h0m0 93h0m1 18h0m0-49h0m0 22h0m0 17h0m0-39h0m0 49h0m0 44h0m0 62h0m0-148h0m0 8h0m0 78h0m1-86h0m0 52h0m0-10h0m0-27h0m0-29h0m1 0h0m0 113h0m0-47h0m0-101h0m0 81h0m0-24h0m0-57h0m1 64h0m1 115h0m0-157h0m0-12h0m0 32h0m1 7h0m0-44h0m0 52h0m0 54h0m0 68h0m0-179h0m1 91h0m0 20h0m0-89h0m0 141h0m0-90h0m0-63h0m0 25h0m1 14h0m0 52h0m0-37h0m0-29h0m0 56h0m1-18h0m0 62h0m0-106h0m0 94h0m0-81h0m0-20h0m1-12h0m0 25h0m0-25h0"/>
<path d="M43.62,235.2 L44.35,238.69 L45.08,241.92 L45.82,244.9 L46.55,247.64 L47.28,250.15 L48.01,252.45 L48.74,254.56 L49.48,256.49 L50.21,258.26 L50.94,259.89 L51.67,261.39 L52.4,262.79 L53.14,264.08 L53.87,265.28 L54.6,266.41 L55.33,267.48 L56.06,268.49 L56.8,269.44 L57.53,270.35 L58.26,271.23 L58.99,272.07 L59.72,272.88 L60.46,273.67 L61.19,274.43 L61.92,275.17 L62.65,275.9 L63.38,276.61 L64.12,277.3 L64.85,277.98 L65.58,278.65 L66.31,279.31 L67.04,279.95 L67.78,280.59 L68.51,281.22 L69.24,281.84 L69.97,282.45 L70.7,283.05 L71.44,283.65 L72.17,284.24 L72.9,284.82 L73.63,285.39 L74.36,285.96 L75.1,286.52 L75.83,287.07 L76.56,287.62 L77.29,288.16 L78.02,288.69 L78.76,289.22 L79.49,289.74 L80.22,290.25 L80.95,290.76 L81.68,291.26 L82.42,291.76 L83.15,292.24 L83.88,292.73 L84.61,293.2 L85.34,293.67 L86.08,294.13 L86.81,294.59 L87.54,295.04 L88.27,295.48 L89,295.92 L89.74,296.35 L90.47,296.77 L91.2,297.19 L91.93,297.61 L92.66,298.01 L93.4,298.41 L94.13,298.81 L94.86,299.19 L95.59,299.58 L96.32,299.95 L97.06,300.32 L97.79,300.69 L98.52,301.05 L99.25,301.4 L99.98,301.74 L100.72,302.09 L101.45,302.42 L102.18,302.75 L102.91,303.07 L103.64,303.39 L104.38,303.71 L105.11,304.01 L105.84,304.32 L106.57,304.61 L107.3,304.9 L108.04,305.19 L108.77,305.47 L109.5,305.75 L110.23,306.02 L110.96,306.28 L111.7,306.55 L112.43,306.8 L113.16,307.05 L113.89,307.3 L114.62,307.54 L115.36,307.78 L116.09,308.01 L116.82,308.24 L117.55,308.46 L118.28,308.68 L119.02,308.9 L119.75,309.11 L120.48,309.31 L121.21,309.51 L121.94,309.71 L122.68,309.91 L123.41,310.1 L124.14,310.28 L124.87,310.47 L125.6,310.64 L126.34,310.82 L127.07,310.99 L127.8,311.16 L128.53,311.32 L129.26,311.48 L130,311.64 L130.73,311.79 L131.46,311.94 L132.19,312.09 L132.92,312.24 L133.66,312.38 L134.39,312.51 L135.12,312.65 L135.85,312.78 L136.58,312.91 L137.32,313.04 L138.05,313.16 L138.78,313.28 L139.51,313.4 L140.24,313.51 L140.98,313.63 L141.71,313.74 L142.44,313.84 L143.17,313.95 L143.9,314.05 L144.64,314.15 L145.37,314.25 L146.1,314.35 L146.83,314.44 L147.56,314.53 L148.3,314.62 L149.03,314.71 L149.76,314.79 L150.49,314.88 L151.22,314.96 L151.96,315.04 L152.69,315.12 L153.42,315.19 L154.15,315.27 L154.88,315.34 L155.62,315.41 L156.35,315.48 L157.08,315.55 L157.81,315.61 L158.54,315.68 L159.28,315.74 L160.01,315.8 L160.74,315.86 L161.47,315.92 L162.2,315.98 L162.94,316.03 L163.67,316.09 L164.4,316.14 L165.13,316.19 L165.86,316.24 L166.6,316.29 L167.33,316.34 L168.06,316.39 L168.79,316.43 L169.53,316.48 L170.26,316.52 L170.99,316.56 L171.72,316.6 L172.45,316.64 L173.19,316.68 L173.92,316.72 L174.65,316.76 L175.38,316.8 L176.11,316.83 L176.85,316.87 L177.58,316.9 L178.31,316.93 L179.04,316.97 L179.77,317 L180.51,317.03 L181.24,317.06 L181.97,317.09 L182.7,317.12 L183.43,317.15 L184.17,317.17 L184.9,317.2 L185.63,317.23 L186.36,317.25 L187.09,317.28 L187.83,317.3 L188.56,317.32 L189.29,317.35 L190.02,317.37 L190.75,317.39 L191.49,317.41 L192.22,317.43 L192.95,317.45 L193.68,317.47 L194.41,317.49 L195.15,317.51 L195.88,317.53 L196.61,317.55 L197.34,317.56 L198.07,317.58 L198.81,317.6 L199.54,317.61 L200.27,317.63 L201,317.64 L201.73,317.66 L202.47,317.67 L203.2,317.69 L203.93,317.7 L204.66,317.71 L205.39,317.73 L206.13,317.74 L206.86,317.75 L207.59,317.76 L208.32,317.78 L209.05,317.79 L209.79,317.8 L210.52,317.81 L211.25,317.82 L211.98,317.83 L212.71,317.84 L213.45,317.85 L214.18,317.86 L214.91,317.87 L215.64,317.88 L216.37,317.89 L217.11,317.9 L217.84,317.91 L218.57,317.91 L219.3,317.92 L220.03,317.93 L220.77,317.94 L221.5,317.95 L222.23,317.95 L222.96,317.96 L223.69,317.97 L224.43,317.97 L225.16,317.98 L225.89,317.99 L226.62,317.99 L227.35,318 L228.09,318.01 L228.82,318.01 L229.55,318.02 L230.28,318.02 L231.01,318.03 L231.75,318.03 L232.48,318.04 L233.21,318.04 L233.94,318.05 L234.67,318.05 L235.41,318.06 L236.14,318.06 L236.87,318.07 L237.6,318.07 L238.33,318.08 L239.07,318.08 L239.8,318.08 L240.53,318.09 L241.26,318.09 L241.99,318.09 L242.73,318.1 L243.46,318.1 L244.19,318.11 L244.92,318.11 L245.65,318.11 L246.39,318.11 L247.12,318.12 L247.85,318.12 L248.58,318.12 L249.31,318.13 L250.05,318.13 L250.78,318.13 L251.51,318.13 L252.24,318.14 L252.97,318.14 L253.71,318.14 L254.44,318.14 L255.17,318.15 L255.9,318.15 L256.63,318.15 L257.37,318.15 L258.1,318.16 L258.83,318.16 L259.56,318.16 L260.29,318.16 L261.03,318.16 L261.76,318.17 L262.49,318.17" stroke="#f51a10" stroke-width="1.6" fill="none" stroke-linejoin="round" stroke-linecap="round"/>
<path d="M43.62,232.34 L44.35,233.44 L45.08,234.53 L45.82,235.59 L46.55,236.65 L47.28,237.68 L48.01,238.7 L48.74,239.71 L49.48,240.7 L50.21,241.67 L50.94,242.63 L51.67,243.58 L52.4,244.51 L53.14,245.43 L53.87,246.34 L54.6,247.24 L55.33,248.13 L56.06,249 L56.8,249.86 L57.53,250.71 L58.26,251.56 L58.99,252.39 L59.72,253.21 L60.46,254.02 L61.19,254.83 L61.92,255.62 L62.65,256.41 L63.38,257.19 L64.12,257.96 L64.85,258.72 L65.58,259.48 L66.31,260.23 L67.04,260.97 L67.78,261.7 L68.51,262.43 L69.24,263.16 L69.97,263.87 L70.7,264.58 L71.44,265.29 L72.17,265.99 L72.9,266.69 L73.63,267.38 L74.36,268.06 L75.1,268.75 L75.83,269.42 L76.56,270.09 L77.29,270.76 L78.02,271.43 L78.76,272.09 L79.49,272.75 L80.22,273.4 L80.95,274.05 L81.68,274.7 L82.42,275.34 L83.15,275.98 L83.88,276.62 L84.61,277.25 L85.34,277.88 L86.08,278.51 L86.81,279.13 L87.54,279.76 L88.27,280.38 L89,280.99 L89.74,281.61 L90.47,282.22 L91.2,282.83 L91.93,283.44 L92.66,284.05 L93.4,284.65 L94.13,285.25 L94.86,285.85 L95.59,286.45 L96.32,287.04 L97.06,287.64 L97.79,288.23 L98.52,288.82 L99.25,289.4 L99.98,289.99 L100.72,290.57 L101.45,291.15 L102.18,291.73 L102.91,292.31 L103.64,292.89 L104.38,293.46 L105.11,294.04 L105.84,294.61 L106.57,295.18 L107.3,295.74 L108.04,296.31 L108.77,296.88 L109.5,297.44 L110.23,298 L110.96,298.56 L111.7,299.12 L112.43,299.67 L113.16,300.23 L113.89,300.78 L114.62,301.33 L115.36,301.88 L116.09,302.43 L116.82,302.97 L117.55,303.52 L118.28,304.06 L119.02,304.6 L119.75,305.14 L120.48,305.67 L121.21,306.21 L121.94,306.74 L122.68,307.28 L123.41,307.81 L124.14,308.34 L124.87,308.86 L125.6,309.39 L126.34,309.91 L127.07,310.43 L127.8,310.95 L128.53,311.47 L129.26,311.99 L130,312.5 L130.73,313.01 L131.46,313.52 L132.19,314.03 L132.92,314.54 L133.66,315.04 L134.39,315.55 L135.12,316.05 L135.85,316.55 L136.58,317.05 L137.32,317.54 L138.05,318.04 L138.78,318.53 L139.51,319.02 L140.24,319.5 L140.98,319.99 L141.71,320.47 L142.44,320.95 L143.17,321.43 L143.9,321.91 L144.64,322.39 L145.37,322.86 L146.1,323.33 L146.83,323.8 L147.56,324.27 L148.3,324.73 L149.03,325.19 L149.76,325.65 L150.49,326.11 L151.22,326.57 L151.96,327.02 L152.69,327.47 L153.42,327.92 L154.15,328.37 L154.88,328.81 L155.62,329.25 L156.35,329.69 L157.08,330.13 L157.81,330.57 L158.54,331 L159.28,331.43 L160.01,331.86 L160.74,332.28 L161.47,332.71 L162.2,333.13 L162.94,333.55 L163.67,333.96 L164.4,334.37 L165.13,334.79 L165.86,335.19 L166.6,335.6 L167.33,336 L168.06,336.4 L168.79,336.8 L169.53,337.2 L170.26,337.59 L170.99,337.98 L171.72,338.37 L172.45,338.76 L173.19,339.14 L173.92,339.52 L174.65,339.9 L175.38,340.27 L176.11,340.65 L176.85,341.02 L177.58,341.38 L178.31,341.75 L179.04,342.11 L179.77,342.47 L180.51,342.83 L181.24,343.18 L181.97,343.53 L182.7,343.88 L183.43,344.23 L184.17,344.57 L184.9,344.92 L185.63,345.25 L186.36,345.59 L187.09,345.92 L187.83,346.25 L188.56,346.58 L189.29,346.91 L190.02,347.23 L190.75,347.55 L191.49,347.86 L192.22,348.18 L192.95,348.49 L193.68,348.8 L194.41,349.11 L195.15,349.41 L195.88,349.71 L196.61,350.01 L197.34,350.3 L198.07,350.6 L198.81,350.89 L199.54,351.18 L200.27,351.46 L201,351.74 L201.73,352.02 L202.47,352.3 L203.2,352.57 L203.93,352.85 L204.66,353.11 L205.39,353.38 L206.13,353.65 L206.86,353.91 L207.59,354.17 L208.32,354.42 L209.05,354.68 L209.79,354.93 L210.52,355.18 L211.25,355.42 L211.98,355.67 L212.71,355.91 L213.45,356.15 L214.18,356.38 L214.91,356.61 L215.64,356.85 L216.37,357.07 L217.11,357.3 L217.84,357.52 L218.57,357.75 L219.3,357.96 L220.03,358.18 L220.77,358.4 L221.5,358.61 L222.23,358.82 L222.96,359.02 L223.69,359.23 L224.43,359.43 L225.16,359.63 L225.89,359.83 L226.62,360.02 L227.35,360.22 L228.09,360.41 L228.82,360.6 L229.55,360.78 L230.28,360.97 L231.01,361.15 L231.75,361.33 L232.48,361.51 L233.21,361.68 L233.94,361.86 L234.67,362.03 L235.41,362.2 L236.14,362.36 L236.87,362.53 L237.6,362.69 L238.33,362.85 L239.07,363.01 L239.8,363.17 L240.53,363.33 L241.26,363.48 L241.99,363.63 L242.73,363.78 L243.46,363.93 L244.19,364.07 L244.92,364.22 L245.65,364.36 L246.39,364.5 L247.12,364.64 L247.85,364.77 L248.58,364.91 L249.31,365.04 L250.05,365.17 L250.78,365.3 L251.51,365.43 L252.24,365.55 L252.97,365.68 L253.71,365.8 L254.44,365.92 L255.17,366.04 L255.9,366.16 L256.63,366.28 L257.37,366.39 L258.1,366.5 L258.83,366.61 L259.56,366.72 L260.29,366.83 L261.03,366.94 L261.76,367.04 L262.49,367.15" stroke="#f51a10" stroke-width="1.6" fill="none" stroke-linejoin="round" stroke-linecap="round"/>
<path d="M43.62,229.78 L44.35,230.58 L45.08,231.36 L45.82,232.15 L46.55,232.92 L47.28,233.69 L48.01,234.46 L48.74,235.21 L49.48,235.97 L50.21,236.71 L50.94,237.45 L51.67,238.19 L52.4,238.92 L53.14,239.64 L53.87,240.36 L54.6,241.07 L55.33,241.78 L56.06,242.49 L56.8,243.19 L57.53,243.88 L58.26,244.57 L58.99,245.25 L59.72,245.93 L60.46,246.61 L61.19,247.28 L61.92,247.94 L62.65,248.61 L63.38,249.26 L64.12,249.92 L64.85,250.57 L65.58,251.21 L66.31,251.85 L67.04,252.49 L67.78,253.12 L68.51,253.75 L69.24,254.38 L69.97,255 L70.7,255.62 L71.44,256.23 L72.17,256.85 L72.9,257.46 L73.63,258.06 L74.36,258.66 L75.1,259.26 L75.83,259.86 L76.56,260.45 L77.29,261.04 L78.02,261.63 L78.76,262.21 L79.49,262.79 L80.22,263.37 L80.95,263.95 L81.68,264.52 L82.42,265.09 L83.15,265.66 L83.88,266.22 L84.61,266.78 L85.34,267.34 L86.08,267.9 L86.81,268.46 L87.54,269.01 L88.27,269.56 L89,270.11 L89.74,270.66 L90.47,271.2 L91.2,271.74 L91.93,272.28 L92.66,272.82 L93.4,273.36 L94.13,273.89 L94.86,274.43 L95.59,274.96 L96.32,275.48 L97.06,276.01 L97.79,276.54 L98.52,277.06 L99.25,277.58 L99.98,278.1 L100.72,278.62 L101.45,279.13 L102.18,279.65 L102.91,280.16 L103.64,280.67 L104.38,281.18 L105.11,281.69 L105.84,282.2 L106.57,282.7 L107.3,283.21 L108.04,283.71 L108.77,284.21 L109.5,284.71 L110.23,285.21 L110.96,285.7 L111.7,286.2 L112.43,286.69 L113.16,287.19 L113.89,287.68 L114.62,288.17 L115.36,288.65 L116.09,289.14 L116.82,289.63 L117.55,290.11 L118.28,290.6 L119.02,291.08 L119.75,291.56 L120.48,292.04 L121.21,292.52 L121.94,292.99 L122.68,293.47 L123.41,293.94 L124.14,294.42 L124.87,294.89 L125.6,295.36 L126.34,295.83 L127.07,296.3 L127.8,296.76 L128.53,297.23 L129.26,297.7 L130,298.16 L130.73,298.62 L131.46,299.08 L132.19,299.54 L132.92,300 L133.66,300.46 L134.39,300.92 L135.12,301.37 L135.85,301.83 L136.58,302.28 L137.32,302.73 L138.05,303.18 L138.78,303.63 L139.51,304.08 L140.24,304.53 L140.98,304.98 L141.71,305.42 L142.44,305.87 L143.17,306.31 L143.9,306.75 L144.64,307.19 L145.37,307.63 L146.1,308.07 L146.83,308.51 L147.56,308.94 L148.3,309.38 L149.03,309.81 L149.76,310.24 L150.49,310.67 L151.22,311.1 L151.96,311.53 L152.69,311.96 L153.42,312.39 L154.15,312.81 L154.88,313.23 L155.62,313.66 L156.35,314.08 L157.08,314.5 L157.81,314.92 L158.54,315.34 L159.28,315.75 L160.01,316.17 L160.74,316.58 L161.47,316.99 L162.2,317.41 L162.94,317.82 L163.67,318.23 L164.4,318.63 L165.13,319.04 L165.86,319.44 L166.6,319.85 L167.33,320.25 L168.06,320.65 L168.79,321.05 L169.53,321.45 L170.26,321.85 L170.99,322.24 L171.72,322.64 L172.45,323.03 L173.19,323.42 L173.92,323.81 L174.65,324.2 L175.38,324.59 L176.11,324.98 L176.85,325.36 L177.58,325.75 L178.31,326.13 L179.04,326.51 L179.77,326.89 L180.51,327.27 L181.24,327.64 L181.97,328.02 L182.7,328.39 L183.43,328.76 L184.17,329.13 L184.9,329.5 L185.63,329.87 L186.36,330.24 L187.09,330.6 L187.83,330.96 L188.56,331.33 L189.29,331.69 L190.02,332.04 L190.75,332.4 L191.49,332.76 L192.22,333.11 L192.95,333.46 L193.68,333.82 L194.41,334.16 L195.15,334.51 L195.88,334.86 L196.61,335.2 L197.34,335.55 L198.07,335.89 L198.81,336.23 L199.54,336.57 L200.27,336.9 L201,337.24 L201.73,337.57 L202.47,337.9 L203.2,338.24 L203.93,338.56 L204.66,338.89 L205.39,339.22 L206.13,339.54 L206.86,339.86 L207.59,340.18 L208.32,340.5 L209.05,340.82 L209.79,341.13 L210.52,341.45 L211.25,341.76 L211.98,342.07 L212.71,342.38 L213.45,342.69 L214.18,342.99 L214.91,343.3 L215.64,343.6 L216.37,343.9 L217.11,344.2 L217.84,344.49 L218.57,344.79 L219.3,345.08 L220.03,345.37 L220.77,345.66 L221.5,345.95 L222.23,346.24 L222.96,346.52 L223.69,346.81 L224.43,347.09 L225.16,347.37 L225.89,347.65 L226.62,347.92 L227.35,348.2 L228.09,348.47 L228.82,348.74 L229.55,349.01 L230.28,349.28 L231.01,349.54 L231.75,349.81 L232.48,350.07 L233.21,350.33 L233.94,350.59 L234.67,350.84 L235.41,351.1 L236.14,351.35 L236.87,351.61 L237.6,351.86 L238.33,352.1 L239.07,352.35 L239.8,352.59 L240.53,352.84 L241.26,353.08 L241.99,353.32 L242.73,353.56 L243.46,353.79 L244.19,354.03 L244.92,354.26 L245.65,354.49 L246.39,354.72 L247.12,354.95 L247.85,355.17 L248.58,355.4 L249.31,355.62 L250.05,355.84 L250.78,356.06 L251.51,356.28 L252.24,356.49 L252.97,356.71 L253.71,356.92 L254.44,357.13 L255.17,357.34 L255.9,357.54 L256.63,357.75 L257.37,357.95 L258.1,358.16 L258.83,358.36 L259.56,358.56 L260.29,358.75 L261.03,358.95 L261.76,359.14 L262.49,359.33" stroke="#f51a10" stroke-width="1.6" fill="none" stroke-linejoin="round" stroke-linecap="round"/>
<rect x="43.4" y="227.7" width="219.2" height="176.6" stroke="#333" stroke-width="1.3" fill="none"/>
<line x1="43.4" y1="404.3" x2="43.4" y2="407.8" stroke="#333" stroke-width="1.1"/>
<line x1="57.1" y1="404.3" x2="57.1" y2="406.3" stroke="#333" stroke-width="1.1"/>
<line x1="70.8" y1="404.3" x2="70.8" y2="407.8" stroke="#333" stroke-width="1.1"/>
<line x1="84.5" y1="404.3" x2="84.5" y2="406.3" stroke="#333" stroke-width="1.1"/>
<line x1="98.2" y1="404.3" x2="98.2" y2="407.8" stroke="#333" stroke-width="1.1"/>
<line x1="111.9" y1="404.3" x2="111.9" y2="406.3" stroke="#333" stroke-width="1.1"/>
<line x1="125.6" y1="404.3" x2="125.6" y2="407.8" stroke="#333" stroke-width="1.1"/>
<line x1="139.3" y1="404.3" x2="139.3" y2="406.3" stroke="#333" stroke-width="1.1"/>
<line x1="153" y1="404.3" x2="153" y2="407.8" stroke="#333" stroke-width="1.1"/>
<line x1="166.7" y1="404.3" x2="166.7" y2="406.3" stroke="#333" stroke-width="1.1"/>
<line x1="180.4" y1="404.3" x2="180.4" y2="407.8" stroke="#333" stroke-width="1.1"/>
<line x1="194.1" y1="404.3" x2="194.1" y2="406.3" stroke="#333" stroke-width="1.1"/>
<line x1="207.8" y1="404.3" x2="207.8" y2="407.8" stroke="#333" stroke-width="1.1"/>
<line x1="221.5" y1="404.3" x2="221.5" y2="406.3" stroke="#333" stroke-width="1.1"/>
<line x1="235.2" y1="404.3" x2="235.2" y2="407.8" stroke="#333" stroke-width="1.1"/>
<line x1="248.9" y1="404.3" x2="248.9" y2="406.3" stroke="#333" stroke-width="1.1"/>
<line x1="262.6" y1="404.3" x2="262.6" y2="407.8" stroke="#333" stroke-width="1.1"/>
<text x="40.63" y="418.2" font-size="10" fill="#000" font-weight="bold">0</text>
<text x="65.29" y="418.2" font-size="10" fill="#000" font-weight="bold">50</text>
<text x="89.75" y="418.2" font-size="10" fill="#000" font-weight="bold">100</text>
<text x="117.15" y="418.2" font-size="10" fill="#000" font-weight="bold">150</text>
<text x="144.69" y="418.2" font-size="10" fill="#000" font-weight="bold">200</text>
<text x="172.09" y="418.2" font-size="10" fill="#000" font-weight="bold">250</text>
<text x="199.55" y="418.2" font-size="10" fill="#000" font-weight="bold">300</text>
<text x="226.95" y="418.2" font-size="10" fill="#000" font-weight="bold">350</text>
<text x="254.39" y="418.2" font-size="10" fill="#000" font-weight="bold">400</text>
<line x1="40.2" y1="227.7" x2="43.4" y2="227.7" stroke="#333" stroke-width="1.1"/>
<line x1="40.2" y1="316" x2="43.4" y2="316" stroke="#333" stroke-width="1.1"/>
<line x1="40.2" y1="404.3" x2="43.4" y2="404.3" stroke="#333" stroke-width="1.1"/>
<line x1="41.6" y1="289.42" x2="43.4" y2="289.42" stroke="#333" stroke-width="1.0"/>
<line x1="41.6" y1="273.87" x2="43.4" y2="273.87" stroke="#333" stroke-width="1.0"/>
<line x1="41.6" y1="262.84" x2="43.4" y2="262.84" stroke="#333" stroke-width="1.0"/>
<line x1="41.6" y1="254.28" x2="43.4" y2="254.28" stroke="#333" stroke-width="1.0"/>
<line x1="41.6" y1="247.29" x2="43.4" y2="247.29" stroke="#333" stroke-width="1.0"/>
<line x1="41.6" y1="241.38" x2="43.4" y2="241.38" stroke="#333" stroke-width="1.0"/>
<line x1="41.6" y1="236.26" x2="43.4" y2="236.26" stroke="#333" stroke-width="1.0"/>
<line x1="41.6" y1="231.74" x2="43.4" y2="231.74" stroke="#333" stroke-width="1.0"/>
<line x1="41.6" y1="377.72" x2="43.4" y2="377.72" stroke="#333" stroke-width="1.0"/>
<line x1="41.6" y1="362.17" x2="43.4" y2="362.17" stroke="#333" stroke-width="1.0"/>
<line x1="41.6" y1="351.14" x2="43.4" y2="351.14" stroke="#333" stroke-width="1.0"/>
<line x1="41.6" y1="342.58" x2="43.4" y2="342.58" stroke="#333" stroke-width="1.0"/>
<line x1="41.6" y1="335.59" x2="43.4" y2="335.59" stroke="#333" stroke-width="1.0"/>
<line x1="41.6" y1="329.68" x2="43.4" y2="329.68" stroke="#333" stroke-width="1.0"/>
<line x1="41.6" y1="324.56" x2="43.4" y2="324.56" stroke="#333" stroke-width="1.0"/>
<line x1="41.6" y1="320.04" x2="43.4" y2="320.04" stroke="#333" stroke-width="1.0"/>
<text x="32.27" y="230.6" font-size="10" fill="#000" font-weight="bold">1</text>
<text x="23.2" y="319.2" font-size="10" fill="#000" font-weight="bold">0.1</text>
<text x="18.31" y="407.5" font-size="9.9" fill="#000" font-weight="bold">0.01</text>
<text x="126.76" y="437.3" font-size="12.1" fill="#000" font-weight="bold">Time (ns)</text>
<text transform="translate(13.8,341.32) rotate(-90)" x="0" y="0" font-size="12.3" fill="#000" font-weight="bold">Intensity</text>
<rect x="157.8" y="241.0" width="1.3" height="1.3" fill="#111"/>
<text x="170.63" y="244.6" font-size="9" fill="#111" font-weight="bold">CdSeTe</text>
<rect x="157.8" y="252.5" width="1.3" height="1.3" fill="#96ea30"/>
<text x="170.63" y="256.1" font-size="9" fill="#80d230" font-weight="bold">CdSeTe/CdS</text>
<rect x="157.8" y="263.8" width="1.3" height="1.3" fill="#ff8c1a"/>
<text x="170.63" y="267.4" font-size="9" fill="#f07e22" font-weight="bold">CdSeTe/CdZnS</text>
<rect x="333.1" y="311.80" width="29.30" height="92.60" fill="#fdc897"/>
<rect x="406.2" y="297.90" width="29.50" height="106.50" fill="#fdc897"/>
<rect x="479.4" y="296.90" width="29.40" height="107.50" fill="#fdc897"/>
<rect x="311.4" y="227.7" width="219.4" height="176.7" stroke="#333" stroke-width="1.3" fill="none"/>
<line x1="308.2" y1="404.4" x2="311.4" y2="404.4" stroke="#333" stroke-width="1.1"/>
<line x1="309.8" y1="382.31" x2="311.4" y2="382.31" stroke="#333" stroke-width="1.1"/>
<line x1="308.2" y1="360.22" x2="311.4" y2="360.22" stroke="#333" stroke-width="1.1"/>
<line x1="309.8" y1="338.14" x2="311.4" y2="338.14" stroke="#333" stroke-width="1.1"/>
<line x1="308.2" y1="316.05" x2="311.4" y2="316.05" stroke="#333" stroke-width="1.1"/>
<line x1="309.8" y1="293.96" x2="311.4" y2="293.96" stroke="#333" stroke-width="1.1"/>
<line x1="308.2" y1="271.88" x2="311.4" y2="271.88" stroke="#333" stroke-width="1.1"/>
<line x1="309.8" y1="249.79" x2="311.4" y2="249.79" stroke="#333" stroke-width="1.1"/>
<line x1="308.2" y1="227.7" x2="311.4" y2="227.7" stroke="#333" stroke-width="1.1"/>
<text x="285.7" y="407.7" font-size="10" fill="#000" font-weight="bold" textLength="19.61" lengthAdjust="spacingAndGlyphs">0.10</text>
<text x="285.7" y="363.52" font-size="10" fill="#000" font-weight="bold" textLength="19.47" lengthAdjust="spacingAndGlyphs">0.15</text>
<text x="285.7" y="319.35" font-size="10" fill="#000" font-weight="bold" textLength="19.61" lengthAdjust="spacingAndGlyphs">0.20</text>
<text x="285.7" y="275.18" font-size="10" fill="#000" font-weight="bold" textLength="19.47" lengthAdjust="spacingAndGlyphs">0.25</text>
<text x="285.7" y="231" font-size="10" fill="#000" font-weight="bold" textLength="19.61" lengthAdjust="spacingAndGlyphs">0.30</text>
<text x="333.14" y="303.1" font-size="11.4" fill="#000" font-weight="bold" textLength="29.08" lengthAdjust="spacingAndGlyphs">0.203</text>
<text x="403.55" y="293.3" font-size="11.4" fill="#000" font-weight="bold" textLength="28.52" lengthAdjust="spacingAndGlyphs">0.220</text>
<text x="478.16" y="290.5" font-size="11.4" fill="#000" font-weight="bold" textLength="27.95" lengthAdjust="spacingAndGlyphs">0.221</text>
<text x="307.39" y="418.2" font-size="10" fill="#000" font-weight="bold" textLength="60.3" lengthAdjust="spacingAndGlyphs">CdSeTe/CdS</text>
<text x="377.89" y="418.2" font-size="10" fill="#000" font-weight="bold" textLength="71.8" lengthAdjust="spacingAndGlyphs">CdSeTe/CdZnS</text>
<text x="455.19" y="418.2" font-size="10" fill="#000" font-weight="bold" textLength="94.2" lengthAdjust="spacingAndGlyphs">CdSeTe/CdZnS/ZnS</text>
<text x="271.1" y="243.9" font-size="24.5" fill="#000" font-weight="bold">d</text>
</svg>
</body></html>
